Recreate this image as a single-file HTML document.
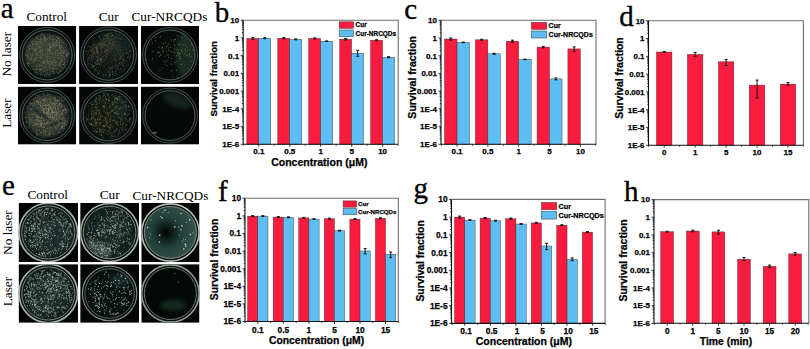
<!DOCTYPE html>
<html><head><meta charset="utf-8"><style>html,body{margin:0;padding:0;background:#fff;}svg{display:block}</style></head>
<body><svg width="810" height="349" viewBox="0 0 810 349">
<rect width="810" height="349" fill="#fff"/>
<defs><filter id="bl03" x="-5%" y="-5%" width="110%" height="110%"><feGaussianBlur stdDeviation="0.35"/></filter><filter id="bl06" x="-5%" y="-5%" width="110%" height="110%"><feGaussianBlur stdDeviation="0.6"/></filter><filter id="bl2" x="-30%" y="-30%" width="160%" height="160%"><feGaussianBlur stdDeviation="2.2"/></filter></defs>
<clipPath id="cp0"><rect x="18.00" y="25.90" width="58.20" height="58.10"/></clipPath>
<clipPath id="ci0"><circle cx="47.10" cy="54.95" r="25.14"/></clipPath>
<g clip-path="url(#cp0)">
<rect x="18.00" y="25.90" width="58.20" height="58.10" fill="#040605"/>
<circle cx="47.10" cy="54.95" r="27.94" fill="#0a100e"/>
<circle cx="47.10" cy="54.95" r="25.14" fill="#0b1312"/>
<g clip-path="url(#ci0)">
<ellipse cx="47.10" cy="53.55" rx="21.79" ry="18.16" fill="#44463a" fill-opacity="0.7" filter="url(#bl2)"/>
<path d="M39.4 39.7h0M35.0 60.5h0M50.5 50.4h0M38.4 67.8h0M35.9 58.2h0M46.6 34.9h0M58.6 58.1h0M39.0 63.5h0M50.6 53.0h0M66.5 53.8h0M28.0 63.7h0M37.7 50.0h0M44.9 57.1h0M43.4 48.8h0M41.4 57.8h0M55.4 55.6h0M54.8 35.5h0M59.3 71.3h0M41.2 34.3h0M49.0 34.3h0M32.6 66.8h0M62.5 68.3h0M57.6 43.0h0M37.5 44.5h0M67.0 52.7h0M33.9 42.1h0M46.2 61.6h0M29.0 61.9h0M42.6 50.7h0M60.5 39.5h0M53.6 56.1h0M44.2 71.2h0M43.6 38.9h0M40.7 53.1h0M64.7 51.5h0M47.2 56.3h0M32.8 53.8h0M49.6 47.4h0M59.0 55.3h0M52.0 55.2h0M55.5 52.9h0M46.1 74.2h0M36.6 57.5h0M28.5 62.3h0M42.7 54.4h0M39.8 60.4h0M43.7 72.9h0M36.6 39.7h0M38.9 46.5h0M61.7 50.3h0M40.2 69.4h0M44.7 44.6h0M41.9 53.8h0M38.6 43.3h0M48.4 65.9h0M31.8 64.7h0M64.2 60.5h0M60.7 39.2h0M47.3 69.5h0M61.3 58.6h0M41.0 37.7h0M49.7 60.5h0M60.1 65.8h0M55.1 66.6h0M37.0 62.4h0M54.8 45.8h0M64.3 41.8h0M45.3 68.9h0M50.7 39.3h0M61.1 55.3h0M56.0 43.2h0M65.7 64.2h0M61.7 45.6h0M36.2 44.7h0M33.6 49.4h0M63.8 68.5h0M57.2 52.8h0M32.4 42.2h0M47.0 42.7h0M36.6 58.0h0M28.0 45.3h0M30.8 55.1h0M64.3 53.8h0M48.1 62.9h0M56.8 61.4h0M59.4 43.3h0M36.3 60.9h0M38.5 53.2h0M35.5 43.9h0M36.5 62.2h0M40.0 51.5h0M33.9 67.9h0M47.3 42.1h0M35.0 51.3h0M42.5 42.4h0M27.9 50.3h0M63.8 65.1h0M40.9 69.0h0M43.2 68.5h0M36.5 65.7h0M40.1 45.0h0M52.2 44.6h0M58.2 73.1h0M35.5 53.9h0M44.0 54.7h0M33.3 68.1h0M61.2 66.8h0M49.4 47.4h0M35.5 51.3h0M54.7 65.8h0M54.3 38.4h0M36.0 39.8h0M60.5 61.6h0M29.8 53.9h0M30.5 41.4h0M29.9 59.1h0M34.2 44.3h0M38.9 42.0h0M42.5 57.1h0M41.2 41.8h0M64.6 51.6h0M49.3 61.1h0M46.7 68.2h0M33.9 38.7h0M65.7 50.1h0M34.8 50.6h0M51.4 57.1h0M38.7 51.5h0M44.4 34.2h0M46.6 43.4h0M47.5 34.9h0M28.9 65.1h0M47.6 35.5h0M68.1 54.6h0M28.2 48.5h0M59.5 38.2h0M53.0 48.8h0M49.5 58.4h0M52.8 50.3h0M50.5 48.9h0M44.6 40.9h0M36.4 61.0h0M53.1 71.1h0M53.4 52.5h0M57.3 44.0h0M34.0 59.7h0M64.1 67.3h0M57.8 53.4h0M39.9 65.8h0M49.4 52.2h0M48.1 44.7h0M36.7 43.4h0M35.7 72.7h0M55.5 62.2h0M45.8 69.8h0M62.7 52.2h0M52.4 36.6h0M27.1 63.3h0M51.0 49.0h0M60.7 60.8h0M36.5 45.5h0M41.3 47.1h0M47.3 70.3h0M59.0 48.3h0M48.8 42.6h0M34.1 66.4h0M53.1 36.7h0M55.7 67.5h0M34.3 44.6h0M47.2 49.7h0M35.5 53.2h0M58.2 66.0h0M62.1 62.0h0M32.7 52.3h0M38.4 63.8h0M39.6 41.4h0M57.1 37.6h0M29.7 49.9h0M42.7 67.6h0M35.3 64.6h0M59.0 63.7h0M43.6 67.3h0M49.0 40.2h0M50.3 56.7h0M47.6 61.0h0M48.0 51.0h0M58.5 38.5h0M36.9 42.9h0M30.9 67.0h0M53.0 53.6h0M40.7 61.0h0M49.2 38.6h0M31.5 43.3h0M40.4 39.8h0M59.8 40.5h0M51.8 67.2h0M64.3 67.5h0M33.9 63.4h0M57.6 52.3h0M47.0 56.7h0M45.7 57.7h0M51.9 62.9h0M47.6 54.3h0M52.6 47.9h0M41.3 53.8h0M43.7 57.3h0M47.3 45.0h0M67.8 61.7h0M50.9 60.8h0M51.8 61.8h0M65.0 59.8h0M52.6 63.5h0M55.0 42.4h0M59.1 73.0h0M41.4 69.0h0M60.6 58.2h0M51.1 74.0h0M55.1 38.5h0M56.7 43.7h0M59.0 64.3h0M57.1 36.8h0M56.2 53.2h0M54.8 39.5h0M41.1 61.3h0M43.5 50.0h0M61.4 47.6h0M64.0 49.6h0M51.5 72.2h0M36.8 51.6h0M61.6 68.5h0M50.2 45.1h0M60.5 63.0h0M40.4 36.9h0M60.1 41.9h0M34.3 44.3h0M50.6 72.2h0M48.1 53.9h0M55.9 49.0h0M41.6 37.8h0M59.6 40.0h0M63.1 54.4h0M27.5 57.5h0M45.3 74.4h0M36.5 57.8h0M44.8 40.1h0M40.7 72.5h0M59.6 64.1h0M31.6 66.1h0M54.8 46.2h0M44.8 37.4h0M27.8 64.3h0M34.1 49.0h0M29.6 45.8h0M65.1 42.7h0M31.3 41.0h0M37.2 42.1h0M56.2 68.5h0M57.2 50.9h0M39.9 69.9h0M46.8 33.8h0M32.4 49.3h0M47.8 38.4h0M56.3 49.8h0M66.9 54.7h0M26.1 59.3h0M30.7 54.7h0M31.3 59.0h0M31.7 58.1h0M32.5 69.2h0M42.3 51.5h0M48.2 50.4h0M39.9 52.1h0M47.9 74.9h0M36.2 51.6h0M52.9 68.4h0M53.3 44.7h0M37.2 56.8h0M52.4 44.1h0M51.2 74.8h0M37.0 53.5h0M49.1 69.8h0M56.3 53.2h0M35.9 42.8h0M42.2 52.3h0M30.1 43.0h0M40.7 62.6h0M62.4 68.9h0M57.5 65.6h0M46.0 67.4h0M59.5 71.2h0M31.6 58.2h0M39.4 69.9h0M48.8 76.7h0M66.6 62.6h0M49.8 58.2h0M40.3 56.3h0M32.8 47.0h0M64.3 63.2h0M33.3 60.6h0M59.6 46.5h0M62.0 58.7h0M33.9 54.9h0M36.9 61.3h0M32.7 55.9h0M64.1 58.6h0M62.6 46.9h0M60.9 46.4h0M67.1 54.8h0M35.9 50.1h0M35.0 46.6h0M49.8 38.2h0M44.6 69.6h0M32.2 48.5h0M45.0 38.9h0M36.7 72.4h0M41.3 43.9h0M58.9 49.9h0M62.4 47.2h0M64.9 66.9h0M43.3 61.9h0M65.1 65.2h0M53.1 41.0h0M36.0 38.0h0M58.0 36.9h0M42.5 65.7h0M37.6 37.1h0M43.8 73.7h0M57.5 69.3h0M45.0 35.5h0M44.0 55.5h0M49.1 75.4h0M38.8 39.1h0M47.8 52.6h0M40.6 46.2h0M60.8 57.1h0M32.7 62.2h0M45.4 66.5h0M37.6 41.8h0M29.0 64.4h0M44.2 41.4h0M53.4 60.5h0M33.4 61.0h0M59.5 69.3h0M39.5 41.2h0M39.3 49.2h0M27.1 57.9h0M61.0 63.9h0M32.2 46.2h0M62.0 70.4h0M43.9 45.5h0M44.4 62.2h0M38.2 52.5h0M39.4 53.2h0M50.6 51.3h0M49.2 38.1h0M36.4 37.3h0M36.3 54.5h0M62.9 57.2h0M58.3 38.2h0M56.8 37.6h0M42.4 40.6h0M56.1 51.7h0M52.4 71.2h0M58.6 62.8h0M30.7 49.4h0M51.6 37.5h0M60.3 38.1h0M44.8 69.7h0M49.5 45.8h0M41.9 39.4h0M48.8 63.2h0M40.2 39.7h0M33.3 68.8h0M62.1 50.3h0M34.7 72.1h0M41.0 53.5h0M50.1 56.2h0M49.7 66.8h0M59.1 60.8h0M41.1 45.4h0M55.0 46.4h0M57.5 55.3h0M57.0 57.2h0M40.1 73.3h0M59.1 51.8h0M28.3 54.3h0M32.5 44.8h0M51.6 70.8h0M33.9 65.1h0M51.5 36.6h0M33.5 56.6h0M39.5 65.8h0M60.8 51.6h0M51.0 57.3h0M51.5 47.6h0M36.5 64.2h0M59.1 46.6h0M25.7 53.9h0M59.0 49.0h0M27.9 55.0h0M57.3 36.0h0M49.9 51.0h0M35.4 42.0h0M53.3 46.2h0M37.0 65.9h0M63.8 48.9h0M62.9 41.1h0M65.3 64.4h0M35.5 67.7h0M40.7 54.8h0M40.5 42.5h0M55.3 61.6h0M49.2 63.2h0M39.2 51.4h0M65.7 44.3h0M55.6 47.3h0M49.2 46.9h0M62.5 55.4h0M56.3 50.3h0M52.0 44.7h0M45.9 64.6h0M65.7 56.2h0M53.2 69.2h0M41.9 69.4h0M29.1 50.4h0M55.0 49.2h0M43.8 67.7h0M43.1 61.4h0M40.7 50.0h0M48.2 54.8h0M47.6 69.1h0M54.9 57.3h0M62.7 57.4h0M63.1 68.1h0M60.2 41.9h0M48.5 51.0h0M39.4 45.1h0M38.0 64.1h0M51.1 53.0h0M51.3 41.0h0M50.7 47.1h0M53.2 42.9h0M29.4 53.4h0M46.4 70.8h0M37.1 72.1h0M26.7 59.3h0M40.3 74.3h0M49.7 37.3h0M53.5 38.9h0M40.7 49.5h0M32.5 40.6h0M39.8 69.9h0M45.7 40.3h0M35.8 71.1h0M66.4 54.4h0M26.7 50.3h0M50.5 43.4h0M36.0 59.3h0M27.1 60.1h0M60.8 48.1h0M29.1 43.8h0M46.2 54.8h0M64.9 65.9h0M34.0 60.4h0M59.6 37.2h0M40.5 40.2h0M64.7 65.6h0M61.3 67.3h0M46.8 72.7h0M56.3 50.2h0M59.9 62.9h0M51.2 69.6h0M34.6 48.6h0M55.1 35.0h0M33.3 45.0h0M41.1 42.9h0M47.1 74.8h0M61.5 40.2h0M66.5 53.0h0M49.4 70.7h0M41.7 73.6h0M54.3 36.5h0M48.1 62.6h0M47.0 49.0h0M58.0 72.0h0M39.5 39.1h0M42.4 65.7h0M49.0 51.5h0M53.6 68.2h0M41.9 75.1h0M50.4 69.2h0M40.4 39.3h0M33.5 46.6h0M44.9 69.6h0M58.3 53.7h0M41.1 73.1h0M28.4 57.1h0M54.9 51.1h0M30.2 46.5h0M67.5 60.8h0M59.1 50.4h0M63.3 56.3h0M47.2 70.3h0M50.5 50.8h0M37.2 70.0h0M61.8 39.7h0M58.2 55.0h0M64.5 65.5h0M56.0 63.8h0M37.3 36.1h0M35.1 37.2h0M27.9 52.6h0M59.9 42.3h0M52.8 64.7h0M42.7 55.5h0M35.2 71.0h0M45.1 62.9h0M36.9 57.6h0M62.9 64.6h0M40.8 72.3h0M59.9 53.9h0M64.9 64.1h0M68.0 52.2h0M42.1 68.5h0M39.4 60.4h0M34.0 53.1h0M45.8 50.6h0M56.4 43.6h0M35.3 50.3h0M61.2 60.8h0M34.9 62.4h0M58.3 37.7h0M56.3 41.3h0M59.6 71.9h0M49.5 69.0h0M52.3 59.1h0M57.1 70.2h0M58.5 39.6h0M30.3 63.3h0M51.9 61.4h0M57.2 67.9h0M63.6 41.0h0M29.4 52.5h0M53.8 73.8h0M39.6 66.7h0M64.1 67.8h0M48.4 61.5h0M66.2 50.9h0M36.6 64.4h0M33.0 52.2h0M55.4 65.7h0M67.3 61.2h0M53.9 59.2h0M46.8 75.4h0M55.4 52.5h0M61.4 43.0h0M54.0 58.7h0M68.1 49.9h0M53.3 53.7h0M27.5 62.1h0M41.0 53.6h0M57.7 57.7h0M39.2 42.1h0M41.1 38.4h0M45.8 65.4h0M35.5 54.9h0M53.7 39.5h0M62.7 49.2h0M33.2 43.0h0M57.9 58.6h0M46.1 55.5h0M46.8 76.4h0M41.6 40.2h0M36.5 53.0h0M48.1 58.5h0M43.1 71.9h0M37.9 45.8h0M63.2 51.5h0M62.3 68.3h0" fill="none" stroke="#b2b28a" stroke-opacity="0.42" stroke-width="0.48" stroke-linecap="round" filter="url(#bl03)"/>
<path d="M28.5 56.5h0M27.8 55.3h0M44.2 36.2h0M43.8 69.2h0M37.9 39.4h0M38.8 68.7h0M50.7 61.0h0M49.2 35.9h0M34.3 62.8h0M39.0 58.7h0M63.4 64.9h0M43.5 66.2h0M26.3 53.3h0M58.8 38.8h0M42.3 71.1h0M61.0 70.8h0M33.0 43.3h0M46.4 58.8h0M42.4 50.5h0M53.0 35.9h0M34.4 40.2h0M52.1 39.6h0M40.4 49.0h0M45.6 54.2h0M29.8 48.1h0M61.4 40.2h0M66.8 56.2h0M55.7 44.5h0M59.3 47.5h0M40.8 34.4h0M41.2 42.8h0M59.4 65.9h0M33.1 67.6h0M56.9 40.6h0M40.6 57.1h0M34.5 44.1h0M35.8 58.7h0M26.1 52.3h0M49.5 67.3h0M49.7 44.0h0M58.4 72.9h0M61.9 39.1h0M44.6 36.3h0M56.5 61.9h0M61.6 40.2h0M47.8 47.9h0M39.2 64.6h0M49.5 52.4h0M29.9 44.7h0M59.3 44.9h0M50.2 63.7h0M27.8 63.2h0M53.0 68.1h0M62.9 52.9h0M49.4 73.5h0M30.9 56.1h0M37.9 55.0h0M57.3 57.2h0M46.0 73.9h0M61.0 52.0h0M53.0 50.8h0M28.4 65.4h0M54.5 45.4h0M38.1 53.2h0M67.7 57.0h0M34.1 55.2h0M36.8 37.1h0M56.5 71.5h0M55.1 63.4h0M55.0 54.5h0M48.6 61.9h0M57.4 44.2h0M36.9 64.9h0M46.8 49.8h0M53.3 36.5h0M36.4 65.5h0M50.1 33.7h0M45.6 53.5h0M44.9 44.9h0M46.5 34.2h0M46.7 52.8h0M31.4 48.1h0M58.0 69.7h0M37.9 49.4h0M41.0 51.8h0M49.2 64.5h0M53.4 45.6h0M45.9 48.1h0M36.6 61.7h0M49.6 50.3h0M68.7 52.8h0M40.2 37.1h0M58.0 51.1h0M48.2 49.6h0M62.9 42.6h0M36.1 50.6h0M36.1 37.9h0M45.2 57.2h0M53.4 46.4h0M48.2 58.6h0M35.1 59.4h0M53.4 71.7h0M56.0 46.6h0M47.0 62.6h0M38.9 68.9h0M35.0 66.3h0M66.8 54.8h0M65.9 47.5h0M26.7 62.1h0M41.6 47.6h0M40.6 74.8h0M44.2 35.3h0M41.6 73.2h0M41.2 72.3h0M39.1 45.2h0M66.9 50.0h0M39.6 47.1h0M33.9 66.0h0M36.9 36.8h0M47.0 64.1h0M38.1 57.9h0M57.5 41.8h0M50.5 47.4h0M68.6 55.3h0M50.7 73.7h0M63.1 52.7h0M34.8 49.2h0M53.7 42.0h0M39.6 62.7h0M49.2 35.9h0M55.6 51.0h0M38.7 74.7h0M50.0 48.7h0M43.0 71.6h0M29.2 60.3h0M47.3 39.5h0M48.0 73.5h0M67.8 54.2h0M52.3 69.1h0M59.6 42.8h0M62.2 69.3h0M42.0 38.5h0M56.9 72.3h0M49.8 66.2h0M43.9 61.9h0M59.3 53.1h0M45.9 37.8h0M44.1 37.2h0M41.8 74.6h0M57.2 68.7h0M37.3 68.7h0M47.2 73.2h0M36.8 55.2h0M54.9 72.2h0M50.8 62.1h0M31.8 60.0h0M47.7 72.2h0M35.2 61.6h0M29.9 48.7h0M50.7 58.8h0M52.5 53.9h0M42.8 44.7h0M53.4 57.7h0M27.2 56.3h0M49.3 74.2h0M53.3 68.6h0M38.8 46.2h0M45.0 43.0h0M62.1 64.2h0M39.6 71.5h0M50.2 46.6h0M40.3 39.3h0M55.7 65.3h0M30.0 42.1h0M52.8 45.7h0M29.6 66.2h0M39.2 51.6h0M26.7 51.2h0M25.5 54.6h0M60.0 41.2h0M40.4 69.4h0M66.4 45.5h0M55.8 54.9h0M40.8 50.6h0M40.5 47.4h0M50.6 38.7h0M63.9 43.5h0M32.0 40.0h0M39.5 55.9h0M60.0 65.1h0M33.9 61.0h0M34.3 50.1h0M47.1 60.7h0M31.5 59.5h0M57.6 72.7h0M50.3 65.8h0M54.9 61.1h0M39.0 60.5h0M52.7 44.1h0M45.1 60.2h0M54.7 73.7h0M53.8 67.1h0M46.7 75.6h0M66.3 55.8h0M34.5 63.0h0M40.8 35.6h0M42.7 33.7h0M43.6 63.6h0M66.3 56.1h0M60.2 50.2h0M60.9 53.6h0M40.8 70.2h0M41.7 44.2h0M56.8 45.4h0M38.5 54.1h0M53.1 61.9h0M64.8 67.3h0M61.5 60.8h0M53.9 44.1h0M49.5 44.7h0M31.4 54.6h0M45.7 39.5h0M61.9 49.5h0M53.1 60.9h0M58.9 42.3h0M38.1 69.2h0M39.7 47.0h0M63.9 56.9h0M45.3 66.4h0M49.8 44.4h0M43.7 47.0h0M53.3 73.9h0M50.0 34.9h0M44.8 33.8h0M46.0 51.1h0M53.4 42.4h0M38.9 64.9h0M62.8 54.4h0M41.3 58.2h0M50.0 45.9h0M51.5 46.6h0M60.9 71.8h0M51.8 62.7h0M59.8 53.2h0M60.5 66.8h0M33.6 41.5h0M42.9 55.7h0M40.3 55.8h0M36.7 67.1h0M34.1 41.0h0M28.1 59.2h0M67.0 62.3h0M58.3 37.8h0M36.5 38.6h0M32.7 43.6h0M56.6 41.7h0M62.0 60.5h0M40.1 69.0h0M52.7 39.4h0M36.9 51.1h0M37.1 69.7h0M32.6 54.6h0M64.3 62.3h0M46.1 45.6h0M27.8 64.8h0M60.5 48.0h0M48.3 41.3h0M56.3 41.7h0M29.1 59.7h0M46.1 71.2h0M33.4 69.4h0M25.5 55.8h0M60.9 70.9h0M48.4 56.6h0M36.2 68.8h0M29.5 63.6h0M48.1 63.8h0M63.2 64.4h0M37.5 38.5h0M59.2 47.9h0M60.8 70.1h0M41.2 56.3h0M44.2 55.2h0M44.2 74.6h0M38.6 61.4h0M31.0 46.0h0M37.9 43.8h0M50.2 61.5h0M52.0 53.6h0M42.0 58.7h0M40.7 70.7h0M49.6 54.6h0M59.0 40.1h0M63.3 52.3h0M57.5 39.9h0M58.7 58.7h0M67.3 58.1h0M41.9 52.9h0M56.8 45.9h0M49.5 49.9h0M59.6 70.2h0M44.7 41.2h0M43.9 72.8h0M27.4 57.8h0M47.9 63.0h0M40.9 59.1h0M29.6 49.5h0M67.3 54.4h0M61.3 55.5h0M43.7 40.0h0M47.6 55.2h0M53.0 35.0h0M43.2 38.5h0M58.4 37.8h0M52.0 68.3h0M39.4 64.3h0M32.7 44.8h0M64.7 58.5h0M44.9 50.0h0M44.5 60.2h0M46.4 67.7h0M32.9 48.8h0M42.1 50.7h0M30.7 69.1h0M36.0 41.5h0M54.3 48.0h0M56.1 37.2h0M41.7 74.9h0M66.8 55.2h0M34.6 71.2h0M47.7 56.8h0M50.0 46.7h0M30.1 57.7h0M47.1 46.1h0M38.9 43.0h0M56.5 45.5h0M54.9 62.1h0M36.1 70.1h0M52.7 41.1h0M32.4 41.8h0M41.9 34.9h0M50.2 64.4h0M44.3 63.0h0M59.1 45.6h0M62.5 59.6h0M30.9 66.4h0M55.9 68.3h0M49.0 44.0h0M40.9 51.1h0M54.5 43.5h0M31.5 57.7h0M30.3 45.8h0M44.8 38.1h0M45.7 49.0h0M49.9 37.9h0M53.8 44.1h0M59.1 69.7h0M41.4 69.4h0M66.5 54.7h0M28.8 63.1h0M44.6 75.4h0M27.1 52.3h0M47.7 51.5h0M40.5 41.7h0M52.3 68.5h0M54.8 59.7h0M50.2 74.7h0M53.5 46.2h0M33.5 62.7h0M29.0 61.9h0M49.9 50.4h0M35.2 58.1h0M47.7 58.8h0M43.1 36.4h0M49.8 66.9h0M35.6 49.4h0M51.2 42.4h0M32.6 65.6h0M66.6 64.6h0M54.7 44.3h0M30.1 68.1h0M63.4 68.0h0M42.4 53.9h0M51.9 36.5h0M42.2 48.6h0M50.5 47.7h0M45.3 76.1h0M31.7 62.4h0M37.2 55.0h0M40.6 57.2h0M27.9 47.9h0M68.4 54.1h0M35.9 43.4h0M63.3 52.9h0M50.1 46.3h0M28.2 46.3h0M50.6 76.2h0M37.3 44.4h0M34.8 50.6h0M63.5 48.0h0M53.2 73.4h0M43.0 62.7h0M27.8 51.2h0M52.6 47.7h0M51.4 44.4h0M49.9 76.2h0M52.1 64.7h0M31.5 66.6h0M67.9 52.9h0M48.1 74.2h0M35.3 66.1h0M41.2 39.7h0M57.5 73.3h0M47.1 60.9h0M60.2 53.2h0M42.8 70.8h0M66.5 60.5h0M36.3 44.6h0M34.7 58.0h0M37.6 47.6h0M55.1 59.2h0M50.6 71.6h0M57.4 37.4h0M55.1 37.1h0M27.0 55.2h0M44.1 37.7h0M46.5 39.1h0M33.1 63.0h0M57.5 55.0h0M63.8 65.0h0M33.0 44.7h0M27.2 55.3h0M49.6 49.0h0M63.4 64.4h0M42.2 50.0h0M41.7 43.7h0M59.5 72.8h0M52.7 65.6h0M52.0 62.7h0M52.7 56.8h0M46.1 42.8h0M48.3 68.6h0M32.8 69.0h0M36.3 37.6h0M60.3 55.9h0M55.6 52.7h0M60.1 66.2h0M35.7 49.3h0M41.9 33.9h0M50.2 35.7h0M56.6 45.1h0M35.8 69.5h0M53.0 70.6h0M41.5 35.1h0M41.3 64.2h0M41.5 62.2h0M28.4 66.1h0M51.1 53.3h0M61.9 51.2h0M64.1 52.3h0M57.6 50.7h0M58.9 38.3h0M58.1 57.8h0M55.0 64.1h0M27.7 63.3h0M60.9 71.2h0M39.9 55.7h0M36.7 46.8h0M43.6 35.4h0M36.5 42.0h0M48.7 49.5h0M46.6 58.6h0M49.5 35.4h0M44.7 71.4h0M44.2 61.0h0M49.8 68.1h0M54.7 62.6h0M34.5 69.7h0M43.4 61.9h0M64.8 63.1h0M27.8 63.5h0M61.7 46.0h0M39.4 69.8h0M42.4 34.6h0M44.0 62.7h0M66.3 56.1h0M40.5 65.9h0M48.9 37.0h0M27.5 47.7h0M36.1 65.5h0M59.6 46.2h0M59.7 59.1h0M26.8 55.5h0M46.2 39.7h0M46.9 56.5h0M47.4 49.1h0M42.9 42.0h0M50.2 63.2h0M58.0 39.9h0M38.0 72.0h0M59.5 64.1h0M45.4 73.3h0M66.3 51.1h0M54.9 39.8h0M31.4 41.8h0M54.6 65.7h0M60.3 58.9h0M48.5 74.4h0M36.3 69.7h0M33.9 53.1h0M61.3 50.9h0M53.7 69.6h0M25.5 54.5h0M30.1 68.6h0M51.7 53.1h0M52.3 45.9h0M37.1 63.7h0M54.1 68.3h0M51.9 72.1h0M36.2 48.5h0M44.7 74.9h0M54.1 60.7h0M55.1 57.5h0M50.9 58.3h0M37.6 66.4h0M55.4 45.3h0M57.5 40.6h0M27.6 46.1h0M33.9 47.1h0M30.0 44.5h0M42.1 75.2h0M59.2 46.9h0M54.5 66.0h0M37.9 60.6h0M61.3 57.8h0M66.3 44.7h0M57.7 48.1h0M60.4 48.4h0M54.5 72.4h0M40.1 36.0h0M53.6 71.5h0M61.2 45.1h0M41.0 63.6h0M61.9 47.3h0M52.7 39.2h0M35.1 60.6h0M39.7 57.9h0M60.6 56.6h0M47.3 51.6h0M28.4 54.0h0M45.1 48.1h0M42.9 45.5h0M57.4 55.7h0M33.9 63.8h0M56.8 64.5h0M36.8 48.6h0M38.6 35.1h0M45.1 37.6h0M32.0 67.0h0M49.9 55.3h0M34.6 58.7h0M59.6 53.4h0M64.1 56.4h0M46.4 61.0h0M35.9 72.6h0M29.8 58.9h0M53.0 64.0h0M28.3 64.7h0M55.5 53.7h0M64.9 59.3h0M53.1 73.2h0M32.4 55.5h0M49.1 45.8h0M60.7 53.1h0M53.6 42.2h0M49.1 48.5h0M29.7 49.2h0M48.0 53.0h0M61.8 64.4h0M55.0 70.2h0M44.6 63.9h0M38.4 48.3h0M58.1 45.1h0M43.3 34.1h0M39.0 60.5h0M48.7 75.2h0M37.8 72.7h0M36.1 44.4h0M55.4 42.3h0M38.6 35.9h0M37.2 66.7h0M29.7 46.4h0M40.2 69.4h0M60.3 62.4h0M33.2 39.4h0M50.1 42.9h0M41.2 64.7h0M59.7 44.1h0M48.1 38.0h0M60.0 45.6h0M58.6 42.9h0M34.9 49.9h0M44.4 38.2h0M56.3 37.2h0M46.2 40.7h0M44.5 38.3h0M49.5 36.3h0M48.2 43.6h0M63.0 42.4h0M36.9 73.4h0M57.2 36.4h0M46.3 41.0h0M53.8 55.6h0M44.4 39.3h0M42.8 62.8h0M34.7 69.5h0M39.3 50.9h0M56.3 39.2h0M32.6 58.7h0M37.0 74.2h0M47.7 38.2h0" fill="none" stroke="#b2b28a" stroke-opacity="0.42" stroke-width="0.72" stroke-linecap="round" filter="url(#bl03)"/>
<ellipse cx="34.53" cy="64.73" rx="6.98" ry="2.79" fill="#0a1412" fill-opacity="0.3" filter="url(#bl06)" transform="rotate(-30 34.53 64.73)"/>
</g>
<circle cx="47.10" cy="54.95" r="25.00" fill="none" stroke="#627068" stroke-width="0.8" filter="url(#bl03)"/>
<circle cx="47.10" cy="54.95" r="27.52" fill="none" stroke="#4c5a52" stroke-width="0.8" filter="url(#bl03)"/>
</g>
<clipPath id="cp1"><rect x="79.10" y="25.90" width="58.90" height="58.10"/></clipPath>
<clipPath id="ci1"><circle cx="108.55" cy="54.95" r="25.44"/></clipPath>
<g clip-path="url(#cp1)">
<rect x="79.10" y="25.90" width="58.90" height="58.10" fill="#040605"/>
<circle cx="108.55" cy="54.95" r="28.27" fill="#0a100e"/>
<circle cx="108.55" cy="54.95" r="25.44" fill="#0a1211"/>
<g clip-path="url(#ci1)">
<ellipse cx="117.03" cy="45.05" rx="14.14" ry="11.31" fill="#1e3a40" fill-opacity="0.35" filter="url(#bl2)"/>
<ellipse cx="107.14" cy="52.12" rx="16.96" ry="14.14" fill="#2a2c20" fill-opacity="0.5" filter="url(#bl2)"/>
<path d="M95.6 54.5h0M94.4 70.5h0M108.4 45.8h0M103.1 46.0h0M96.1 67.5h0M94.6 62.2h0M97.7 64.6h0M107.0 49.8h0M116.8 41.5h0M112.1 36.0h0M105.0 60.7h0M98.2 64.4h0M105.0 56.3h0M100.2 63.4h0M112.5 35.2h0M113.8 35.4h0M101.4 51.9h0M104.9 48.3h0M110.0 45.7h0M95.8 64.9h0M101.5 58.1h0M98.0 70.2h0M115.4 47.3h0M96.8 70.1h0M110.9 47.0h0M92.5 56.9h0M98.7 57.0h0M100.0 58.9h0M108.9 46.1h0M110.4 43.1h0M98.1 63.5h0M100.5 54.6h0M95.1 63.7h0M107.1 57.8h0M100.8 53.2h0M93.4 67.2h0M112.9 32.9h0M110.5 52.0h0M96.5 64.8h0M99.2 70.7h0M102.4 53.6h0M111.1 44.3h0M108.4 39.4h0M104.2 52.1h0M95.0 68.5h0M102.9 61.4h0M92.7 67.3h0M118.2 37.3h0M99.3 64.1h0M101.8 49.3h0M99.0 66.8h0M108.5 40.3h0M110.6 49.2h0M118.1 42.5h0M98.8 60.5h0M110.4 55.1h0M105.2 54.1h0M97.8 60.3h0M118.5 45.7h0M111.0 45.0h0M105.5 49.6h0M103.5 56.8h0M115.1 41.8h0M99.5 65.7h0M96.2 60.9h0M108.4 36.9h0M112.0 53.0h0M108.5 45.4h0M104.5 59.6h0M96.0 57.2h0M101.9 51.5h0M107.7 47.5h0M97.8 62.6h0M104.8 44.8h0M116.1 46.5h0M97.0 60.7h0M92.0 67.2h0M109.1 42.0h0M94.8 65.8h0M99.3 66.4h0M100.7 61.3h0M98.2 68.4h0M97.8 59.4h0M95.4 69.9h0M116.9 38.0h0M113.2 41.6h0M108.5 55.1h0M97.0 62.1h0M104.8 43.8h0M97.8 72.4h0M104.8 55.4h0M96.9 60.6h0M106.6 54.4h0M107.0 40.8h0M94.7 65.8h0M94.1 69.7h0M110.2 41.2h0M97.6 50.6h0M109.9 48.8h0M110.0 38.1h0M92.6 65.8h0M106.9 47.3h0M109.9 43.3h0M98.3 70.1h0M111.5 39.7h0M109.2 43.5h0M92.8 65.7h0M112.2 42.5h0M114.3 31.7h0M111.1 36.5h0M108.0 49.9h0M101.6 62.1h0M107.5 50.7h0M94.7 69.3h0M95.4 71.7h0M99.0 54.4h0M107.0 36.4h0M113.7 34.9h0M98.8 55.1h0M105.5 38.1h0M106.9 38.6h0M100.6 48.2h0M100.0 44.3h0M104.4 41.9h0M99.6 42.6h0M104.3 35.8h0M98.3 53.4h0M100.8 45.7h0M89.8 51.0h0M112.6 32.4h0M101.2 46.0h0M105.2 43.1h0M86.9 58.9h0M92.4 55.4h0M104.4 36.8h0M107.2 35.3h0M93.6 56.3h0M95.7 46.9h0M87.4 60.4h0M96.7 49.6h0M103.1 47.2h0M98.2 46.1h0M101.0 42.9h0M110.7 40.2h0M90.9 50.4h0M97.6 51.5h0M102.6 51.0h0M90.7 55.7h0M102.1 41.0h0M109.0 37.3h0M108.2 38.0h0M110.2 42.3h0M97.1 48.4h0M87.4 64.0h0M107.6 37.7h0M103.3 47.3h0M91.8 50.6h0M109.3 35.1h0M93.5 56.6h0M87.5 54.6h0M107.5 33.6h0M98.1 51.6h0M89.2 59.4h0M95.1 48.0h0M102.7 39.0h0M94.8 49.0h0M97.7 56.3h0M96.1 49.0h0M87.6 61.2h0M92.1 49.9h0M105.6 40.3h0M102.8 34.9h0M107.1 33.9h0M90.9 58.0h0M107.2 34.5h0M104.8 35.5h0M99.4 44.0h0M92.4 55.5h0M88.0 61.8h0M109.7 35.6h0M105.0 38.4h0M110.5 34.1h0M91.3 57.3h0M103.6 38.5h0M102.4 42.6h0M90.1 54.1h0M91.4 58.7h0M97.6 53.0h0M96.2 52.3h0M98.7 44.6h0M91.5 50.9h0M100.9 53.3h0M95.5 54.2h0M104.3 34.7h0M92.7 54.4h0M98.2 48.3h0M132.8 55.3h0M117.7 66.6h0M113.8 73.1h0M108.3 67.0h0M119.9 64.1h0M120.0 53.8h0M115.6 65.0h0M109.5 69.9h0M119.6 59.6h0M115.9 67.7h0M123.7 56.0h0M108.5 72.1h0M127.8 53.9h0M123.7 64.6h0M118.2 69.0h0M106.1 75.0h0M112.7 74.4h0M120.0 63.6h0M115.4 58.0h0M115.9 61.0h0M109.5 75.1h0M128.5 52.9h0M120.4 64.8h0M112.1 74.7h0M111.7 68.3h0M120.8 68.4h0M127.9 49.6h0M112.3 71.9h0M106.0 78.2h0M120.4 69.4h0M123.4 55.8h0M128.0 57.6h0M115.5 69.2h0M121.8 65.3h0M119.9 63.6h0M123.6 59.3h0M111.7 67.8h0M103.7 75.8h0M123.5 59.6h0M113.0 73.1h0M114.2 67.3h0M123.6 64.0h0M106.3 72.3h0M119.8 60.1h0M110.9 72.5h0M130.0 53.5h0M120.5 62.0h0M110.4 70.1h0M122.4 59.5h0M130.3 56.1h0M122.9 68.1h0M110.5 66.6h0M112.5 69.6h0M122.6 64.8h0M126.6 53.6h0M122.7 56.9h0M118.6 60.9h0M122.4 59.2h0M109.6 73.4h0M112.9 71.5h0M130.0 51.9h0M129.5 56.3h0M110.2 69.0h0M121.1 56.2h0M110.6 72.5h0M111.0 68.0h0M109.5 72.6h0M127.8 56.9h0M117.9 66.1h0M108.8 74.8h0M107.5 72.6h0M122.7 61.0h0M109.4 76.9h0M129.8 51.0h0M110.5 68.5h0M119.9 61.1h0M121.6 58.3h0M104.0 75.8h0M112.4 71.4h0M109.4 71.5h0M116.3 64.1h0M123.6 61.6h0M118.7 63.7h0M101.8 74.8h0M112.3 67.3h0M121.2 55.8h0M122.8 60.5h0M112.2 65.4h0M111.5 62.1h0M105.2 49.1h0M100.6 35.0h0M103.5 42.9h0M91.1 59.2h0M113.8 36.8h0M105.0 43.6h0M118.5 47.3h0M129.0 47.1h0M90.9 50.9h0M99.8 60.3h0M109.2 43.9h0M97.8 52.2h0M103.9 67.4h0M130.2 56.1h0M126.0 48.6h0M93.9 47.5h0M110.5 32.4h0M95.5 69.6h0M98.6 48.0h0M121.6 63.9h0M93.4 44.0h0M115.5 48.5h0M98.3 36.3h0M94.4 52.1h0M97.1 39.8h0M93.8 43.3h0M107.5 57.4h0M100.3 38.8h0M91.7 49.8h0M110.9 50.6h0M89.9 47.3h0M120.5 56.6h0M100.5 50.8h0M90.5 64.3h0M92.5 66.8h0M123.6 53.2h0M101.3 46.9h0M117.3 50.6h0M98.3 72.4h0M122.6 56.3h0M110.3 50.9h0M116.4 61.3h0M121.2 39.2h0M120.8 39.4h0M107.6 44.9h0M119.0 54.4h0M102.4 72.2h0M106.3 57.8h0M113.2 48.0h0M105.0 76.9h0M98.3 34.9h0M99.5 62.8h0M113.0 45.9h0M93.9 44.6h0M124.1 47.6h0M129.6 59.0h0M88.8 56.9h0M90.6 49.2h0M112.1 74.6h0M125.6 43.9h0M86.8 51.2h0M97.4 48.9h0M96.6 64.4h0M106.7 68.3h0M109.4 76.7h0M122.5 71.3h0M96.0 52.2h0M93.3 50.5h0M91.7 60.0h0M107.3 53.7h0M106.9 57.2h0M96.0 60.9h0M97.1 63.6h0M119.6 60.9h0M105.5 33.6h0M114.5 41.5h0M97.2 46.8h0M121.2 50.0h0M105.0 52.2h0M98.0 74.0h0M101.7 35.4h0M91.0 65.2h0M124.0 69.8h0M130.4 51.1h0M122.2 58.6h0M131.1 54.8h0M104.6 66.0h0M126.1 46.3h0M118.4 65.4h0M95.2 65.0h0M113.9 42.6h0M125.1 60.9h0M93.7 44.3h0M88.6 46.0h0M107.7 73.5h0M114.8 58.8h0M91.5 55.0h0M91.2 46.8h0M116.4 60.8h0M123.8 71.5h0M124.8 69.4h0M103.2 36.9h0M114.9 61.2h0M101.8 72.4h0M89.9 42.2h0" fill="none" stroke="#aca672" stroke-opacity="0.42" stroke-width="0.48" stroke-linecap="round" filter="url(#bl03)"/>
<path d="M105.7 59.8h0M102.6 45.3h0M118.9 38.7h0M109.1 48.9h0M105.1 41.6h0M112.3 44.7h0M110.6 40.9h0M107.5 53.4h0M98.0 60.5h0M115.6 32.4h0M99.1 47.9h0M110.8 43.9h0M103.0 59.4h0M100.7 59.8h0M96.6 67.7h0M102.8 56.4h0M112.3 43.8h0M110.8 33.1h0M97.6 59.5h0M116.8 38.6h0M113.4 35.9h0M112.6 35.7h0M101.1 48.1h0M94.5 53.9h0M108.1 42.7h0M94.9 65.9h0M104.4 62.0h0M93.6 66.6h0M104.6 51.5h0M93.3 66.9h0M109.7 51.7h0M114.9 39.6h0M105.4 51.4h0M95.7 63.4h0M113.0 42.3h0M105.4 56.0h0M91.6 67.1h0M99.6 58.1h0M99.3 73.2h0M115.4 36.6h0M97.8 63.1h0M100.4 60.3h0M113.1 40.2h0M105.8 49.6h0M115.5 45.8h0M106.4 53.1h0M96.8 56.3h0M92.2 64.5h0M99.7 55.3h0M108.9 47.9h0M120.8 38.8h0M104.3 39.4h0M101.9 61.6h0M104.2 46.6h0M93.3 65.6h0M106.5 46.0h0M106.5 35.4h0M119.5 34.3h0M109.2 43.4h0M108.8 42.4h0M113.4 41.2h0M107.1 45.3h0M107.3 55.7h0M105.0 51.6h0M102.9 40.8h0M101.3 60.1h0M113.2 44.7h0M114.5 38.5h0M92.0 64.7h0M102.7 43.9h0M112.9 38.9h0M116.3 34.0h0M118.4 35.3h0M101.3 58.4h0M117.9 35.8h0M98.8 58.5h0M112.3 46.5h0M101.1 61.8h0M93.2 66.6h0M100.8 59.6h0M104.0 59.9h0M107.3 52.1h0M100.0 71.4h0M116.0 48.8h0M108.8 37.6h0M111.3 47.2h0M102.4 65.7h0M111.5 35.9h0M101.5 64.6h0M97.3 64.4h0M104.6 45.2h0M115.8 42.1h0M106.7 50.2h0M108.3 50.4h0M118.3 44.7h0M111.9 45.7h0M107.5 49.6h0M99.5 65.2h0M100.7 58.5h0M99.7 64.2h0M103.9 69.4h0M98.1 73.7h0M112.5 35.1h0M95.3 68.9h0M107.8 35.7h0M100.7 50.1h0M105.2 53.8h0M114.7 44.9h0M103.1 57.2h0M113.6 48.8h0M101.0 44.4h0M98.1 60.7h0M117.1 33.9h0M106.1 58.3h0M115.1 36.9h0M107.2 56.8h0M108.3 54.4h0M91.1 56.3h0M92.5 60.2h0M104.3 38.5h0M98.3 51.6h0M86.9 56.0h0M98.2 47.0h0M92.7 51.8h0M94.1 52.9h0M88.8 57.7h0M108.8 31.0h0M93.0 53.0h0M97.4 51.3h0M106.0 36.9h0M106.0 35.1h0M107.0 39.9h0M106.4 36.1h0M93.3 50.3h0M92.9 49.9h0M96.6 49.3h0M92.7 48.5h0M104.0 41.1h0M95.7 63.4h0M90.7 60.3h0M94.3 51.3h0M101.2 44.7h0M106.4 38.4h0M98.6 44.1h0M86.1 51.4h0M107.1 36.4h0M93.9 48.8h0M96.1 45.4h0M91.5 51.5h0M103.4 33.8h0M97.9 53.5h0M97.0 50.0h0M97.9 45.0h0M97.2 45.7h0M89.8 56.1h0M92.9 58.4h0M92.2 62.5h0M108.8 34.0h0M97.1 51.1h0M100.2 42.4h0M103.4 36.7h0M88.9 58.6h0M93.6 58.9h0M96.4 48.6h0M105.1 44.8h0M89.9 49.9h0M96.5 50.8h0M99.0 43.9h0M89.1 57.9h0M94.6 44.6h0M93.1 53.0h0M108.8 34.9h0M105.9 34.9h0M107.4 35.9h0M103.2 42.8h0M111.5 33.3h0M100.7 39.4h0M101.0 40.7h0M99.1 37.3h0M107.3 37.4h0M92.1 46.0h0M105.3 44.9h0M103.3 39.5h0M99.4 37.2h0M92.6 55.0h0M101.1 43.7h0M105.9 42.1h0M96.6 48.6h0M109.7 33.5h0M96.5 52.9h0M100.9 45.9h0M108.1 33.6h0M96.3 46.7h0M102.6 44.8h0M89.8 55.0h0M93.9 46.6h0M96.5 57.2h0M96.6 47.3h0M101.2 38.9h0M93.3 52.7h0M104.7 35.9h0M110.2 38.9h0M88.2 61.1h0M123.0 58.8h0M126.2 61.7h0M131.7 51.6h0M126.7 60.7h0M108.1 67.2h0M116.5 67.9h0M124.4 58.8h0M118.4 66.2h0M118.8 60.8h0M109.4 74.7h0M130.8 57.2h0M128.3 57.7h0M112.2 67.4h0M110.0 68.9h0M124.7 57.4h0M125.5 53.0h0M108.3 77.3h0M122.9 55.3h0M116.8 65.7h0M110.7 74.1h0M109.0 68.4h0M121.0 57.8h0M109.5 74.9h0M114.0 59.7h0M122.7 61.3h0M129.3 55.4h0M107.3 71.6h0M122.6 53.9h0M111.3 68.4h0M130.1 58.1h0M106.2 74.8h0M106.6 70.1h0M106.3 75.6h0M108.8 70.8h0M112.1 72.2h0M121.9 62.5h0M114.8 66.1h0M126.4 57.6h0M115.7 61.9h0M126.0 50.0h0M108.7 72.0h0M115.3 63.8h0M121.1 59.5h0M109.7 67.5h0M122.4 65.6h0M123.0 63.8h0M120.7 59.0h0M106.4 69.5h0M129.1 51.0h0M124.0 59.3h0M120.9 56.8h0M115.7 72.9h0M127.4 57.8h0M109.3 75.3h0M119.5 59.5h0M123.5 60.0h0M113.8 66.0h0M112.7 74.4h0M118.2 62.7h0M115.2 71.8h0M128.6 54.5h0M119.4 69.3h0M115.7 66.0h0M104.9 71.7h0M121.1 70.7h0M121.9 59.2h0M130.5 50.7h0M113.0 73.2h0M112.3 65.2h0M129.4 59.9h0M112.5 67.4h0M110.0 74.9h0M114.4 75.6h0M106.1 76.4h0M124.3 61.7h0M107.7 76.9h0M115.6 59.0h0M120.2 58.2h0M105.2 51.4h0M111.3 48.7h0M118.6 50.2h0M112.7 48.9h0M128.4 45.3h0M123.8 43.2h0M117.5 68.4h0M118.3 53.1h0M88.7 65.4h0M122.5 62.4h0M119.0 37.8h0M101.4 58.2h0M105.8 69.1h0M114.8 47.8h0M91.6 57.7h0M98.4 67.7h0M93.4 41.0h0M95.6 47.4h0M120.3 50.6h0M105.2 74.0h0M103.2 44.6h0M106.8 56.2h0M105.5 35.5h0M100.7 43.6h0M115.5 37.5h0M123.1 58.8h0M120.0 47.8h0M99.4 36.9h0M115.0 63.2h0M87.9 60.0h0M115.7 55.4h0M126.4 53.5h0M121.3 38.2h0M124.4 63.5h0M117.0 68.3h0M93.0 62.1h0M92.0 39.8h0M111.8 37.7h0M121.9 72.2h0M102.7 47.9h0M119.7 72.3h0M120.3 57.5h0M99.7 36.2h0M117.3 74.4h0M126.7 66.1h0M121.3 63.1h0M109.9 75.8h0M126.5 64.6h0M124.4 39.1h0M118.2 69.6h0M89.4 58.1h0M97.7 52.6h0M111.2 52.4h0M91.5 48.0h0M117.1 64.6h0M106.9 45.3h0M107.0 60.2h0M124.5 69.2h0M101.7 59.4h0M100.8 46.1h0M110.1 75.6h0M97.9 57.7h0M89.2 63.8h0M127.8 56.4h0M116.2 70.5h0M111.2 70.7h0M110.2 58.3h0M127.6 52.2h0M104.6 59.1h0M118.2 38.3h0M120.1 59.4h0M86.8 51.9h0M112.5 76.7h0M89.3 63.7h0M100.6 46.6h0M100.6 68.4h0M90.5 60.7h0M119.7 62.6h0M113.5 51.5h0M130.9 57.5h0M103.6 74.8h0M115.4 71.5h0M88.9 46.2h0M104.6 75.8h0M114.0 56.8h0M108.6 34.0h0M113.5 68.9h0M119.2 64.0h0M116.4 60.9h0M121.6 68.1h0M96.5 71.1h0M119.9 42.6h0M88.7 52.0h0M109.5 67.0h0M119.3 58.3h0M111.6 35.8h0M100.0 37.9h0M103.8 44.5h0M96.0 62.1h0M86.8 54.7h0M97.6 49.6h0M97.0 47.0h0M102.2 47.0h0M123.8 65.7h0M126.7 53.0h0M103.0 35.4h0M93.7 48.0h0M103.2 74.7h0M111.9 62.8h0M94.3 38.5h0M124.5 66.4h0M110.1 40.0h0M109.9 33.5h0" fill="none" stroke="#aca672" stroke-opacity="0.42" stroke-width="0.72" stroke-linecap="round" filter="url(#bl03)"/>
<ellipse cx="105.72" cy="59.19" rx="15.55" ry="1.70" fill="#081010" fill-opacity="0.35" filter="url(#bl06)" transform="rotate(-50 105.72 59.19)"/>
<ellipse cx="114.20" cy="63.43" rx="12.72" ry="1.41" fill="#081010" fill-opacity="0.3" filter="url(#bl06)" transform="rotate(-30 114.20 63.43)"/>
</g>
<circle cx="108.55" cy="54.95" r="25.30" fill="none" stroke="#627068" stroke-width="0.8" filter="url(#bl03)"/>
<circle cx="108.55" cy="54.95" r="27.85" fill="none" stroke="#4c5a52" stroke-width="0.8" filter="url(#bl03)"/>
</g>
<clipPath id="cp2"><rect x="141.00" y="25.90" width="58.00" height="58.10"/></clipPath>
<clipPath id="ci2"><circle cx="170.00" cy="54.95" r="25.06"/></clipPath>
<g clip-path="url(#cp2)">
<rect x="141.00" y="25.90" width="58.00" height="58.10" fill="#040605"/>
<circle cx="170.00" cy="54.95" r="27.84" fill="#0a100e"/>
<circle cx="170.00" cy="54.95" r="25.06" fill="#080d0b"/>
<g clip-path="url(#ci2)">
<ellipse cx="189.49" cy="54.95" rx="13.92" ry="26.45" fill="#1c2e22" fill-opacity="0.9" filter="url(#bl2)"/>
<path d="M174.6 45.0h0M162.9 51.6h0M163.6 61.0h0M175.1 39.1h0M175.0 45.5h0M161.0 54.4h0M186.3 55.7h0M165.4 64.8h0M172.7 39.9h0M185.6 50.9h0M189.7 49.7h0M187.3 49.8h0M167.4 46.1h0M167.0 60.4h0M177.1 35.5h0M171.0 39.8h0M170.2 51.5h0M167.0 54.8h0M163.6 51.2h0M164.8 56.3h0M178.6 50.0h0M173.4 41.3h0M188.0 68.2h0M184.4 65.2h0M177.1 49.3h0M185.3 44.5h0M189.3 54.1h0M180.3 59.1h0M162.8 50.4h0M165.8 49.4h0M168.6 47.9h0M167.6 65.5h0M172.8 75.8h0M171.6 51.6h0M177.4 36.4h0M189.7 56.8h0M186.6 46.7h0M191.2 57.0h0M152.1 60.2h0M179.1 55.2h0M166.6 51.6h0" fill="none" stroke="#c4bc84" stroke-opacity="0.65" stroke-width="0.64" stroke-linecap="round" filter="url(#bl03)"/>
<path d="M158.8 47.2h0M192.8 49.9h0M161.9 48.3h0M171.8 70.9h0M185.2 48.9h0M171.4 58.7h0M179.8 56.6h0M168.6 57.6h0M171.2 64.2h0M179.6 53.8h0M165.3 62.2h0M178.3 44.3h0M191.0 61.4h0M174.9 62.7h0M179.1 52.9h0M174.7 49.1h0M160.0 70.3h0M183.7 45.1h0M181.3 64.7h0M152.5 43.1h0M160.3 55.2h0M177.8 61.0h0M157.9 52.4h0M177.7 53.1h0M168.1 55.2h0M152.9 51.3h0M189.4 54.7h0M177.3 77.2h0M178.1 55.0h0M162.0 68.2h0M158.9 52.1h0M162.2 47.4h0M182.0 37.9h0M176.4 55.9h0M168.6 50.1h0M174.4 52.2h0M182.3 52.0h0M175.2 39.6h0M176.3 70.3h0M180.2 44.7h0M187.1 55.3h0M155.7 40.9h0M166.7 46.5h0M158.9 52.6h0M174.6 39.9h0M181.5 50.2h0M168.8 44.0h0M170.5 47.3h0M179.9 58.5h0M159.5 56.3h0M146.6 59.7h0M184.3 53.7h0M163.4 43.8h0M191.1 44.8h0M165.4 42.3h0M160.4 36.8h0M152.6 58.4h0M172.9 52.2h0M155.7 37.4h0" fill="none" stroke="#c4bc84" stroke-opacity="0.65" stroke-width="0.96" stroke-linecap="round" filter="url(#bl03)"/>
</g>
<circle cx="170.00" cy="54.95" r="24.92" fill="none" stroke="#627068" stroke-width="0.8" filter="url(#bl03)"/>
<circle cx="170.00" cy="54.95" r="27.42" fill="none" stroke="#4c5a52" stroke-width="0.8" filter="url(#bl03)"/>
</g>
<clipPath id="cp3"><rect x="18.00" y="86.60" width="58.20" height="58.00"/></clipPath>
<clipPath id="ci3"><circle cx="47.10" cy="115.60" r="25.14"/></clipPath>
<g clip-path="url(#cp3)">
<rect x="18.00" y="86.60" width="58.20" height="58.00" fill="#040605"/>
<circle cx="47.10" cy="115.60" r="27.94" fill="#0a100e"/>
<circle cx="47.10" cy="115.60" r="25.14" fill="#0c1413"/>
<g clip-path="url(#ci3)">
<ellipse cx="47.10" cy="115.60" rx="20.11" ry="20.11" fill="#464a3a" fill-opacity="0.7" filter="url(#bl2)"/>
<path d="M54.1 122.1h0M63.6 117.5h0M46.7 96.9h0M39.3 122.9h0M28.6 115.0h0M62.8 118.6h0M63.0 105.9h0M53.9 120.3h0M36.7 130.5h0M40.7 123.9h0M54.7 108.5h0M40.8 96.6h0M41.0 105.6h0M43.8 120.4h0M59.6 122.2h0M53.1 96.0h0M57.8 100.3h0M56.8 117.7h0M60.8 121.4h0M63.0 117.1h0M44.4 113.8h0M36.4 112.1h0M48.0 105.8h0M33.3 99.2h0M55.0 109.5h0M48.6 105.8h0M45.2 118.2h0M33.0 101.4h0M28.8 109.5h0M34.1 99.0h0M47.5 136.0h0M63.8 120.8h0M63.7 118.9h0M61.9 102.6h0M46.5 116.6h0M60.6 103.6h0M49.7 112.0h0M62.3 110.2h0M57.6 100.5h0M32.1 122.5h0M48.1 93.8h0M42.9 96.6h0M55.6 120.9h0M67.2 106.5h0M42.5 133.2h0M67.2 108.4h0M55.1 130.8h0M45.1 110.9h0M54.0 117.4h0M45.5 97.6h0M34.8 99.2h0M55.0 111.6h0M49.5 135.7h0M55.6 98.2h0M28.9 117.4h0M63.5 101.4h0M60.8 114.7h0M33.1 108.2h0M34.7 114.8h0M37.6 117.6h0M33.9 100.1h0M51.5 98.3h0M53.7 97.2h0M38.6 126.5h0M33.0 124.7h0M45.6 132.2h0M45.8 108.7h0M46.8 136.4h0M64.7 118.5h0M59.1 118.9h0M55.9 111.4h0M53.0 117.6h0M58.2 96.5h0M34.0 103.6h0M41.0 132.6h0M47.9 115.4h0M37.7 133.9h0M64.3 106.9h0M35.9 129.1h0M45.6 133.6h0M50.4 126.1h0M42.6 115.5h0M34.4 104.9h0M62.6 124.4h0M47.6 118.9h0M25.1 113.1h0M60.5 128.9h0M44.9 135.7h0M36.6 98.0h0M55.1 101.8h0M62.0 128.4h0M39.3 126.3h0M44.9 99.2h0M30.5 126.7h0M38.9 117.5h0M52.3 110.6h0M53.9 132.7h0M57.1 115.9h0M29.5 120.0h0M46.1 105.3h0M42.5 113.6h0M30.4 109.4h0M60.7 131.0h0M46.1 102.7h0M52.9 124.1h0M59.6 116.3h0M46.8 127.0h0M25.0 116.5h0M56.9 102.6h0M47.5 124.0h0M47.8 128.3h0M41.3 124.5h0M31.9 121.4h0M41.5 132.5h0M39.1 99.7h0M57.3 133.2h0M68.0 122.5h0M51.2 96.7h0M58.1 129.6h0M60.0 106.0h0M60.0 117.6h0M57.1 115.9h0M45.6 104.7h0M26.7 121.9h0M64.9 109.4h0M53.8 134.6h0M38.7 126.6h0M47.8 126.5h0M42.1 100.8h0M64.5 122.9h0M56.3 125.7h0M36.1 115.0h0M43.5 123.1h0M28.2 116.0h0M56.4 135.1h0M67.4 112.3h0M49.4 136.2h0M48.3 110.2h0M28.8 112.1h0M42.6 115.9h0M56.6 102.2h0M32.6 109.0h0M67.2 120.7h0M66.8 113.3h0M28.5 116.6h0M55.5 101.3h0M37.3 101.0h0M40.9 132.4h0M50.0 107.2h0M43.5 117.5h0M60.0 114.9h0M66.0 121.1h0M44.2 95.9h0M35.0 103.0h0M48.1 108.2h0M40.0 131.0h0M46.7 113.5h0M29.4 126.9h0M35.4 107.1h0M29.3 123.4h0M30.2 104.1h0M58.5 114.4h0M36.1 101.8h0M51.3 116.4h0M48.4 107.3h0M46.5 99.5h0M44.0 130.7h0M67.6 119.2h0M39.9 97.9h0M66.5 122.8h0M51.9 126.6h0M63.9 120.9h0M44.1 109.2h0M64.3 106.6h0M39.1 127.2h0M27.4 121.5h0M55.8 111.0h0M25.6 118.0h0M54.1 116.0h0M62.3 121.9h0M61.5 107.5h0M58.5 110.7h0M48.9 118.6h0M40.0 120.3h0M41.8 123.7h0M68.5 115.7h0M50.3 97.3h0M35.8 108.3h0M50.0 124.0h0M54.1 114.9h0M66.6 109.0h0M44.6 105.9h0M41.0 125.8h0M68.4 112.0h0M30.7 120.5h0M52.4 94.3h0M41.1 103.1h0M43.6 129.1h0M58.5 124.8h0M40.8 128.3h0M46.0 114.9h0M57.6 108.2h0M64.6 118.8h0M57.1 125.4h0M43.6 98.5h0M46.6 113.7h0M52.8 136.9h0M51.5 118.4h0M59.7 115.3h0M48.2 122.1h0M64.6 110.5h0M42.2 125.7h0M40.0 111.7h0M60.1 118.3h0M38.1 127.4h0M36.0 131.3h0M50.5 101.5h0M39.3 105.0h0M40.9 126.4h0M41.5 94.7h0M49.4 119.2h0M51.4 93.7h0M43.2 118.9h0M29.5 105.2h0M37.7 109.9h0M26.7 119.2h0M54.6 96.2h0M40.5 132.5h0M58.4 121.7h0M42.9 123.6h0M34.1 109.1h0M46.5 101.6h0M38.3 107.9h0M42.4 102.0h0M55.6 116.2h0M40.9 96.7h0M55.4 114.3h0M43.1 137.2h0M39.1 117.2h0M44.9 129.8h0M61.3 104.6h0M63.0 118.1h0M57.8 121.1h0M30.8 101.0h0M32.1 126.1h0M39.2 96.5h0M28.5 122.3h0M57.0 133.8h0M62.7 112.8h0M38.6 109.0h0M41.1 106.3h0M51.4 105.9h0M43.9 137.2h0M41.6 124.2h0M49.1 98.0h0M43.8 120.4h0M54.5 124.0h0M60.7 129.6h0M61.5 98.8h0M53.4 106.9h0M37.2 115.0h0M66.8 106.8h0M57.1 118.7h0M64.2 126.7h0M53.8 98.5h0M40.3 110.6h0M48.7 137.3h0M51.9 96.8h0M54.2 102.0h0M55.4 100.6h0M45.9 130.1h0M52.8 117.8h0M33.0 114.6h0M48.0 126.9h0M54.8 99.1h0M39.7 109.7h0M40.3 120.8h0M45.4 116.9h0M31.5 127.4h0M49.9 126.6h0M35.7 124.1h0M67.5 119.3h0M45.2 119.5h0M37.8 95.4h0M52.5 110.9h0M51.4 110.1h0M63.7 130.3h0M67.9 111.1h0M64.6 123.2h0M56.7 113.0h0M42.8 111.9h0M37.5 109.1h0M35.3 112.4h0M64.0 120.0h0M42.2 107.7h0M40.1 124.1h0M53.3 108.0h0M57.1 125.1h0M43.2 96.2h0M58.2 113.8h0M60.8 117.1h0M48.6 95.7h0M32.4 123.1h0M41.0 115.2h0M29.3 118.9h0M27.8 109.2h0M44.2 110.7h0M26.6 122.2h0M29.8 111.9h0M66.1 124.2h0M63.5 109.7h0M65.6 109.6h0M50.1 108.5h0M66.4 124.2h0M61.9 121.9h0M38.3 127.4h0M59.3 123.6h0M55.9 110.4h0M47.1 95.3h0M42.6 104.5h0M40.6 120.4h0M50.4 103.2h0M60.8 105.6h0M51.0 131.3h0M51.7 112.3h0M45.8 101.6h0M47.3 123.8h0M56.2 100.7h0M63.8 101.5h0M41.7 124.5h0M64.8 108.1h0M33.7 125.6h0M50.8 96.9h0M49.2 134.9h0M54.0 130.2h0M37.7 96.0h0M54.5 121.5h0M58.8 133.3h0M46.7 110.6h0M34.2 105.9h0M25.9 112.9h0M49.2 136.2h0M27.7 110.9h0M38.9 101.5h0M44.0 103.5h0M43.4 113.1h0M38.0 113.3h0M38.5 117.4h0M61.9 118.1h0M48.2 114.7h0M63.6 116.0h0M58.2 116.2h0M59.4 104.6h0M37.4 119.9h0M53.1 111.3h0M57.3 109.7h0M31.3 120.5h0M68.2 117.7h0M54.6 102.8h0M52.2 110.2h0M44.2 134.7h0M52.1 111.5h0M41.1 106.4h0M43.2 132.4h0M30.6 122.3h0M59.4 101.5h0M33.9 99.5h0M36.7 100.5h0M44.1 100.1h0M66.1 124.6h0M29.4 125.0h0M36.9 104.3h0M65.7 109.0h0M34.6 114.0h0M38.4 120.3h0M43.3 99.9h0M51.3 121.2h0M51.2 130.2h0M56.6 128.8h0M25.6 112.3h0M57.1 101.8h0M50.1 99.3h0M59.3 103.3h0M51.3 123.5h0M42.5 110.9h0M37.5 124.2h0M38.2 101.9h0M51.4 108.3h0M34.7 112.3h0M51.7 136.7h0M65.6 109.0h0M65.1 105.5h0M42.3 127.7h0M32.2 105.5h0M36.4 133.3h0M41.2 133.9h0M68.2 109.7h0M34.9 113.4h0M47.9 120.1h0M39.4 120.4h0M53.8 125.9h0M47.8 112.2h0M57.3 110.7h0M58.0 100.2h0M45.9 107.1h0M61.8 104.7h0M48.1 112.6h0M38.6 122.1h0M52.9 112.3h0M37.6 120.8h0M57.9 113.3h0M53.0 114.3h0M62.9 110.7h0M51.4 98.3h0M49.6 113.1h0M60.8 103.9h0M47.6 125.7h0M31.2 124.4h0M59.6 103.1h0M40.9 128.0h0M39.2 128.9h0M61.0 108.8h0M42.6 117.4h0M39.2 121.5h0M43.3 129.3h0M30.6 114.9h0M54.9 102.8h0M37.7 120.7h0M54.7 114.2h0M53.0 102.3h0M44.4 124.6h0M30.2 128.3h0M59.3 103.8h0M52.0 108.2h0M40.8 123.6h0M44.5 116.9h0M32.1 131.1h0M55.4 114.3h0M33.8 129.6h0M43.1 118.0h0M55.4 115.9h0M34.6 125.9h0M52.2 112.8h0M43.4 109.4h0M66.0 103.2h0M48.8 107.2h0M45.6 116.2h0M39.6 126.7h0M49.9 116.8h0M52.2 113.8h0M61.7 105.7h0M48.1 120.0h0M42.0 124.5h0M50.1 116.3h0M59.5 99.5h0M50.5 114.2h0M46.9 108.4h0M45.0 123.7h0M60.1 100.8h0M59.0 117.9h0M36.4 118.8h0M57.2 105.4h0M46.8 128.3h0M65.4 110.2h0M39.9 122.0h0M41.2 126.1h0M50.5 117.1h0M58.4 109.1h0M58.5 111.1h0M39.8 135.6h0M48.7 120.5h0M50.7 116.5h0M56.9 99.7h0M55.5 118.5h0M49.4 111.5h0M35.7 123.9h0M59.1 104.4h0M55.7 108.7h0M40.9 124.6h0M49.9 107.4h0M56.3 112.3h0M40.4 112.2h0M41.1 126.2h0M56.5 112.2h0M46.5 107.9h0M64.5 99.3h0M38.6 111.8h0M44.2 119.6h0M55.2 104.3h0M62.2 115.1h0M55.7 106.8h0M36.2 119.9h0M46.9 118.0h0M49.2 114.6h0M40.9 126.6h0M54.6 103.5h0M57.8 100.6h0M51.4 109.9h0M38.2 124.3h0M41.6 121.5h0M38.2 118.0h0M61.7 97.2h0M58.6 108.5h0M33.7 127.5h0M45.1 129.2h0M46.1 119.9h0M61.2 103.5h0M58.2 101.0h0M57.9 113.4h0M39.9 128.2h0M53.6 98.2h0M33.3 119.5h0M46.9 114.4h0M37.8 126.2h0M46.9 117.5h0M53.1 112.5h0M38.7 127.6h0M39.9 117.6h0M49.3 104.5h0M59.3 97.7h0M46.3 123.1h0M45.5 105.1h0M52.0 113.2h0M49.9 118.0h0M52.8 115.3h0M52.7 120.2h0M48.5 114.9h0M47.8 108.6h0M46.9 103.1h0M48.5 105.3h0M61.3 128.2h0M53.4 109.6h0M46.7 112.0h0M52.1 121.5h0M54.4 119.8h0M45.9 108.0h0M44.1 103.5h0M58.6 125.8h0M44.8 101.2h0M63.0 122.9h0M44.7 108.9h0M59.9 128.2h0M54.5 111.3h0M33.9 104.0h0M59.4 117.6h0M51.5 119.7h0M63.8 123.2h0M41.8 105.4h0M49.4 110.6h0M54.7 125.1h0M41.4 110.2h0M37.2 107.6h0M47.4 103.7h0M52.9 114.6h0M58.2 125.0h0M57.4 116.2h0M53.1 103.3h0M36.4 102.7h0M48.9 109.4h0M37.9 95.9h0M43.4 105.1h0M52.9 116.9h0M56.5 117.7h0M47.0 113.1h0M43.8 108.4h0M44.2 110.1h0M61.9 127.7h0M54.2 114.5h0M35.9 104.3h0M36.9 100.4h0M59.7 119.0h0M58.6 117.9h0M50.7 112.8h0M40.5 105.7h0M38.4 102.9h0M36.1 95.7h0M46.3 104.4h0M48.9 112.3h0M47.0 105.8h0M38.5 101.1h0M40.7 102.1h0M56.6 119.6h0M58.6 121.9h0M50.2 117.4h0M50.6 122.5h0M40.0 102.2h0M46.8 110.0h0M54.6 116.9h0M53.2 116.4h0M66.3 120.6h0M48.3 110.9h0M58.7 122.2h0M45.3 97.4h0M48.2 112.6h0M47.9 115.6h0M54.6 119.6h0M44.5 104.6h0M48.9 119.7h0M40.7 98.4h0M44.5 107.8h0M43.4 105.6h0M41.4 101.0h0M64.2 123.9h0M42.2 104.6h0M50.1 114.9h0M59.1 117.1h0M32.4 103.5h0M62.2 119.8h0M43.7 102.0h0M42.3 100.2h0M52.0 120.2h0M56.2 113.2h0" fill="none" stroke="#bcbc90" stroke-opacity="0.45" stroke-width="0.53" stroke-linecap="round" filter="url(#bl03)"/>
<path d="M50.5 101.4h0M31.4 114.0h0M48.9 133.6h0M45.3 105.6h0M56.7 103.5h0M46.4 122.7h0M36.7 127.8h0M56.2 121.0h0M54.5 116.6h0M55.8 99.0h0M56.5 115.3h0M49.4 94.2h0M65.3 122.5h0M58.6 130.8h0M43.1 109.4h0M63.9 123.9h0M49.1 132.6h0M47.0 104.8h0M37.1 116.2h0M67.3 122.1h0M64.9 109.5h0M32.7 108.4h0M63.1 128.2h0M27.5 107.9h0M67.2 109.3h0M37.1 116.7h0M47.4 129.0h0M26.8 122.3h0M44.2 111.9h0M40.5 125.5h0M38.2 112.6h0M43.1 124.9h0M53.9 112.4h0M40.0 133.8h0M35.7 101.4h0M55.2 119.1h0M61.0 123.5h0M51.9 122.6h0M41.4 121.8h0M59.3 131.9h0M41.4 116.2h0M44.3 112.2h0M49.2 105.5h0M37.9 119.0h0M49.6 107.8h0M33.8 101.5h0M56.4 115.5h0M45.9 135.3h0M50.7 108.8h0M49.4 102.2h0M46.6 131.6h0M62.1 114.5h0M34.5 124.6h0M58.9 120.1h0M48.9 113.9h0M49.0 109.0h0M57.2 113.3h0M63.5 110.8h0M40.9 122.8h0M47.9 95.1h0M47.6 101.0h0M65.2 113.1h0M65.4 120.4h0M27.5 111.9h0M58.0 127.4h0M52.4 110.0h0M48.5 123.1h0M62.2 100.4h0M41.1 135.8h0M32.0 126.9h0M30.3 109.2h0M32.3 107.6h0M33.5 120.7h0M47.4 121.5h0M50.9 99.5h0M39.5 114.6h0M36.4 119.6h0M36.8 118.0h0M66.4 121.5h0M33.9 114.1h0M36.1 130.1h0M36.2 134.9h0M55.2 98.2h0M39.0 116.8h0M55.6 108.4h0M30.8 104.0h0M38.6 112.1h0M59.5 123.3h0M51.0 133.0h0M37.0 101.5h0M47.2 93.9h0M45.9 123.7h0M30.3 108.0h0M60.5 132.5h0M38.2 129.9h0M29.0 122.1h0M54.5 123.3h0M37.2 116.3h0M50.8 119.1h0M30.1 104.8h0M40.6 115.2h0M43.3 108.9h0M59.0 101.1h0M40.0 101.2h0M30.6 122.4h0M35.8 123.9h0M58.5 132.5h0M36.5 124.4h0M27.1 105.9h0M32.8 104.0h0M49.4 96.9h0M31.9 99.5h0M39.8 95.1h0M33.6 105.7h0M62.8 124.7h0M56.9 123.8h0M47.8 127.6h0M26.2 117.7h0M39.7 110.9h0M45.2 131.0h0M52.0 122.4h0M29.8 118.7h0M50.2 126.9h0M51.5 101.7h0M53.4 133.9h0M52.7 117.1h0M66.7 108.6h0M31.3 103.1h0M60.9 98.4h0M48.3 116.7h0M29.7 123.5h0M28.9 114.6h0M29.8 117.4h0M51.8 104.7h0M61.1 126.2h0M53.7 128.0h0M54.8 112.9h0M45.7 98.8h0M56.5 113.3h0M26.7 121.7h0M48.3 118.4h0M49.3 99.1h0M68.6 110.2h0M56.7 119.3h0M43.6 93.7h0M60.3 115.2h0M66.4 111.4h0M46.1 137.8h0M36.7 128.6h0M27.0 114.8h0M50.5 99.1h0M58.0 113.4h0M49.7 105.1h0M61.3 112.8h0M55.4 128.0h0M44.2 105.5h0M48.4 116.8h0M34.9 116.7h0M55.2 134.2h0M41.3 116.8h0M62.2 105.3h0M42.3 122.4h0M43.2 94.5h0M51.0 113.8h0M32.5 114.9h0M58.3 121.1h0M35.0 122.3h0M61.6 113.2h0M47.0 109.9h0M55.7 121.3h0M36.8 134.9h0M37.9 119.1h0M30.5 103.3h0M38.6 99.2h0M55.9 127.3h0M60.3 107.6h0M52.5 109.6h0M43.9 113.0h0M45.7 131.5h0M48.5 110.6h0M48.3 109.1h0M54.8 115.1h0M61.9 127.3h0M49.9 129.2h0M41.5 123.4h0M59.5 110.3h0M44.1 120.3h0M49.1 134.7h0M64.0 125.5h0M47.1 116.2h0M32.7 127.7h0M38.2 123.6h0M41.0 112.0h0M41.8 115.6h0M44.7 121.9h0M49.3 133.8h0M68.0 120.8h0M38.6 104.5h0M40.6 123.2h0M55.6 100.4h0M47.6 122.6h0M42.5 130.7h0M40.2 112.6h0M33.1 114.6h0M50.6 127.8h0M55.0 103.1h0M63.8 128.6h0M45.2 102.2h0M38.2 115.0h0M57.0 126.5h0M36.0 120.0h0M66.6 125.5h0M59.3 98.5h0M49.0 119.3h0M61.1 113.3h0M27.2 108.1h0M53.2 103.1h0M45.1 114.0h0M48.4 104.6h0M42.7 100.7h0M46.3 133.1h0M62.7 110.2h0M55.6 112.6h0M43.6 136.7h0M55.5 127.3h0M57.6 112.4h0M64.6 107.8h0M54.5 97.5h0M62.3 126.7h0M55.9 97.0h0M56.2 109.6h0M45.1 99.6h0M29.2 125.7h0M53.0 122.0h0M52.4 104.1h0M46.1 116.2h0M62.4 113.6h0M44.9 95.6h0M61.8 127.2h0M38.9 96.7h0M50.1 95.2h0M49.6 119.9h0M59.7 124.3h0M45.4 134.2h0M29.0 120.0h0M58.5 125.2h0M36.6 133.6h0M64.3 128.2h0M43.4 133.4h0M48.0 99.7h0M49.1 123.8h0M31.9 131.2h0M58.8 105.7h0M48.2 131.0h0M42.9 110.3h0M33.4 129.6h0M43.9 120.1h0M64.1 126.8h0M47.3 95.7h0M50.2 103.6h0M49.8 109.5h0M49.5 117.6h0M52.7 132.7h0M50.1 134.1h0M45.6 128.5h0M38.0 101.6h0M36.2 125.3h0M44.6 94.6h0M31.4 119.2h0M41.8 114.1h0M29.5 103.2h0M36.3 109.1h0M64.4 128.0h0M36.5 116.9h0M49.5 110.7h0M39.7 114.1h0M32.7 117.5h0M50.1 120.9h0M65.2 123.3h0M61.9 119.8h0M43.1 98.4h0M62.1 114.2h0M26.9 107.6h0M28.9 106.5h0M37.7 102.8h0M61.1 128.8h0M48.6 109.0h0M62.0 122.5h0M42.9 127.5h0M48.2 125.6h0M43.0 135.6h0M45.6 125.2h0M51.1 104.0h0M55.4 99.3h0M45.1 134.3h0M44.3 100.2h0M35.2 125.7h0M43.0 114.2h0M55.3 104.9h0M64.8 122.1h0M39.7 121.4h0M50.4 124.4h0M31.4 109.5h0M63.2 111.5h0M44.1 127.6h0M46.8 119.2h0M50.1 118.2h0M50.0 134.8h0M48.2 104.2h0M49.5 126.4h0M35.3 123.0h0M58.7 123.6h0M40.2 101.8h0M46.6 99.7h0M36.3 114.6h0M41.3 117.4h0M41.3 125.1h0M51.9 111.9h0M58.8 112.8h0M41.3 118.4h0M31.6 103.5h0M49.8 128.0h0M43.6 112.8h0M36.5 132.2h0M43.7 130.5h0M48.6 117.8h0M36.3 121.5h0M59.9 132.2h0M30.6 118.8h0M51.9 127.7h0M44.2 100.4h0M47.9 135.5h0M59.3 103.7h0M26.8 117.3h0M37.5 134.0h0M55.7 109.6h0M38.6 136.0h0M65.8 112.6h0M50.2 106.7h0M37.3 135.1h0M55.1 106.0h0M32.9 105.0h0M50.3 107.3h0M64.0 109.7h0M25.2 117.9h0M49.7 94.4h0M52.4 117.4h0M43.2 128.4h0M68.2 118.5h0M37.2 124.9h0M58.9 111.3h0M52.0 113.4h0M28.6 128.0h0M52.4 114.1h0M50.8 107.6h0M45.1 123.9h0M66.8 110.5h0M55.3 108.1h0M54.7 112.0h0M47.1 103.1h0M57.9 105.5h0M51.7 103.1h0M47.9 118.4h0M35.9 124.0h0M52.3 108.8h0M48.5 109.5h0M42.0 117.4h0M53.8 103.8h0M43.6 117.3h0M52.7 112.8h0M32.4 128.3h0M57.7 108.1h0M64.9 99.9h0M41.4 121.2h0M48.6 108.2h0M63.3 98.9h0M46.7 112.2h0M42.5 107.6h0M36.4 124.0h0M43.4 123.7h0M46.6 113.7h0M47.6 116.0h0M43.9 111.9h0M58.3 96.8h0M43.8 131.1h0M58.1 100.3h0M55.6 103.7h0M43.5 111.7h0M49.5 117.3h0M60.3 111.4h0M40.3 124.2h0M41.1 120.9h0M53.9 104.1h0M38.4 116.1h0M56.4 111.7h0M50.3 115.1h0M46.9 122.5h0M48.5 114.1h0M47.4 115.8h0M46.9 113.0h0M40.1 116.4h0M38.5 123.9h0M56.4 100.3h0M59.6 113.8h0M44.8 126.7h0M62.0 100.4h0M46.8 113.2h0M54.8 105.6h0M45.0 113.7h0M43.2 127.1h0M33.8 128.3h0M55.1 107.7h0M61.5 100.7h0M41.6 124.9h0M49.4 121.5h0M36.6 132.6h0M52.7 104.2h0M53.8 107.7h0M44.1 110.8h0M52.7 111.2h0M34.6 122.9h0M44.5 127.5h0M54.7 104.5h0M39.3 129.7h0M49.9 124.9h0M44.2 112.8h0M54.1 107.0h0M61.0 97.7h0M32.9 126.4h0M37.1 129.5h0M55.4 112.2h0M34.5 127.0h0M43.5 120.3h0M53.5 98.9h0M58.2 101.6h0M37.6 122.0h0M46.4 123.2h0M35.2 127.2h0M37.6 122.9h0M51.1 117.2h0M40.8 126.8h0M32.4 125.6h0M40.3 107.4h0M32.2 117.4h0M34.1 121.1h0M56.6 114.7h0M53.1 118.1h0M49.3 115.8h0M59.5 104.6h0M38.8 134.7h0M51.2 115.5h0M39.7 120.2h0M38.5 120.1h0M38.2 126.7h0M34.0 132.4h0M43.3 125.9h0M48.0 105.7h0M42.1 118.8h0M57.5 106.3h0M52.7 104.2h0M42.0 117.8h0M61.9 106.7h0M39.8 130.2h0M59.8 106.2h0M48.7 109.4h0M51.1 108.6h0M48.1 111.6h0M37.9 113.6h0M36.9 116.2h0M58.8 108.1h0M26.7 126.4h0M47.9 124.9h0M40.7 118.7h0M51.9 107.8h0M36.1 128.0h0M53.9 118.2h0M37.8 99.9h0M61.6 127.3h0M56.6 115.2h0M58.2 122.9h0M45.0 108.1h0M47.0 112.8h0M43.8 109.3h0M48.3 120.5h0M54.3 125.0h0M62.0 119.8h0M63.0 127.2h0M41.5 108.9h0M34.7 103.2h0M59.3 122.9h0M53.7 112.4h0M53.5 119.1h0M39.5 98.4h0M46.8 105.1h0M49.5 112.6h0M46.4 109.5h0M61.4 122.4h0M41.3 98.2h0M35.6 97.4h0M61.5 126.2h0M57.8 117.7h0M40.5 105.2h0M41.3 103.4h0M48.2 111.5h0M35.6 98.0h0M58.6 121.8h0M47.4 111.8h0M40.7 105.7h0M49.5 106.9h0M46.8 106.1h0M52.8 106.7h0M64.7 120.6h0M60.9 119.4h0M52.8 112.2h0M44.8 101.0h0M47.5 113.9h0M63.0 126.6h0M54.4 117.9h0M40.2 104.9h0M43.2 113.2h0M58.8 115.8h0M37.3 97.7h0M62.6 130.6h0M34.8 108.9h0M46.3 107.6h0M50.7 108.2h0M64.5 125.3h0M59.9 123.2h0M35.6 94.6h0M44.0 100.3h0M40.0 102.3h0M62.7 122.6h0M51.8 113.0h0M41.9 107.2h0M50.8 112.9h0M40.4 103.4h0M43.2 103.8h0M49.3 116.8h0M51.9 119.3h0M47.2 105.6h0M48.1 113.9h0M53.6 106.7h0M50.1 119.7h0M53.1 112.6h0M38.6 102.5h0M47.2 108.3h0M44.4 99.9h0M40.1 107.2h0M51.7 110.9h0M49.2 122.9h0M48.0 123.0h0M56.4 119.2h0M53.0 118.0h0M38.1 103.5h0M54.2 120.1h0M41.7 113.1h0M45.4 106.1h0M65.6 124.5h0M53.5 124.0h0M36.4 100.5h0M57.4 121.4h0M44.3 114.0h0M45.9 112.9h0M44.5 109.0h0M54.2 112.1h0M33.8 99.5h0M50.6 114.9h0M52.7 121.4h0M48.5 117.1h0M37.9 104.0h0M46.8 112.3h0M62.5 125.6h0M34.9 102.1h0M43.5 105.3h0M51.1 105.9h0M52.2 117.3h0M42.9 99.9h0M55.2 126.3h0M50.7 117.5h0M42.6 106.3h0M41.3 109.4h0" fill="none" stroke="#bcbc90" stroke-opacity="0.45" stroke-width="0.79" stroke-linecap="round" filter="url(#bl03)"/>
<ellipse cx="41.51" cy="114.20" rx="12.57" ry="2.23" fill="#0c1a1e" fill-opacity="0.45" filter="url(#bl06)" transform="rotate(35 41.51 114.20)"/>
<ellipse cx="54.08" cy="123.98" rx="9.78" ry="1.96" fill="#0c1a1e" fill-opacity="0.4" filter="url(#bl06)" transform="rotate(-20 54.08 123.98)"/>
<ellipse cx="37.32" cy="128.17" rx="8.38" ry="1.68" fill="#0c1a1e" fill-opacity="0.35" filter="url(#bl06)" transform="rotate(10 37.32 128.17)"/>
</g>
<circle cx="47.10" cy="115.60" r="25.00" fill="none" stroke="#627068" stroke-width="0.8" filter="url(#bl03)"/>
<circle cx="47.10" cy="115.60" r="27.52" fill="none" stroke="#4c5a52" stroke-width="0.8" filter="url(#bl03)"/>
</g>
<clipPath id="cp4"><rect x="79.10" y="86.60" width="58.90" height="58.00"/></clipPath>
<clipPath id="ci4"><circle cx="108.55" cy="115.60" r="25.44"/></clipPath>
<g clip-path="url(#cp4)">
<rect x="79.10" y="86.60" width="58.90" height="58.00" fill="#040605"/>
<circle cx="108.55" cy="115.60" r="28.27" fill="#0a100e"/>
<circle cx="108.55" cy="115.60" r="25.44" fill="#091211"/>
<g clip-path="url(#ci4)">
<ellipse cx="108.55" cy="115.60" rx="19.79" ry="19.79" fill="#22261a" fill-opacity="0.5" filter="url(#bl2)"/>
<ellipse cx="121.27" cy="107.12" rx="8.48" ry="11.31" fill="#1a3032" fill-opacity="0.4" filter="url(#bl2)"/>
<path d="M88.4 106.4h0M111.6 135.2h0M113.8 116.5h0M111.0 126.2h0M103.1 106.1h0M125.6 101.8h0M110.0 121.8h0M109.5 121.5h0M121.9 98.8h0M108.1 113.5h0M102.2 97.9h0M125.2 117.9h0M112.0 103.8h0M122.4 125.3h0M117.3 102.4h0M94.2 126.6h0M129.5 120.8h0M94.6 102.2h0M112.9 97.3h0M110.1 106.5h0M126.8 125.8h0M108.5 127.6h0M100.9 132.3h0M110.3 128.0h0M109.4 113.0h0M122.0 118.8h0M92.7 127.8h0M100.5 98.7h0M125.2 100.9h0M91.3 105.1h0M105.2 119.3h0M103.9 95.8h0M109.2 99.5h0M123.7 101.7h0M118.1 135.5h0M93.5 113.9h0M115.8 117.1h0M130.9 118.8h0M125.7 118.3h0M125.9 126.9h0M93.5 130.5h0M90.5 102.9h0M119.2 130.7h0M124.2 129.7h0M90.1 103.6h0M122.5 120.9h0M99.6 110.2h0M100.6 125.2h0M86.9 116.1h0M115.2 131.5h0M105.2 101.9h0M99.2 123.1h0M97.4 122.2h0M111.7 116.9h0M105.6 102.1h0M105.1 129.6h0M114.0 96.7h0M91.8 117.3h0M108.0 95.3h0M98.4 99.3h0M109.4 112.5h0M111.2 123.1h0M119.7 109.2h0M114.2 131.3h0M122.9 130.2h0M97.0 106.4h0M98.3 114.9h0M95.0 129.0h0M122.1 119.5h0M119.3 97.4h0M109.7 118.1h0M109.6 97.4h0M94.5 112.5h0M114.5 99.5h0M91.8 101.9h0M98.0 113.4h0M91.2 123.2h0M112.4 110.4h0M88.8 117.7h0M96.8 110.3h0M103.1 95.8h0M92.3 118.5h0M96.3 111.6h0M86.4 119.1h0M89.1 109.7h0M110.6 133.4h0M115.1 112.3h0M94.1 121.3h0M104.8 130.1h0M127.3 115.0h0M107.9 114.0h0M109.8 126.0h0M116.2 97.9h0M91.1 123.1h0M102.8 121.0h0M94.6 118.3h0M96.7 123.2h0M116.8 122.7h0M97.4 119.0h0M110.5 120.0h0M106.5 133.6h0M99.5 131.1h0M106.3 99.4h0M108.0 126.0h0M114.6 102.0h0M121.1 128.2h0M117.4 113.1h0M121.5 113.5h0M96.1 104.6h0M127.4 121.4h0M93.6 111.7h0M103.0 130.0h0M105.9 122.9h0M100.8 101.8h0M105.4 97.1h0M103.8 106.4h0M119.3 96.0h0M93.2 104.5h0M129.4 119.1h0M101.5 132.2h0M91.3 124.6h0M99.5 112.4h0M100.8 129.6h0M102.9 100.5h0M104.9 117.8h0M95.1 130.2h0M98.3 109.9h0M112.9 105.6h0M109.3 137.3h0M119.2 108.6h0M106.0 130.6h0M98.8 118.2h0M99.3 112.9h0M97.7 110.1h0M96.8 102.2h0M129.0 107.4h0M127.1 116.3h0M118.1 114.4h0M94.4 119.4h0M129.1 110.2h0M116.9 129.0h0M123.0 108.2h0M114.0 131.9h0M98.5 117.8h0M112.6 134.6h0M106.3 105.9h0M103.4 132.5h0M119.2 109.4h0M121.9 106.9h0M99.4 120.3h0M113.1 102.5h0M95.8 130.4h0M92.8 103.0h0M100.4 119.3h0M100.3 123.3h0M123.1 132.6h0M116.5 103.0h0M124.1 114.1h0M128.9 106.1h0M108.1 101.3h0M107.0 109.0h0M111.2 110.8h0M125.7 113.3h0M109.2 119.6h0M122.7 124.4h0M122.1 102.1h0M114.9 135.7h0M93.4 118.0h0M103.4 96.2h0M96.5 124.9h0M110.0 105.6h0M98.7 98.4h0M104.3 104.8h0M126.7 109.7h0M86.1 117.5h0M102.4 101.6h0M112.2 111.4h0M105.2 108.0h0M128.3 114.3h0M112.2 101.6h0M112.8 102.9h0M129.7 114.7h0M101.9 134.5h0M96.0 112.6h0M100.1 96.6h0M109.1 94.0h0M99.6 103.2h0M92.8 116.6h0M95.6 101.1h0M106.1 114.8h0M125.4 130.2h0M104.0 99.6h0M107.3 121.7h0M95.2 101.6h0" fill="none" stroke="#b4ac78" stroke-opacity="0.58" stroke-width="0.61" stroke-linecap="round" filter="url(#bl03)"/>
<path d="M107.5 113.2h0M100.6 114.8h0M105.8 98.2h0M91.1 119.6h0M105.2 118.8h0M113.7 120.6h0M106.5 125.0h0M113.2 110.4h0M115.6 113.2h0M104.0 93.5h0M115.7 122.5h0M110.5 138.0h0M88.8 119.9h0M109.9 106.2h0M96.1 104.4h0M105.9 112.7h0M96.1 132.9h0M111.9 109.3h0M96.6 97.6h0M100.3 130.2h0M108.6 115.9h0M100.1 97.3h0M95.2 99.0h0M129.8 109.9h0M120.0 96.3h0M125.3 107.8h0M104.0 125.2h0M95.2 107.2h0M97.3 128.9h0M103.4 126.2h0M122.9 102.0h0M124.1 105.9h0M109.1 126.9h0M117.8 98.6h0M115.2 108.0h0M110.7 112.0h0M119.2 131.8h0M99.4 95.5h0M110.9 114.9h0M108.5 115.6h0M88.8 122.7h0M117.3 121.7h0M106.8 112.1h0M129.9 117.5h0M117.2 97.7h0M91.5 124.7h0M92.8 125.4h0M110.5 132.9h0M97.2 131.5h0M117.1 106.3h0M93.5 131.4h0M118.5 114.3h0M120.6 124.4h0M96.2 112.9h0M100.6 119.2h0M110.8 117.0h0M105.2 103.2h0M86.7 120.8h0M95.6 125.1h0M116.4 114.1h0M104.1 111.0h0M108.7 100.3h0M112.3 104.5h0M128.6 106.2h0M120.0 100.3h0M129.7 121.4h0M113.5 104.2h0M115.7 98.1h0M116.6 136.7h0M119.8 99.4h0M119.0 134.0h0M104.3 107.6h0M106.5 99.3h0M120.7 119.7h0M116.4 129.5h0M126.2 119.7h0M118.7 99.8h0M106.9 118.0h0M95.4 119.4h0M108.5 134.4h0M108.1 95.4h0M94.5 110.4h0M128.2 106.6h0M106.3 99.3h0M107.0 122.5h0M112.6 94.7h0M130.0 119.0h0M114.1 137.1h0M96.2 123.2h0M101.9 129.3h0M91.8 111.3h0M103.4 106.8h0M125.4 114.5h0M115.1 101.6h0M99.7 124.3h0M110.9 120.0h0M109.0 129.9h0M103.7 137.4h0M104.1 120.8h0M88.3 114.9h0M94.9 100.5h0M93.0 117.4h0M115.2 98.2h0M123.8 123.3h0M126.6 106.6h0M103.1 125.6h0M112.4 120.9h0M114.7 99.6h0M112.2 127.1h0M117.4 108.1h0M101.6 135.4h0M111.7 95.1h0M95.9 107.8h0M122.6 127.9h0M120.6 121.8h0M92.0 104.5h0M124.2 114.3h0M96.6 99.3h0M92.0 107.4h0M99.3 131.7h0M108.9 131.5h0M118.8 117.5h0M126.2 129.0h0M117.8 125.2h0M87.5 119.0h0M111.6 136.1h0M115.3 95.5h0M91.1 124.2h0M97.3 119.5h0M116.8 123.3h0M107.6 123.5h0M109.6 101.0h0M104.6 126.6h0M94.9 122.1h0M101.9 116.3h0M96.3 132.4h0M115.3 107.0h0M103.0 106.2h0M108.3 99.8h0M109.8 107.8h0M104.6 106.2h0M114.6 113.1h0M96.8 131.5h0M107.6 94.1h0M99.6 119.3h0M121.9 116.7h0M99.5 99.9h0M129.9 119.7h0M112.9 136.5h0M117.5 99.6h0M100.3 122.5h0M115.8 98.4h0M91.8 109.4h0M120.6 108.3h0M105.4 125.1h0M89.9 123.2h0M95.2 113.9h0M126.2 124.5h0M105.9 120.1h0M121.9 103.1h0M121.0 118.5h0M87.6 119.9h0M109.4 128.0h0M105.7 117.5h0M95.1 120.6h0M111.9 111.6h0M97.3 122.4h0M101.7 135.9h0M91.8 114.4h0M104.7 95.0h0M124.5 112.6h0M97.2 103.2h0M94.0 124.3h0M115.2 120.8h0M116.8 99.3h0M116.1 112.3h0M120.2 133.3h0M90.0 124.7h0M104.2 126.5h0M96.0 114.3h0M122.6 130.3h0M116.0 98.1h0M93.8 115.4h0M114.0 119.8h0M96.6 107.8h0M98.9 111.7h0M125.8 104.7h0M95.8 123.4h0M99.3 128.8h0M91.2 119.0h0M116.2 106.7h0M106.3 93.8h0M103.3 93.6h0M117.7 124.5h0M110.7 124.7h0M115.1 109.0h0M100.4 116.7h0M102.8 132.0h0M91.6 113.6h0M117.7 99.9h0M99.9 134.7h0M118.2 96.9h0M96.1 122.0h0M108.8 97.2h0M107.0 121.2h0M118.0 111.8h0" fill="none" stroke="#b4ac78" stroke-opacity="0.58" stroke-width="0.91" stroke-linecap="round" filter="url(#bl03)"/>
</g>
<circle cx="108.55" cy="115.60" r="25.30" fill="none" stroke="#627068" stroke-width="0.8" filter="url(#bl03)"/>
<circle cx="108.55" cy="115.60" r="27.85" fill="none" stroke="#4c5a52" stroke-width="0.8" filter="url(#bl03)"/>
</g>
<clipPath id="cp5"><rect x="141.00" y="86.60" width="58.00" height="58.00"/></clipPath>
<clipPath id="ci5"><circle cx="170.00" cy="115.60" r="25.06"/></clipPath>
<g clip-path="url(#cp5)">
<rect x="141.00" y="86.60" width="58.00" height="58.00" fill="#040605"/>
<circle cx="170.00" cy="115.60" r="27.84" fill="#0a100e"/>
<circle cx="170.00" cy="115.60" r="25.06" fill="#050a08"/>
<g clip-path="url(#ci5)">
<ellipse cx="176.96" cy="100.29" rx="15.31" ry="6.96" fill="#22302a" fill-opacity="0.6" filter="url(#bl2)" transform="rotate(20 176.96 100.29)"/>
</g>
<circle cx="170.00" cy="115.60" r="24.92" fill="none" stroke="#627068" stroke-width="0.8" filter="url(#bl03)"/>
<circle cx="170.00" cy="115.60" r="27.42" fill="none" stroke="#4c5a52" stroke-width="0.8" filter="url(#bl03)"/>
<ellipse cx="154.69" cy="132.86" rx="2.78" ry="1.11" fill="#8a9a90" fill-opacity="0.5" filter="url(#bl06)"/>
</g>
<clipPath id="cp6"><rect x="18.60" y="203.00" width="59.40" height="59.00"/></clipPath>
<clipPath id="ci6"><circle cx="48.30" cy="232.50" r="26.73"/></clipPath>
<g clip-path="url(#cp6)">
<rect x="18.60" y="203.00" width="59.40" height="59.00" fill="#040605"/>
<circle cx="48.30" cy="232.50" r="29.70" fill="#0a100e"/>
<circle cx="48.30" cy="232.50" r="26.73" fill="#13201e"/>
<g clip-path="url(#ci6)">
<ellipse cx="54.24" cy="235.47" rx="17.82" ry="17.82" fill="#2c3a36" fill-opacity="0.5" filter="url(#bl2)"/>
<path d="M54.2 213.0h0M68.8 227.0h0M44.0 226.7h0M31.1 245.6h0M37.8 227.4h0M70.4 231.8h0M37.6 231.9h0M41.0 230.7h0M35.9 220.3h0M57.5 253.2h0M34.7 224.9h0M38.7 218.5h0M46.9 250.6h0M34.9 243.7h0M36.6 248.1h0M58.7 220.9h0M39.9 232.8h0M50.1 230.4h0M71.6 226.7h0M40.2 247.0h0M35.3 231.6h0M33.5 230.0h0M45.8 256.4h0M31.3 228.3h0M34.3 237.7h0M47.3 237.8h0M48.2 249.5h0M39.4 221.1h0M48.2 216.8h0M50.2 212.9h0M43.8 249.2h0M25.1 226.9h0M44.4 246.9h0M46.2 208.8h0M39.4 237.3h0M63.5 243.6h0M64.4 216.1h0M40.6 215.6h0M40.9 248.8h0M67.1 230.3h0M67.1 231.9h0M37.5 215.9h0M50.8 255.0h0M36.5 214.1h0M36.3 216.2h0M68.9 232.2h0M28.4 223.1h0M40.7 213.7h0M67.4 227.9h0M38.9 233.4h0M24.7 237.3h0M48.7 227.8h0M35.6 245.7h0M41.1 246.1h0M66.1 233.5h0M45.6 237.6h0M32.1 228.5h0M42.6 255.2h0M55.4 252.7h0M59.9 231.1h0M65.0 220.2h0M61.0 225.4h0M36.7 221.7h0M31.0 215.6h0M55.2 212.3h0M60.9 237.8h0M28.3 230.7h0M41.7 253.7h0M34.2 228.1h0M50.4 242.2h0M46.9 253.4h0M60.3 212.2h0M38.6 210.7h0M28.4 220.0h0M38.2 236.4h0M68.6 223.8h0M28.2 219.2h0M48.3 236.1h0M58.5 249.7h0M36.7 245.8h0M54.2 214.6h0M47.1 233.3h0M37.6 226.0h0M61.8 244.5h0M26.5 241.6h0M69.0 231.1h0M36.2 237.5h0M58.5 218.5h0M69.7 224.2h0M54.6 235.1h0M59.2 231.0h0M36.4 217.9h0M33.5 241.6h0M64.5 234.8h0M33.1 213.8h0M40.0 254.8h0M63.4 217.4h0M38.9 226.2h0M49.5 232.1h0M27.1 223.0h0M69.6 223.7h0M65.0 219.2h0M52.1 210.2h0M63.0 219.8h0M57.5 211.1h0M35.1 217.3h0M62.4 227.1h0M25.5 239.8h0M51.1 232.5h0M39.6 247.8h0M35.5 236.6h0M48.2 223.9h0M57.6 217.0h0M43.9 228.5h0M45.4 242.3h0M50.4 245.1h0M33.2 245.8h0M30.6 236.4h0M49.8 228.5h0M28.0 227.3h0M30.7 247.0h0M34.6 240.7h0M41.4 219.4h0M30.0 241.1h0M48.8 230.2h0M40.4 246.6h0M66.2 224.3h0M59.6 243.5h0M32.9 250.4h0M63.3 229.0h0M47.2 231.9h0M43.4 251.8h0M40.8 233.6h0M69.9 242.7h0M54.4 235.8h0M71.2 233.8h0M39.0 224.3h0M45.6 234.8h0M72.0 236.6h0M39.4 237.8h0M52.1 228.4h0M49.2 221.7h0M40.1 239.6h0M51.1 210.4h0M43.3 220.0h0M70.1 226.1h0M43.7 251.9h0M35.4 246.1h0M32.0 246.6h0M63.6 225.1h0M43.1 223.0h0M46.2 230.7h0M66.8 247.8h0M67.3 246.1h0M28.6 241.0h0M65.9 246.7h0M50.3 244.8h0M69.2 228.4h0M29.4 233.5h0M52.6 209.2h0M51.1 221.5h0M42.8 221.8h0M35.6 239.3h0M44.3 210.4h0M29.2 219.9h0M30.5 240.0h0M65.2 237.1h0M43.2 215.4h0M52.5 250.7h0M45.1 238.5h0M56.9 219.1h0M50.7 213.9h0M71.8 227.1h0M44.4 213.7h0M36.1 219.3h0M34.3 229.1h0M61.6 246.4h0M33.5 239.9h0M55.0 213.2h0M67.2 222.8h0M38.0 213.8h0M59.9 219.3h0M41.8 216.1h0M63.9 219.3h0M30.5 221.9h0M34.8 241.2h0M70.3 224.5h0M46.2 221.7h0M46.4 214.3h0M31.9 244.4h0M68.9 233.4h0M62.5 247.8h0M41.9 249.1h0M42.3 253.1h0M34.8 215.3h0M33.2 216.5h0M46.8 209.0h0M51.5 246.4h0M29.3 231.1h0M47.6 249.2h0M39.3 214.9h0M30.3 245.7h0M31.7 225.0h0M47.1 253.6h0M42.7 240.5h0M39.1 210.7h0M63.4 223.9h0M48.3 232.6h0M35.9 229.3h0M44.8 229.3h0M61.2 225.9h0M60.9 213.2h0M57.3 238.6h0M35.1 231.7h0M43.2 218.3h0M39.3 212.0h0M40.4 213.9h0M45.4 227.0h0M37.7 224.0h0M38.9 211.6h0M47.1 237.8h0M38.5 231.9h0M28.6 243.9h0M62.7 227.5h0M34.2 221.2h0M43.3 253.3h0M44.1 252.8h0M33.4 228.1h0M56.9 251.1h0M36.3 249.2h0M34.1 245.2h0M48.8 214.2h0M35.2 239.7h0M66.0 241.0h0M33.6 218.5h0M34.1 228.5h0M34.2 231.7h0M68.8 227.0h0M60.2 215.7h0M54.9 249.5h0M66.9 218.7h0M56.3 251.8h0M52.1 229.6h0M59.6 213.3h0M69.2 238.9h0M45.2 224.9h0M58.6 223.8h0M32.4 230.5h0M38.4 228.4h0M40.9 255.1h0M35.4 244.0h0M43.9 255.4h0M63.5 226.2h0M43.6 222.6h0M25.9 223.5h0M54.3 209.4h0M44.1 222.7h0M61.0 215.9h0M34.0 214.7h0M62.2 248.6h0M70.0 224.8h0M36.2 213.7h0M39.8 252.1h0M51.0 226.8h0M45.2 228.5h0M29.9 218.4h0M33.6 225.4h0M63.9 235.4h0M41.8 214.5h0M72.0 234.8h0M37.0 211.8h0M48.3 220.9h0M45.2 237.0h0M61.6 224.2h0M30.6 246.1h0M70.6 223.7h0M35.1 230.6h0M51.8 222.0h0M34.8 234.1h0M71.2 232.8h0M46.8 218.1h0M24.5 233.0h0M70.4 224.1h0M26.9 222.3h0M53.5 222.2h0M58.2 250.3h0" fill="none" stroke="#dfe6da" stroke-opacity="0.62" stroke-width="0.72" stroke-linecap="round" filter="url(#bl03)"/>
<path d="M59.4 221.3h0M29.3 227.7h0M41.7 255.7h0M62.6 225.4h0M42.2 241.9h0M50.5 254.1h0M33.5 226.8h0M60.5 222.2h0M42.5 254.5h0M59.0 248.5h0M55.2 235.6h0M33.0 246.1h0M42.6 233.5h0M66.4 222.9h0M57.4 220.1h0M39.6 254.6h0M51.8 215.7h0M29.4 239.0h0M63.4 246.8h0M50.2 251.4h0M34.8 235.9h0M61.1 242.0h0M33.1 224.9h0M28.2 223.3h0M65.3 222.5h0M61.0 244.1h0M45.3 212.1h0M50.9 239.8h0M47.6 212.4h0M60.4 219.6h0M45.3 229.3h0M34.0 213.6h0M56.0 217.4h0M66.4 231.9h0M52.6 210.4h0M41.7 252.9h0M38.7 223.8h0M46.7 214.2h0M54.3 250.2h0M29.5 229.9h0M38.5 254.6h0M31.0 240.8h0M63.5 231.4h0M52.7 219.0h0M27.9 219.7h0M31.7 228.4h0M53.8 231.1h0M40.1 221.7h0M70.5 230.9h0M39.9 230.3h0M44.3 221.7h0M25.1 225.3h0M33.0 225.9h0M62.0 241.0h0M38.7 232.5h0M44.8 215.0h0M43.7 256.3h0M31.6 231.3h0M66.0 246.4h0M61.2 249.5h0M59.4 222.3h0M42.6 241.4h0M65.9 218.6h0M43.0 234.5h0M59.0 221.9h0M46.5 214.4h0M32.2 229.8h0M42.1 212.2h0M54.3 225.7h0M44.4 234.1h0M33.0 236.8h0M25.5 239.3h0M42.6 235.4h0M35.2 224.6h0M26.1 236.9h0M34.9 223.8h0M38.3 219.1h0M52.7 235.5h0M25.3 236.0h0M29.7 228.8h0M54.9 248.0h0M34.8 245.6h0M35.4 247.0h0M64.1 232.2h0M25.1 235.0h0M32.6 228.2h0M40.6 221.2h0M39.6 223.7h0M52.8 215.7h0M55.5 253.8h0M27.6 222.6h0M62.7 243.6h0M53.2 213.7h0M37.1 217.3h0M45.0 216.7h0M32.6 226.2h0M53.3 221.1h0M51.8 215.7h0M65.4 238.7h0M37.3 226.4h0M51.8 217.2h0M25.0 227.7h0M59.8 244.6h0M31.1 216.6h0M51.3 211.0h0M31.1 234.2h0M41.3 244.5h0M51.3 224.2h0M43.0 210.9h0M40.6 237.4h0M39.7 240.2h0M32.5 231.3h0M26.1 229.0h0M44.3 253.6h0M31.2 231.5h0M60.9 216.5h0M47.7 208.9h0M30.2 217.8h0M67.6 237.9h0M24.8 233.2h0M49.6 213.1h0M65.3 226.5h0M70.0 225.7h0M63.2 230.3h0M39.7 242.5h0M53.6 252.3h0M40.0 219.9h0M64.1 244.3h0M54.0 219.4h0M39.6 253.0h0M70.4 224.3h0M37.7 217.9h0M32.9 246.9h0M32.4 242.3h0M44.1 230.6h0M34.1 223.4h0M49.7 231.4h0M45.9 230.5h0M63.2 231.5h0M38.9 254.2h0M51.1 234.0h0M25.2 239.8h0M39.8 210.5h0M41.2 237.7h0M37.0 240.0h0M71.3 225.1h0M36.6 253.5h0M38.2 236.7h0M42.4 253.4h0M47.7 241.8h0M29.9 241.7h0M36.6 212.5h0M70.0 226.8h0M51.5 238.4h0M62.4 245.2h0M35.3 226.3h0M31.4 233.3h0M44.3 252.5h0M48.4 253.1h0M58.5 214.0h0M67.5 246.8h0M45.6 209.0h0M31.6 221.5h0M67.6 221.4h0M40.6 239.0h0M40.5 242.7h0M48.5 238.7h0M28.6 233.8h0M55.7 250.1h0M47.4 224.7h0M36.5 248.7h0M54.8 214.2h0M36.9 235.1h0M67.8 229.6h0M54.3 223.0h0M68.5 239.5h0M46.3 246.9h0M39.2 228.1h0M40.2 224.0h0M46.1 234.8h0M70.4 237.3h0M49.6 252.8h0M60.0 229.2h0M48.9 235.8h0M42.9 217.0h0M33.6 236.4h0M38.9 229.0h0M29.4 235.4h0M49.6 227.2h0M67.5 244.4h0M38.1 241.6h0M26.6 227.9h0M65.8 235.1h0M66.7 220.9h0M34.3 229.1h0M47.8 236.0h0M60.9 222.9h0M68.6 239.4h0M55.0 215.5h0M30.1 240.3h0M56.3 219.7h0M41.5 209.3h0M35.2 222.8h0M59.3 221.2h0M63.2 236.9h0M49.2 252.2h0M24.3 235.8h0M45.7 237.7h0M40.0 233.2h0M40.7 210.9h0M53.9 214.6h0M39.5 209.8h0M40.3 235.3h0M32.3 242.5h0M32.2 244.4h0M55.4 225.7h0M36.8 242.9h0M46.3 208.7h0M38.9 224.4h0M37.5 245.2h0M66.3 248.9h0M50.5 228.7h0M37.4 244.1h0M38.7 249.6h0M64.9 235.0h0M46.8 234.5h0M42.1 231.8h0M38.2 244.5h0M52.4 244.5h0M38.8 249.7h0M72.0 234.3h0M27.0 230.7h0M37.8 228.7h0M33.3 219.0h0M60.6 252.7h0M37.3 239.6h0M49.9 256.1h0M62.2 213.4h0M63.5 245.9h0M25.9 231.8h0M41.9 212.9h0M64.7 233.3h0M44.3 214.9h0M45.5 233.9h0M43.9 236.1h0M31.5 231.2h0M34.5 219.2h0M62.7 246.5h0M45.3 254.6h0M68.1 242.9h0M31.3 242.5h0M38.2 212.2h0M36.5 233.9h0M31.6 225.4h0M40.2 223.9h0M26.7 232.3h0M50.4 227.9h0M34.9 228.1h0M41.7 229.3h0M30.8 226.3h0M33.1 242.1h0M62.6 242.0h0M51.9 251.7h0M48.2 225.0h0M61.9 217.7h0M39.9 231.9h0M48.0 210.0h0M57.8 236.2h0M48.2 208.4h0M61.1 224.2h0M45.8 256.0h0M38.7 218.8h0M53.7 224.7h0M52.0 209.0h0M44.5 212.6h0M64.0 222.9h0M47.2 253.6h0M51.9 208.6h0M46.4 231.6h0M30.3 223.3h0M24.9 230.9h0" fill="none" stroke="#dfe6da" stroke-opacity="0.62" stroke-width="1.08" stroke-linecap="round" filter="url(#bl03)"/>
</g>
<circle cx="48.30" cy="232.50" r="26.58" fill="none" stroke="#7c8a80" stroke-width="1.0" filter="url(#bl03)"/>
<circle cx="48.30" cy="232.50" r="29.25" fill="none" stroke="#a8b6aa" stroke-width="1.6" filter="url(#bl03)"/>
</g>
<clipPath id="cp7"><rect x="80.20" y="203.00" width="58.80" height="59.00"/></clipPath>
<clipPath id="ci7"><circle cx="109.60" cy="232.50" r="26.46"/></clipPath>
<g clip-path="url(#cp7)">
<rect x="80.20" y="203.00" width="58.80" height="59.00" fill="#040605"/>
<circle cx="109.60" cy="232.50" r="29.40" fill="#0a100e"/>
<circle cx="109.60" cy="232.50" r="26.46" fill="#12201e"/>
<g clip-path="url(#ci7)">
<ellipse cx="99.31" cy="248.67" rx="13.23" ry="6.47" fill="#6a7c78" fill-opacity="0.5" filter="url(#bl2)" transform="rotate(30 99.31 248.67)"/>
<ellipse cx="112.54" cy="229.56" rx="17.64" ry="14.70" fill="#22302c" fill-opacity="0.5" filter="url(#bl2)"/>
<path d="M94.2 237.5h0M110.2 221.2h0M115.1 227.5h0M95.4 249.0h0M113.3 233.9h0M105.9 238.1h0M118.0 236.2h0M89.4 230.0h0M112.4 226.3h0M114.9 241.1h0M109.5 242.8h0M104.3 233.0h0M98.6 241.7h0M123.7 234.9h0M113.0 223.6h0M108.1 226.9h0M111.9 231.6h0M120.3 225.5h0M102.7 251.6h0M97.6 232.9h0M91.7 244.5h0M119.1 220.3h0M109.4 221.9h0M120.7 221.8h0M101.3 231.0h0M119.6 235.4h0M126.7 218.6h0M89.9 232.8h0M110.3 248.9h0M113.4 233.6h0M100.7 244.6h0M124.7 219.2h0M98.0 234.0h0M128.8 233.3h0M101.1 219.7h0M105.3 237.1h0M131.1 230.9h0M115.0 218.7h0M121.3 222.6h0M113.3 216.4h0M103.9 245.6h0M118.0 223.9h0M96.6 230.9h0M97.6 222.9h0M87.4 234.3h0M103.9 224.9h0M118.1 215.5h0M90.4 248.2h0M122.1 211.7h0M98.7 232.4h0M113.9 217.0h0M123.7 226.8h0M104.8 223.8h0M103.8 248.7h0M120.0 224.4h0M117.3 219.1h0M101.3 236.8h0M105.0 237.7h0M116.9 211.4h0M95.3 252.1h0M119.3 230.6h0M101.4 217.2h0M118.2 214.0h0M115.8 226.3h0M104.8 242.7h0M101.7 232.2h0M115.0 224.9h0M126.5 225.9h0M98.8 233.6h0M130.2 225.1h0M113.0 225.6h0M106.5 211.7h0M117.5 232.4h0M113.7 221.2h0M93.8 238.4h0M113.0 212.9h0M124.8 215.7h0M99.4 236.1h0M121.7 215.7h0M121.7 234.5h0M115.7 216.2h0M115.6 225.1h0M123.7 221.3h0M119.5 233.8h0M108.7 229.4h0M129.1 224.3h0M96.3 253.1h0M126.8 221.2h0M89.2 240.9h0M104.4 252.0h0M120.0 225.0h0M96.0 235.8h0M117.8 210.6h0M123.4 220.7h0M93.2 244.8h0M91.9 246.4h0M98.0 224.8h0M117.2 224.2h0M119.2 225.9h0M120.3 227.3h0M106.2 257.4h0M109.6 249.1h0M127.2 237.9h0M125.2 232.4h0M101.1 245.7h0M109.4 248.5h0M127.4 238.2h0M100.9 254.4h0M128.7 238.9h0M111.9 245.1h0M106.1 250.9h0M116.5 247.9h0M129.9 229.4h0M93.9 248.3h0M107.2 249.4h0M116.3 237.6h0M124.1 232.4h0M127.2 229.6h0M108.2 243.7h0M101.9 249.4h0M124.0 222.2h0M100.6 244.7h0M128.3 232.0h0M108.4 248.2h0M105.0 247.3h0M127.8 239.7h0M114.2 249.6h0M116.6 253.4h0M106.8 257.0h0M102.9 248.8h0M122.9 243.7h0M110.5 254.6h0M123.7 242.2h0M119.8 236.6h0M110.8 238.3h0M127.8 229.9h0M109.4 253.3h0M124.1 233.8h0M111.4 243.0h0M107.6 255.3h0M123.1 235.0h0M128.0 231.8h0M111.2 244.5h0M112.9 246.0h0M107.4 243.9h0M105.2 248.2h0M120.2 234.8h0M128.1 222.7h0M110.7 244.9h0M88.8 236.7h0M102.5 242.2h0M123.7 216.0h0M98.7 234.0h0M127.1 234.2h0M130.0 242.6h0M122.6 213.9h0M99.3 233.3h0M91.3 223.2h0M110.5 251.6h0M118.2 213.2h0M92.6 247.3h0M89.7 221.2h0M122.5 212.8h0M118.6 229.2h0M109.9 220.4h0M131.9 227.7h0M95.4 248.6h0M128.8 225.8h0M103.6 232.3h0M102.8 225.1h0M115.6 244.1h0M91.3 225.5h0M119.9 252.1h0M110.3 211.7h0M124.0 225.4h0M96.9 245.6h0M101.2 235.6h0M113.1 251.5h0M90.4 236.1h0M109.2 231.7h0M126.5 217.3h0M112.5 233.4h0M118.3 212.0h0M116.4 223.3h0M91.7 242.9h0M124.4 247.7h0M114.7 242.9h0M129.7 224.1h0M127.4 217.0h0M126.3 228.0h0M128.1 219.4h0M98.8 249.2h0M95.6 236.2h0M87.8 233.6h0M122.7 251.5h0M130.8 221.5h0M106.2 211.4h0M95.4 216.2h0M129.9 242.2h0M89.3 227.8h0M87.9 223.0h0M109.6 247.7h0M99.6 245.9h0M129.9 234.6h0M126.6 232.8h0M123.3 222.4h0M118.6 231.2h0M113.1 231.3h0M101.8 242.4h0M117.6 246.8h0M122.4 236.6h0M91.3 232.5h0M119.9 253.2h0M88.7 227.7h0M93.7 238.8h0M111.1 222.8h0M101.9 230.3h0M120.4 253.5h0M115.3 214.9h0M110.2 227.5h0M108.8 245.2h0M118.8 246.0h0M92.2 241.6h0M124.2 233.4h0M116.0 219.7h0M116.7 210.8h0M131.4 238.2h0M89.1 242.8h0M125.7 224.3h0M102.3 229.2h0M128.7 242.6h0M119.7 211.9h0M88.6 229.0h0" fill="none" stroke="#dce4d8" stroke-opacity="0.62" stroke-width="0.72" stroke-linecap="round" filter="url(#bl03)"/>
<path d="M107.6 212.8h0M110.6 230.2h0M101.8 234.9h0M108.6 217.6h0M104.2 224.7h0M97.7 230.4h0M94.5 233.6h0M128.2 216.2h0M119.8 227.3h0M101.5 218.9h0M105.9 225.3h0M90.4 238.3h0M111.1 224.3h0M109.6 229.7h0M112.7 212.1h0M106.3 242.6h0M121.0 212.1h0M109.5 230.7h0M120.4 216.0h0M112.4 231.4h0M122.6 212.8h0M95.3 246.0h0M89.9 237.2h0M106.7 229.7h0M102.5 244.9h0M102.8 246.0h0M115.5 221.0h0M90.6 241.9h0M116.5 225.2h0M112.2 220.9h0M112.5 226.6h0M109.7 231.7h0M104.4 247.7h0M113.0 217.2h0M114.1 216.3h0M115.0 226.9h0M102.6 230.9h0M111.0 227.1h0M104.2 224.9h0M118.8 238.0h0M131.1 224.4h0M112.5 246.3h0M112.3 232.4h0M122.1 223.1h0M121.1 210.9h0M104.7 229.8h0M119.6 245.4h0M123.0 219.5h0M103.6 232.1h0M127.5 214.8h0M99.4 235.1h0M97.6 242.8h0M91.3 236.6h0M95.6 246.6h0M97.3 239.6h0M107.3 219.5h0M125.1 217.5h0M93.5 245.5h0M126.4 213.8h0M120.1 226.8h0M95.0 252.9h0M92.7 240.8h0M125.3 223.8h0M120.4 229.6h0M114.5 225.4h0M107.6 230.9h0M115.4 230.5h0M97.7 229.4h0M91.4 239.0h0M117.6 222.6h0M102.6 223.4h0M110.1 219.0h0M103.6 251.1h0M105.3 232.5h0M117.2 214.3h0M128.6 223.8h0M101.9 232.2h0M93.4 243.1h0M103.1 229.3h0M111.6 220.5h0M97.0 245.6h0M99.7 252.2h0M115.6 228.6h0M101.4 246.1h0M99.0 235.2h0M114.3 232.5h0M113.8 227.6h0M105.0 253.0h0M115.3 212.9h0M101.6 250.5h0M113.3 233.8h0M106.6 236.4h0M127.0 229.4h0M96.6 253.6h0M116.0 216.8h0M110.7 229.5h0M116.0 231.8h0M109.6 230.0h0M103.0 232.3h0M115.6 224.2h0M128.4 224.2h0M87.0 234.8h0M111.2 229.3h0M101.7 249.5h0M121.1 224.3h0M110.2 249.1h0M104.1 243.6h0M102.2 256.4h0M115.1 240.3h0M97.6 249.0h0M113.1 241.2h0M129.5 239.4h0M101.6 249.8h0M118.0 242.2h0M116.6 235.0h0M109.2 250.3h0M101.7 248.3h0M113.2 247.5h0M124.0 241.8h0M128.4 223.4h0M100.7 247.8h0M102.0 253.0h0M112.8 231.7h0M102.1 253.8h0M121.0 233.9h0M117.2 241.0h0M107.8 255.6h0M100.8 253.6h0M109.5 250.4h0M107.2 246.9h0M113.8 243.8h0M109.0 245.1h0M120.0 236.7h0M110.6 247.5h0M107.2 248.6h0M120.3 240.2h0M103.3 249.2h0M108.1 248.4h0M99.7 252.0h0M116.0 245.4h0M101.9 249.9h0M106.3 255.3h0M115.1 243.3h0M112.7 246.1h0M112.7 239.3h0M111.2 251.6h0M115.1 227.1h0M118.6 216.8h0M114.5 250.9h0M100.1 241.8h0M98.1 232.5h0M115.5 247.4h0M112.6 213.8h0M118.6 253.7h0M118.0 234.6h0M107.8 230.4h0M113.0 233.9h0M118.7 246.1h0M105.2 231.1h0M112.8 216.3h0M121.5 225.9h0M92.6 228.1h0M126.8 241.1h0M104.8 255.5h0M115.2 249.7h0M104.5 220.9h0M109.1 248.5h0M96.7 230.6h0M101.5 216.9h0M112.5 211.9h0M113.8 211.0h0M99.1 233.4h0M113.2 226.0h0M98.4 249.5h0M129.2 243.8h0M104.3 227.5h0M100.1 242.1h0M111.6 217.1h0M129.3 228.6h0M98.9 217.5h0M94.3 235.4h0M98.9 215.0h0M130.7 220.9h0M92.0 232.1h0M92.7 222.7h0M116.8 214.8h0M94.3 226.0h0M114.9 232.5h0M106.0 250.5h0M110.5 218.4h0M115.0 251.8h0M99.1 227.5h0M128.8 222.3h0M113.8 246.4h0M110.5 250.6h0M89.8 245.6h0M106.3 255.6h0M108.0 220.7h0M123.2 241.2h0M120.4 254.0h0M86.8 239.1h0M106.3 218.2h0M99.1 235.0h0M112.6 232.4h0M121.1 242.6h0M93.7 245.5h0M107.8 225.7h0M100.1 225.4h0M99.0 232.5h0M114.3 252.9h0M107.3 216.3h0M131.5 224.7h0M91.6 233.7h0M88.1 225.3h0M94.5 218.6h0M104.2 233.8h0M123.9 242.1h0M114.6 228.1h0M107.1 213.8h0M120.3 253.5h0M120.2 232.0h0M104.4 226.1h0M109.1 233.5h0M100.2 228.8h0M101.0 220.1h0M98.3 235.1h0M110.7 245.4h0M109.8 233.9h0M105.4 209.4h0M119.9 212.8h0M93.9 235.2h0M113.6 230.1h0M130.2 244.4h0M116.7 245.1h0M122.3 226.6h0M117.2 244.7h0M99.5 225.4h0M88.7 232.4h0M118.4 218.8h0M118.0 251.5h0M102.2 249.3h0M115.5 214.2h0M91.6 242.6h0M108.5 252.2h0M92.5 229.7h0M103.1 219.0h0" fill="none" stroke="#dce4d8" stroke-opacity="0.62" stroke-width="1.08" stroke-linecap="round" filter="url(#bl03)"/>
</g>
<circle cx="109.60" cy="232.50" r="26.31" fill="none" stroke="#7c8a80" stroke-width="1.0" filter="url(#bl03)"/>
<circle cx="109.60" cy="232.50" r="28.96" fill="none" stroke="#a8b6aa" stroke-width="1.6" filter="url(#bl03)"/>
</g>
<clipPath id="cp8"><rect x="141.30" y="203.00" width="58.20" height="59.00"/></clipPath>
<clipPath id="ci8"><circle cx="170.40" cy="232.50" r="26.19"/></clipPath>
<g clip-path="url(#cp8)">
<rect x="141.30" y="203.00" width="58.20" height="59.00" fill="#040605"/>
<circle cx="170.40" cy="232.50" r="29.10" fill="#0a100e"/>
<radialGradient id="rg8" cx="42%" cy="50%" r="70%"><stop offset="0" stop-color="#020504"/><stop offset="0.42" stop-color="#22403a"/><stop offset="1" stop-color="#3e5a52"/></radialGradient>
<circle cx="170.40" cy="232.50" r="26.19" fill="url(#rg8)"/>
<g clip-path="url(#ci8)">
<path d="M179.3 234.9h0M185.3 239.7h0M149.6 237.7h0M150.5 234.1h0M178.4 227.0h0M151.1 219.7h0M182.7 241.0h0M183.5 239.0h0M168.1 212.5h0M163.1 212.5h0M175.3 220.7h0M186.6 222.2h0M160.6 216.5h0M193.0 232.7h0" fill="none" stroke="#e4ecdf" stroke-opacity="0.85" stroke-width="1.04" stroke-linecap="round" filter="url(#bl03)"/>
<path d="M185.8 246.2h0M189.7 219.9h0M185.4 244.4h0M174.8 226.9h0M147.7 227.5h0M181.9 225.9h0M159.7 235.2h0M162.1 217.8h0M180.9 229.8h0M165.1 210.3h0M159.4 242.1h0M190.4 234.5h0M183.8 249.1h0M181.0 213.5h0" fill="none" stroke="#e4ecdf" stroke-opacity="0.85" stroke-width="1.56" stroke-linecap="round" filter="url(#bl03)"/>
</g>
<circle cx="170.40" cy="232.50" r="26.04" fill="none" stroke="#7c8a80" stroke-width="1.0" filter="url(#bl03)"/>
<circle cx="170.40" cy="232.50" r="28.66" fill="none" stroke="#b4c2b6" stroke-width="1.6" filter="url(#bl03)"/>
</g>
<clipPath id="cp9"><rect x="18.60" y="264.20" width="59.40" height="58.60"/></clipPath>
<clipPath id="ci9"><circle cx="48.30" cy="293.50" r="26.73"/></clipPath>
<g clip-path="url(#cp9)">
<rect x="18.60" y="264.20" width="59.40" height="58.60" fill="#040605"/>
<circle cx="48.30" cy="293.50" r="29.70" fill="#0a100e"/>
<circle cx="48.30" cy="293.50" r="26.73" fill="#13201e"/>
<g clip-path="url(#ci9)">
<ellipse cx="48.30" cy="293.50" rx="19.30" ry="19.30" fill="#2a3834" fill-opacity="0.5" filter="url(#bl2)"/>
<path d="M57.3 308.8h0M48.5 274.9h0M47.3 309.6h0M36.4 273.9h0M66.4 285.5h0M66.2 297.1h0M36.3 298.9h0M45.8 308.2h0M50.0 297.3h0M47.8 301.7h0M24.5 290.6h0M33.5 307.8h0M61.0 275.4h0M64.9 285.5h0M69.6 297.3h0M71.4 289.0h0M44.0 307.0h0M28.5 303.1h0M26.4 285.8h0M59.1 296.2h0M34.0 285.4h0M34.0 290.7h0M63.3 297.2h0M69.4 284.5h0M61.1 308.3h0M43.6 285.6h0M52.9 301.9h0M36.2 306.8h0M46.9 274.8h0M61.3 283.0h0M54.4 296.7h0M27.0 288.3h0M28.2 292.0h0M50.4 288.4h0M42.8 302.5h0M52.8 287.0h0M64.1 298.0h0M36.5 278.8h0M67.9 289.5h0M66.5 295.5h0M34.2 274.7h0M56.8 274.9h0M57.2 307.2h0M69.6 296.1h0M32.9 309.5h0M29.3 285.7h0M52.3 277.1h0M66.0 285.0h0M26.7 301.7h0M35.1 311.1h0M39.4 315.2h0M25.8 286.3h0M35.2 277.7h0M35.8 274.6h0M33.0 302.3h0M34.8 313.4h0M34.8 283.2h0M69.2 298.0h0M47.2 285.6h0M31.3 287.9h0M63.8 277.4h0M47.4 309.2h0M44.1 308.2h0M53.9 315.4h0M29.5 284.1h0M40.6 300.7h0M63.0 280.5h0M64.0 293.0h0M48.1 274.4h0M69.6 290.9h0M44.3 285.0h0M25.3 297.8h0M56.3 315.9h0M53.7 310.1h0M53.8 280.1h0M48.9 277.4h0M62.1 306.4h0M52.2 276.9h0M63.2 307.4h0M51.5 308.5h0M26.6 293.6h0M56.5 273.4h0M33.8 277.9h0M62.3 278.3h0M44.6 283.7h0M64.4 307.2h0M58.5 312.1h0M64.2 297.8h0M38.4 278.5h0M39.6 289.0h0M48.3 281.1h0M51.6 291.2h0M68.0 289.5h0M43.3 276.4h0M69.8 299.7h0M42.4 281.0h0M66.6 308.6h0M57.1 290.2h0M27.4 291.3h0M50.2 308.0h0M51.3 289.4h0M50.5 274.2h0M40.8 285.9h0M43.9 277.3h0M38.2 281.6h0M72.6 293.0h0M44.5 311.2h0M38.8 284.5h0M35.9 304.6h0M45.0 316.5h0M58.2 307.3h0M48.9 275.5h0M46.7 292.3h0M52.9 277.7h0M48.7 307.6h0M34.0 292.7h0M26.3 297.6h0M39.4 282.4h0M67.3 286.9h0M50.3 312.8h0M31.7 286.2h0M52.9 308.9h0M57.6 307.5h0M68.5 295.6h0M59.1 280.4h0M34.5 303.2h0M47.9 305.9h0M41.8 276.6h0M26.2 293.9h0M51.4 304.8h0M28.9 292.3h0M59.9 273.3h0M66.7 279.3h0M33.8 296.7h0M40.5 315.1h0M35.4 304.8h0M45.8 305.2h0M47.3 298.7h0M67.0 292.9h0M48.7 313.2h0M65.7 308.0h0M58.2 298.2h0M42.1 270.9h0M48.3 310.6h0M58.1 291.1h0M42.4 273.3h0M56.2 286.1h0M38.3 273.7h0M37.4 282.8h0M49.5 289.9h0M68.6 293.2h0M47.1 311.6h0M65.2 286.9h0M40.9 271.0h0M48.3 286.4h0M46.6 311.0h0M66.0 292.0h0M65.1 285.1h0M26.6 300.7h0M41.1 285.4h0M39.9 296.6h0M42.8 311.6h0M31.0 278.1h0M28.7 281.6h0M31.4 301.9h0M63.1 293.9h0M37.0 287.9h0M34.4 302.3h0M68.1 284.7h0M62.3 280.0h0M53.2 309.2h0M32.8 305.0h0M41.7 314.2h0M49.2 273.3h0M53.9 277.5h0M54.9 311.1h0M67.6 300.8h0M38.0 310.3h0M59.5 283.0h0M51.7 282.5h0M71.8 297.6h0M45.7 281.6h0M28.4 292.2h0M39.6 275.9h0M30.2 291.8h0M50.8 299.3h0M42.3 272.2h0M27.7 290.7h0M44.0 281.4h0M52.3 277.1h0M30.8 302.3h0M36.0 284.6h0M49.9 276.2h0M35.6 276.4h0M29.3 294.7h0M55.6 272.7h0M56.9 291.5h0M58.2 273.3h0M34.8 291.0h0M60.3 274.8h0M34.1 300.8h0M31.8 290.1h0M44.3 283.6h0M26.8 286.5h0M59.1 295.8h0M35.6 299.9h0M49.4 285.8h0M53.6 309.5h0M50.9 310.4h0M61.6 273.9h0M45.9 282.2h0M56.8 307.2h0M59.5 294.7h0M51.2 307.8h0M70.2 293.3h0M64.3 281.5h0M55.2 292.8h0M53.1 273.6h0M58.3 281.5h0M46.7 283.3h0M45.6 306.9h0M54.9 297.4h0M27.6 300.0h0M34.8 304.5h0M65.0 299.0h0M68.0 282.9h0M61.5 308.2h0M55.9 315.9h0M28.2 282.7h0M45.6 307.9h0M28.5 296.7h0M30.0 293.8h0M54.4 315.9h0M41.8 279.7h0M52.6 274.2h0M31.3 285.4h0M48.5 305.6h0M42.5 271.4h0M31.6 307.0h0M42.5 317.1h0M62.3 295.6h0M33.4 282.0h0M24.8 294.6h0M42.1 282.2h0M34.5 274.8h0M38.8 313.9h0M47.8 289.9h0M52.4 294.7h0M43.2 310.6h0M53.8 273.2h0M34.5 305.8h0M58.1 273.3h0M50.7 289.6h0M50.7 285.4h0M33.8 310.0h0M43.7 312.0h0M45.1 302.0h0M65.3 278.2h0M48.2 309.0h0M56.2 277.6h0M28.5 294.4h0M34.4 304.4h0M44.9 298.5h0M58.0 280.6h0M58.1 279.1h0M53.4 297.3h0M49.5 274.9h0M32.1 309.2h0M53.5 285.4h0M38.1 307.1h0M36.9 302.8h0M56.6 292.3h0M56.7 290.6h0M55.0 290.3h0M48.9 291.0h0M57.7 281.7h0M55.6 280.9h0M44.3 295.2h0M55.9 285.4h0M48.8 292.3h0M45.4 288.5h0M53.5 289.0h0M47.9 282.3h0M48.5 289.4h0M39.2 307.3h0M41.2 315.8h0M50.6 290.1h0M51.9 283.5h0M37.9 311.4h0M32.1 305.2h0M48.3 288.1h0M58.3 275.3h0M36.3 312.8h0M57.0 286.7h0M64.2 280.4h0M31.0 304.9h0M67.4 277.6h0M35.2 296.4h0M58.5 270.7h0M56.9 289.7h0M54.5 279.9h0M59.8 274.0h0M39.8 308.9h0M29.8 310.2h0M41.2 309.6h0M48.3 280.8h0M65.5 275.3h0M55.6 294.1h0M53.3 285.8h0M58.0 282.3h0M39.2 301.4h0M64.4 276.8h0M51.4 287.4h0M58.7 292.9h0M55.4 280.6h0M64.7 274.7h0M61.8 284.3h0M50.1 294.1h0M52.2 297.8h0M47.7 291.0h0M48.7 288.8h0M58.2 277.6h0M52.5 287.8h0M35.2 306.1h0M61.2 277.0h0" fill="none" stroke="#dfe6da" stroke-opacity="0.62" stroke-width="0.72" stroke-linecap="round" filter="url(#bl03)"/>
<path d="M36.9 275.4h0M63.8 285.0h0M66.4 298.8h0M33.7 299.2h0M32.5 304.4h0M28.6 283.6h0M34.4 284.5h0M36.6 294.4h0M66.3 293.2h0M31.1 300.8h0M47.9 315.6h0M48.4 316.3h0M56.1 280.1h0M37.2 278.4h0M41.0 274.5h0M58.0 306.9h0M71.1 295.0h0M63.2 281.2h0M52.8 295.6h0M67.8 299.0h0M39.1 283.7h0M53.3 307.3h0M69.3 293.1h0M58.6 286.8h0M42.7 311.6h0M66.4 297.3h0M65.7 286.8h0M25.9 302.3h0M33.3 301.0h0M31.6 284.1h0M65.3 289.0h0M43.5 310.7h0M46.2 305.0h0M51.4 283.0h0M69.4 292.6h0M69.8 300.8h0M65.0 278.8h0M72.2 289.0h0M29.6 286.9h0M47.3 308.1h0M47.7 278.8h0M59.1 307.4h0M59.1 294.4h0M27.3 305.8h0M35.9 303.3h0M34.8 312.6h0M40.6 276.4h0M66.2 283.2h0M37.7 302.2h0M61.6 310.1h0M28.7 296.5h0M50.0 311.9h0M53.7 285.7h0M29.3 296.1h0M68.0 281.7h0M42.7 292.4h0M56.5 287.3h0M43.9 289.3h0M32.2 278.9h0M30.6 303.1h0M68.5 291.0h0M57.1 273.2h0M37.3 276.7h0M53.6 284.8h0M38.3 274.0h0M53.6 294.9h0M40.7 314.9h0M29.2 297.7h0M46.5 314.1h0M29.4 305.3h0M59.0 284.8h0M38.8 306.6h0M34.5 295.6h0M62.5 307.4h0M59.9 275.1h0M44.9 285.1h0M48.4 308.8h0M61.4 302.5h0M50.7 275.7h0M55.2 272.4h0M52.0 303.6h0M34.5 286.3h0M24.7 289.5h0M56.7 289.6h0M42.7 271.8h0M51.0 296.9h0M67.8 303.5h0M71.9 298.8h0M49.3 283.5h0M70.1 297.0h0M52.5 311.8h0M35.5 294.9h0M31.0 300.4h0M29.9 277.6h0M27.4 282.8h0M44.9 287.3h0M36.1 285.6h0M30.6 288.8h0M54.4 272.4h0M57.2 275.1h0M66.9 288.6h0M42.6 284.7h0M59.1 291.1h0M32.7 288.9h0M35.0 305.8h0M25.8 294.1h0M27.7 294.4h0M69.0 295.8h0M44.9 275.1h0M31.5 283.6h0M68.4 289.7h0M25.9 299.3h0M27.8 300.8h0M66.7 291.3h0M25.9 296.7h0M57.0 284.2h0M55.0 313.4h0M48.8 311.7h0M61.8 290.4h0M55.0 316.8h0M30.4 294.9h0M71.4 299.9h0M27.6 287.3h0M30.5 292.7h0M47.3 279.2h0M67.9 285.4h0M70.4 286.6h0M26.5 288.8h0M47.6 272.8h0M69.0 281.1h0M57.3 297.8h0M31.1 285.1h0M37.6 306.3h0M40.3 307.8h0M43.9 270.6h0M49.0 312.8h0M48.3 302.5h0M42.6 285.0h0M55.3 301.9h0M37.0 314.8h0M52.0 279.0h0M64.1 308.8h0M50.2 279.0h0M66.1 291.9h0M51.4 298.9h0M51.7 315.5h0M34.0 284.2h0M40.6 278.6h0M47.1 272.5h0M30.8 292.3h0M61.1 276.1h0M51.8 311.7h0M33.4 293.0h0M29.1 300.9h0M60.9 284.5h0M50.4 295.5h0M49.0 293.2h0M59.4 296.4h0M48.5 298.7h0M32.4 299.0h0M35.6 304.6h0M62.0 295.0h0M45.3 275.9h0M41.4 299.7h0M38.1 315.0h0M52.2 276.6h0M25.8 302.3h0M38.3 315.4h0M50.4 299.1h0M62.9 311.8h0M40.0 278.0h0M52.3 277.7h0M49.3 284.9h0M70.6 302.3h0M45.2 275.0h0M46.0 284.6h0M45.5 284.1h0M63.7 278.8h0M61.7 281.5h0M69.7 301.3h0M70.0 294.8h0M39.4 278.0h0M53.5 271.9h0M34.2 286.0h0M45.2 307.4h0M28.6 293.9h0M60.4 288.4h0M31.5 291.7h0M63.6 298.3h0M37.9 289.3h0M61.3 297.6h0M41.5 273.4h0M68.1 291.7h0M67.7 292.8h0M60.6 303.8h0M70.2 300.6h0M55.9 312.5h0M45.3 310.9h0M40.5 299.2h0M59.9 294.2h0M44.3 270.3h0M57.2 280.4h0M30.7 296.5h0M37.1 288.0h0M63.2 312.4h0M40.1 278.5h0M35.2 299.2h0M48.4 300.1h0M41.0 279.9h0M48.9 298.9h0M67.6 287.2h0M34.6 305.6h0M32.4 299.3h0M49.9 307.2h0M51.3 270.1h0M29.0 291.2h0M67.0 305.2h0M33.0 284.4h0M48.4 281.0h0M33.7 279.3h0M47.5 274.3h0M71.1 286.6h0M30.3 293.1h0M63.8 288.7h0M24.8 290.0h0M49.7 274.4h0M29.4 281.0h0M66.9 306.6h0M53.9 282.7h0M31.6 298.1h0M24.3 295.3h0M29.1 279.0h0M57.8 286.0h0M60.1 286.0h0M24.7 294.5h0M55.7 281.0h0M55.7 314.6h0M48.5 299.2h0M30.5 279.8h0M53.5 288.8h0M61.0 284.2h0M31.1 277.3h0M57.9 289.8h0M54.5 312.9h0M63.8 306.9h0M60.2 282.5h0M28.5 301.5h0M39.1 287.6h0M31.2 295.2h0M64.9 308.3h0M31.3 301.3h0M46.1 286.4h0M51.7 292.1h0M64.5 278.6h0M42.1 298.8h0M40.7 310.6h0M52.0 296.1h0M46.0 308.4h0M50.9 291.1h0M52.5 280.1h0M46.6 292.8h0M56.5 281.4h0M45.9 284.0h0M61.5 287.8h0M56.8 273.9h0M55.7 286.3h0M54.2 295.4h0M49.9 288.4h0M61.1 273.1h0M38.8 309.5h0M53.9 287.9h0M47.7 291.0h0M36.4 307.2h0M46.5 287.0h0M65.9 279.1h0M55.8 281.1h0M35.5 307.7h0M42.0 293.3h0M55.3 284.5h0M39.4 291.9h0M60.5 287.1h0M58.2 283.5h0M56.3 280.2h0M62.8 285.6h0M59.6 277.2h0M58.7 274.6h0M48.0 290.2h0M45.8 284.1h0M47.8 281.0h0M34.4 311.2h0M51.2 284.1h0M32.5 310.2h0M39.4 309.4h0M34.5 301.0h0M55.2 282.2h0M37.6 308.7h0M51.7 288.6h0M56.3 289.6h0M44.3 298.1h0M42.2 300.9h0M46.5 306.6h0M40.8 288.6h0M58.2 275.5h0M40.7 298.0h0M50.1 291.7h0M55.3 290.5h0M47.7 285.5h0M43.4 276.9h0M35.8 301.1h0M53.0 284.7h0M55.1 278.7h0M41.4 302.9h0M45.5 296.1h0M57.8 278.6h0M45.7 287.7h0M51.1 281.4h0M47.2 297.2h0M41.9 298.2h0M35.3 310.5h0M46.1 287.4h0M36.3 301.5h0M48.1 302.9h0M53.3 299.4h0M53.9 291.0h0M43.7 301.0h0M50.1 281.5h0M43.4 280.7h0M47.4 286.3h0M41.2 303.5h0M48.0 295.9h0M64.0 282.0h0" fill="none" stroke="#dfe6da" stroke-opacity="0.62" stroke-width="1.08" stroke-linecap="round" filter="url(#bl03)"/>
</g>
<circle cx="48.30" cy="293.50" r="26.58" fill="none" stroke="#7c8a80" stroke-width="1.0" filter="url(#bl03)"/>
<circle cx="48.30" cy="293.50" r="29.25" fill="none" stroke="#a8b6aa" stroke-width="1.6" filter="url(#bl03)"/>
</g>
<clipPath id="cp10"><rect x="80.20" y="264.20" width="58.80" height="58.60"/></clipPath>
<clipPath id="ci10"><circle cx="109.60" cy="293.50" r="24.87"/></clipPath>
<g clip-path="url(#cp10)">
<rect x="80.20" y="264.20" width="58.80" height="58.60" fill="#040605"/>
<circle cx="109.60" cy="293.50" r="27.64" fill="#0a100e"/>
<circle cx="109.60" cy="293.50" r="24.87" fill="#08110f"/>
<g clip-path="url(#ci10)">
<ellipse cx="120.65" cy="279.68" rx="11.05" ry="6.91" fill="#2a4a50" fill-opacity="0.4" filter="url(#bl2)"/>
<path d="M119.2 291.8h0M124.1 303.6h0M116.6 286.3h0M114.6 303.8h0M124.0 298.2h0M124.5 289.4h0M118.6 283.2h0M110.2 283.0h0M97.4 305.7h0M96.2 303.1h0M101.1 296.5h0M95.2 283.0h0M128.1 289.4h0M98.6 310.0h0M105.2 292.1h0M124.8 304.1h0M119.6 280.7h0M104.7 285.8h0M130.2 291.5h0M117.9 286.6h0M112.9 296.2h0M111.2 308.7h0M91.8 282.0h0M94.9 293.5h0M91.3 287.7h0M99.8 295.0h0M97.7 279.8h0M103.9 303.0h0M113.9 314.9h0M108.1 286.7h0M111.1 293.4h0M98.6 298.0h0M96.3 280.9h0M123.6 280.9h0M89.1 301.6h0M94.7 288.8h0M94.9 302.0h0M121.9 305.6h0M103.3 287.0h0M102.2 301.7h0M126.6 305.3h0M115.7 283.7h0M123.6 310.1h0M105.5 272.1h0M104.0 297.8h0M127.5 287.8h0M96.5 295.6h0M110.3 292.4h0M119.9 287.2h0M102.5 282.0h0M117.6 274.2h0M106.4 296.7h0M96.8 305.2h0M115.0 278.0h0M97.5 291.5h0M105.9 310.8h0M127.8 305.6h0M104.3 296.0h0M110.7 314.5h0M108.6 277.2h0M107.4 285.9h0M92.1 290.7h0M94.3 309.3h0M125.8 298.0h0M107.3 285.8h0M108.1 281.4h0M116.5 295.3h0M116.7 310.1h0M98.6 308.4h0M121.3 303.9h0M98.3 277.3h0M107.4 282.5h0M115.7 289.8h0M120.0 302.5h0M93.4 297.3h0M120.4 274.7h0M95.2 300.3h0M127.0 281.0h0M99.9 311.6h0M124.8 302.6h0M125.5 278.7h0M105.6 281.5h0M116.2 287.7h0M102.1 306.6h0M103.2 307.5h0M105.5 303.7h0M93.4 292.8h0M91.4 288.6h0M97.1 289.5h0M100.5 294.6h0M98.9 302.9h0M106.4 308.8h0M94.8 283.3h0M97.4 295.8h0M92.8 296.9h0M102.1 297.2h0M98.8 299.1h0M99.6 301.3h0M98.0 303.7h0M95.8 296.4h0M95.0 297.2h0" fill="none" stroke="#d4dccf" stroke-opacity="0.75" stroke-width="0.80" stroke-linecap="round" filter="url(#bl03)"/>
<path d="M114.7 303.5h0M121.2 276.7h0M104.6 294.3h0M97.3 311.5h0M100.1 294.8h0M99.4 304.6h0M96.0 292.1h0M100.1 294.3h0M129.9 291.0h0M128.6 286.8h0M98.3 286.6h0M90.7 294.2h0M125.4 278.6h0M111.7 282.6h0M97.8 307.1h0M126.8 303.6h0M126.8 300.0h0M88.4 288.9h0M128.2 302.3h0M119.6 291.2h0M123.0 304.6h0M106.3 285.4h0M119.9 283.0h0M129.9 292.9h0M124.0 292.5h0M109.3 298.6h0M123.2 300.1h0M122.0 275.5h0M131.5 290.5h0M118.6 280.4h0M109.8 311.4h0M131.4 293.2h0M117.2 304.1h0M110.0 312.8h0M111.0 301.9h0M121.7 302.2h0M117.6 312.8h0M113.7 313.9h0M128.8 302.2h0M108.8 275.0h0M90.6 289.7h0M113.7 282.1h0M115.3 299.6h0M112.2 313.9h0M123.8 287.9h0M106.8 288.8h0M106.2 272.0h0M99.5 283.5h0M129.9 294.5h0M100.1 297.0h0M127.6 282.8h0M110.1 310.0h0M112.9 291.8h0M129.9 291.2h0M118.9 297.4h0M124.9 287.0h0M125.4 293.2h0M116.2 313.6h0M116.3 298.2h0M101.2 283.5h0M93.0 302.5h0M96.0 284.5h0M112.4 294.6h0M111.5 285.1h0M104.4 274.2h0M111.3 286.1h0M118.3 313.3h0M98.5 292.5h0M96.3 305.3h0M113.2 300.0h0M115.4 280.3h0M123.2 287.6h0M110.4 286.3h0M101.6 288.1h0M123.7 288.1h0M124.0 303.8h0M107.6 298.2h0M90.1 284.2h0M95.4 300.8h0M115.6 280.4h0M104.6 313.2h0M124.6 299.1h0M114.8 307.1h0M115.7 314.4h0M121.8 297.5h0M122.2 303.5h0M121.9 293.4h0M99.0 282.7h0M99.4 307.3h0M101.8 304.7h0M99.6 298.9h0M104.2 310.0h0M96.3 294.6h0M100.0 311.7h0M95.3 305.9h0M95.1 280.9h0M98.4 299.5h0M98.5 306.6h0M95.4 298.7h0M99.5 303.1h0M102.1 306.0h0M95.0 286.6h0M94.9 293.7h0M103.2 298.7h0M104.5 305.2h0M106.1 306.3h0M94.4 290.0h0M98.2 297.8h0" fill="none" stroke="#d4dccf" stroke-opacity="0.75" stroke-width="1.20" stroke-linecap="round" filter="url(#bl03)"/>
</g>
<circle cx="109.60" cy="293.50" r="24.73" fill="none" stroke="#5c6c60" stroke-width="0.9" filter="url(#bl03)"/>
<circle cx="109.60" cy="293.50" r="27.22" fill="none" stroke="#7e8e80" stroke-width="1.1" filter="url(#bl03)"/>
</g>
<clipPath id="cp11"><rect x="141.30" y="264.20" width="58.20" height="58.60"/></clipPath>
<clipPath id="ci11"><circle cx="170.40" cy="293.50" r="26.19"/></clipPath>
<g clip-path="url(#cp11)">
<rect x="141.30" y="264.20" width="58.20" height="58.60" fill="#040605"/>
<circle cx="170.40" cy="293.50" r="29.10" fill="#0a100e"/>
<circle cx="170.40" cy="293.50" r="26.19" fill="#040806"/>
<g clip-path="url(#ci11)">
<ellipse cx="173.31" cy="305.14" rx="13.09" ry="5.82" fill="#1d3a2c" fill-opacity="0.6" filter="url(#bl2)"/>
<path d="M175.0 273.4h0M178.6 282.0h0" fill="none" stroke="#c8d4c8" stroke-opacity="0.7" stroke-width="0.96" stroke-linecap="round" filter="url(#bl03)"/>
<path d="M177.2 303.9h0" fill="none" stroke="#c8d4c8" stroke-opacity="0.7" stroke-width="1.44" stroke-linecap="round" filter="url(#bl03)"/>
</g>
<circle cx="170.40" cy="293.50" r="26.04" fill="none" stroke="#6e7c72" stroke-width="1.0" filter="url(#bl03)"/>
<circle cx="170.40" cy="293.50" r="28.66" fill="none" stroke="#8e9c90" stroke-width="1.6" filter="url(#bl03)"/>
</g>
<text transform="translate(46.70 21.10)" font-family="Liberation Serif" font-weight="normal" font-size="13.3" text-anchor="middle" fill="#000">Control</text>
<text transform="translate(108.70 21.20)" font-family="Liberation Serif" font-weight="normal" font-size="13.3" text-anchor="middle" fill="#000">Cur</text>
<text transform="translate(169.40 21.20)" font-family="Liberation Serif" font-weight="normal" font-size="13.3" text-anchor="middle" fill="#000">Cur-NRCQDs</text>
<text transform="translate(11.20 54.20) rotate(-90)" font-family="Liberation Serif" font-weight="normal" font-size="13.3" text-anchor="middle" fill="#000">No laser</text>
<text transform="translate(11.20 113.10) rotate(-90)" font-family="Liberation Serif" font-weight="normal" font-size="13.3" text-anchor="middle" fill="#000">Laser</text>
<text transform="translate(47.70 198.60)" font-family="Liberation Serif" font-weight="normal" font-size="13.3" text-anchor="middle" fill="#000">Control</text>
<text transform="translate(109.60 199.30)" font-family="Liberation Serif" font-weight="normal" font-size="13.3" text-anchor="middle" fill="#000">Cur</text>
<text transform="translate(170.40 199.50)" font-family="Liberation Serif" font-weight="normal" font-size="13.3" text-anchor="middle" fill="#000">Cur-NRCQDs</text>
<text transform="translate(11.60 232.60) rotate(-90)" font-family="Liberation Serif" font-weight="normal" font-size="13.3" text-anchor="middle" fill="#000">No laser</text>
<text transform="translate(11.60 291.60) rotate(-90)" font-family="Liberation Serif" font-weight="normal" font-size="13.3" text-anchor="middle" fill="#000">Laser</text>
<text transform="translate(0.80 18.20)" font-family="Liberation Serif" font-weight="normal" font-size="29" text-anchor="start" fill="#000" stroke="#000" stroke-width="0.35">a</text>
<text transform="translate(214.70 21.50)" font-family="Liberation Serif" font-weight="normal" font-size="29" text-anchor="start" fill="#000" stroke="#000" stroke-width="0.35">b</text>
<text transform="translate(404.20 19.30)" font-family="Liberation Serif" font-weight="normal" font-size="29" text-anchor="start" fill="#000" stroke="#000" stroke-width="0.35">c</text>
<text transform="translate(619.20 25.60)" font-family="Liberation Serif" font-weight="normal" font-size="29" text-anchor="start" fill="#000" stroke="#000" stroke-width="0.35">d</text>
<text transform="translate(2.00 194.50)" font-family="Liberation Serif" font-weight="normal" font-size="29" text-anchor="start" fill="#000" stroke="#000" stroke-width="0.35">e</text>
<text transform="translate(218.00 201.00)" font-family="Liberation Serif" font-weight="normal" font-size="29" text-anchor="start" fill="#000" stroke="#000" stroke-width="0.35">f</text>
<text transform="translate(413.50 198.00)" font-family="Liberation Serif" font-weight="normal" font-size="29" text-anchor="start" fill="#000" stroke="#000" stroke-width="0.35">g</text>
<text transform="translate(624.00 201.00)" font-family="Liberation Serif" font-weight="normal" font-size="29" text-anchor="start" fill="#000" stroke="#000" stroke-width="0.35">h</text>
<path d="M243.20 20.20H398.20V144.30" fill="none" stroke="#6e6e6e" stroke-width="1.1"/>
<rect x="246.80" y="38.40" width="12.00" height="105.90" fill="#FA1C3E" stroke="#3a2a2a" stroke-width="0.4"/>
<path d="M252.80 37.40V39.40M251.30 37.40H254.30M251.30 39.40H254.30" stroke="#111" stroke-width="1"/>
<rect x="258.80" y="38.20" width="12.00" height="106.10" fill="#5CBEF2" stroke="#3a2a2a" stroke-width="0.4"/>
<path d="M264.80 37.70V38.70M263.30 37.70H266.30M263.30 38.70H266.30" stroke="#111" stroke-width="1"/>
<rect x="277.75" y="38.20" width="12.00" height="106.10" fill="#FA1C3E" stroke="#3a2a2a" stroke-width="0.4"/>
<path d="M283.75 37.70V38.70M282.25 37.70H285.25M282.25 38.70H285.25" stroke="#111" stroke-width="1"/>
<rect x="289.75" y="39.40" width="12.00" height="104.90" fill="#5CBEF2" stroke="#3a2a2a" stroke-width="0.4"/>
<path d="M295.75 38.90V39.90M294.25 38.90H297.25M294.25 39.90H297.25" stroke="#111" stroke-width="1"/>
<rect x="308.70" y="38.40" width="12.00" height="105.90" fill="#FA1C3E" stroke="#3a2a2a" stroke-width="0.4"/>
<path d="M314.70 37.90V38.90M313.20 37.90H316.20M313.20 38.90H316.20" stroke="#111" stroke-width="1"/>
<rect x="320.70" y="41.20" width="12.00" height="103.10" fill="#5CBEF2" stroke="#3a2a2a" stroke-width="0.4"/>
<path d="M326.70 40.90V41.50M325.20 40.90H328.20M325.20 41.50H328.20" stroke="#111" stroke-width="1"/>
<rect x="339.65" y="39.20" width="12.00" height="105.10" fill="#FA1C3E" stroke="#3a2a2a" stroke-width="0.4"/>
<path d="M345.65 38.40V40.00M344.15 38.40H347.15M344.15 40.00H347.15" stroke="#111" stroke-width="1"/>
<rect x="351.65" y="53.30" width="12.00" height="91.00" fill="#5CBEF2" stroke="#3a2a2a" stroke-width="0.4"/>
<path d="M357.65 50.30V56.30M356.15 50.30H359.15M356.15 56.30H359.15" stroke="#111" stroke-width="1"/>
<rect x="370.60" y="40.20" width="12.00" height="104.10" fill="#FA1C3E" stroke="#3a2a2a" stroke-width="0.4"/>
<path d="M376.60 39.70V40.70M375.10 39.70H378.10M375.10 40.70H378.10" stroke="#111" stroke-width="1"/>
<rect x="382.60" y="57.20" width="12.00" height="87.10" fill="#5CBEF2" stroke="#3a2a2a" stroke-width="0.4"/>
<path d="M388.60 56.70V57.70M387.10 56.70H390.10M387.10 57.70H390.10" stroke="#111" stroke-width="1"/>
<path d="M243.20 20.20V144.30H398.20" fill="none" stroke="#111" stroke-width="1.1"/>
<text transform="translate(239.20 147.16)" font-family="Liberation Sans" font-weight="bold" font-size="8.0" text-anchor="end" fill="#000" stroke="#000" stroke-width="0.25">1E-6</text>
<text transform="translate(239.20 129.44)" font-family="Liberation Sans" font-weight="bold" font-size="8.0" text-anchor="end" fill="#000" stroke="#000" stroke-width="0.25">1E-5</text>
<text transform="translate(239.20 111.71)" font-family="Liberation Sans" font-weight="bold" font-size="8.0" text-anchor="end" fill="#000" stroke="#000" stroke-width="0.25">1E-4</text>
<text transform="translate(239.20 93.98)" font-family="Liberation Sans" font-weight="bold" font-size="8.0" text-anchor="end" fill="#000" stroke="#000" stroke-width="0.25">0.001</text>
<text transform="translate(239.20 76.25)" font-family="Liberation Sans" font-weight="bold" font-size="8.0" text-anchor="end" fill="#000" stroke="#000" stroke-width="0.25">0.01</text>
<text transform="translate(239.20 58.52)" font-family="Liberation Sans" font-weight="bold" font-size="8.0" text-anchor="end" fill="#000" stroke="#000" stroke-width="0.25">0.1</text>
<text transform="translate(239.20 40.79)" font-family="Liberation Sans" font-weight="bold" font-size="8.0" text-anchor="end" fill="#000" stroke="#000" stroke-width="0.25">1</text>
<text transform="translate(239.20 23.06)" font-family="Liberation Sans" font-weight="bold" font-size="8.0" text-anchor="end" fill="#000" stroke="#000" stroke-width="0.25">10</text>
<text transform="translate(258.80 154.26)" font-family="Liberation Sans" font-weight="bold" font-size="8.0" text-anchor="middle" fill="#000" stroke="#000" stroke-width="0.25">0.1</text>
<text transform="translate(289.75 154.26)" font-family="Liberation Sans" font-weight="bold" font-size="8.0" text-anchor="middle" fill="#000" stroke="#000" stroke-width="0.25">0.5</text>
<text transform="translate(320.70 154.26)" font-family="Liberation Sans" font-weight="bold" font-size="8.0" text-anchor="middle" fill="#000" stroke="#000" stroke-width="0.25">1</text>
<text transform="translate(351.65 154.26)" font-family="Liberation Sans" font-weight="bold" font-size="8.0" text-anchor="middle" fill="#000" stroke="#000" stroke-width="0.25">5</text>
<text transform="translate(382.60 154.26)" font-family="Liberation Sans" font-weight="bold" font-size="8.0" text-anchor="middle" fill="#000" stroke="#000" stroke-width="0.25">10</text>
<path d="M240.70 144.30H243.20M241.90 138.96H243.20M241.90 135.84H243.20M241.90 133.63H243.20M241.90 131.91H243.20M241.90 130.50H243.20M241.90 129.32H243.20M241.90 128.29H243.20M241.90 127.38H243.20M240.70 126.57H243.20M241.90 121.23H243.20M241.90 118.11H243.20M241.90 115.90H243.20M241.90 114.18H243.20M241.90 112.78H243.20M241.90 111.59H243.20M241.90 110.56H243.20M241.90 109.65H243.20M240.70 108.84H243.20M241.90 103.51H243.20M241.90 100.38H243.20M241.90 98.17H243.20M241.90 96.45H243.20M241.90 95.05H243.20M241.90 93.86H243.20M241.90 92.83H243.20M241.90 91.93H243.20M240.70 91.11H243.20M241.90 85.78H243.20M241.90 82.66H243.20M241.90 80.44H243.20M241.90 78.72H243.20M241.90 77.32H243.20M241.90 76.13H243.20M241.90 75.10H243.20M241.90 74.20H243.20M240.70 73.39H243.20M241.90 68.05H243.20M241.90 64.93H243.20M241.90 62.71H243.20M241.90 60.99H243.20M241.90 59.59H243.20M241.90 58.40H243.20M241.90 57.38H243.20M241.90 56.47H243.20M240.70 55.66H243.20M241.90 50.32H243.20M241.90 47.20H243.20M241.90 44.98H243.20M241.90 43.27H243.20M241.90 41.86H243.20M241.90 40.67H243.20M241.90 39.65H243.20M241.90 38.74H243.20M240.70 37.93H243.20M241.90 32.59H243.20M241.90 29.47H243.20M241.90 27.25H243.20M241.90 25.54H243.20M241.90 24.13H243.20M241.90 22.95H243.20M241.90 21.92H243.20M241.90 21.01H243.20M240.70 20.20H243.20M258.80 144.30V146.80M274.27 144.30V145.80M243.33 144.30V145.80M289.75 144.30V146.80M305.23 144.30V145.80M320.70 144.30V146.80M336.17 144.30V145.80M351.65 144.30V146.80M367.12 144.30V145.80M382.60 144.30V146.80M398.08 144.30V145.80" stroke="#111" stroke-width="0.8"/>
<text transform="translate(216.50 78.75) rotate(-90)" font-family="Liberation Sans" font-weight="bold" font-size="9.64" text-anchor="middle" fill="#000" stroke="#000" stroke-width="0.25">Survival fraction</text>
<text transform="translate(319.30 166.00)" font-family="Liberation Sans" font-weight="bold" font-size="10.5" text-anchor="middle" fill="#000" stroke="#000" stroke-width="0.25">Concentration (μM)</text>
<rect x="339.2" y="21.8" width="14.40" height="6.50" fill="#FA1C3E" stroke="#333" stroke-width="0.5"/>
<rect x="339.2" y="30" width="14.40" height="6.60" fill="#5CBEF2" stroke="#333" stroke-width="0.5"/>
<text transform="translate(355.60 27.37)" font-family="Liberation Sans" font-weight="bold" font-size="6.45" text-anchor="start" fill="#000" stroke="#000" stroke-width="0.25">Cur</text>
<text transform="translate(355.60 35.62)" font-family="Liberation Sans" font-weight="bold" font-size="6.45" text-anchor="start" fill="#000" stroke="#000" stroke-width="0.25">Cur-NRCQDs</text>
<path d="M441.00 20.30H596.00V144.30" fill="none" stroke="#6e6e6e" stroke-width="1.1"/>
<rect x="444.50" y="39.00" width="12.50" height="105.30" fill="#FA1C3E" stroke="#3a2a2a" stroke-width="0.4"/>
<path d="M450.75 38.00V40.00M449.25 38.00H452.25M449.25 40.00H452.25" stroke="#111" stroke-width="1"/>
<rect x="457.00" y="42.40" width="12.50" height="101.90" fill="#5CBEF2" stroke="#3a2a2a" stroke-width="0.4"/>
<path d="M463.25 42.10V42.70M461.75 42.10H464.75M461.75 42.70H464.75" stroke="#111" stroke-width="1"/>
<rect x="475.35" y="39.80" width="12.50" height="104.50" fill="#FA1C3E" stroke="#3a2a2a" stroke-width="0.4"/>
<path d="M481.60 39.30V40.30M480.10 39.30H483.10M480.10 40.30H483.10" stroke="#111" stroke-width="1"/>
<rect x="487.85" y="53.80" width="12.50" height="90.50" fill="#5CBEF2" stroke="#3a2a2a" stroke-width="0.4"/>
<path d="M494.10 53.30V54.30M492.60 53.30H495.60M492.60 54.30H495.60" stroke="#111" stroke-width="1"/>
<rect x="506.20" y="41.20" width="12.50" height="103.10" fill="#FA1C3E" stroke="#3a2a2a" stroke-width="0.4"/>
<path d="M512.45 40.20V42.20M510.95 40.20H513.95M510.95 42.20H513.95" stroke="#111" stroke-width="1"/>
<rect x="518.70" y="59.40" width="12.50" height="84.90" fill="#5CBEF2" stroke="#3a2a2a" stroke-width="0.4"/>
<path d="M524.95 59.10V59.70M523.45 59.10H526.45M523.45 59.70H526.45" stroke="#111" stroke-width="1"/>
<rect x="537.05" y="47.10" width="12.50" height="97.20" fill="#FA1C3E" stroke="#3a2a2a" stroke-width="0.4"/>
<path d="M543.30 46.30V47.90M541.80 46.30H544.80M541.80 47.90H544.80" stroke="#111" stroke-width="1"/>
<rect x="549.55" y="78.90" width="12.50" height="65.40" fill="#5CBEF2" stroke="#3a2a2a" stroke-width="0.4"/>
<path d="M555.80 77.90V79.90M554.30 77.90H557.30M554.30 79.90H557.30" stroke="#111" stroke-width="1"/>
<rect x="567.90" y="48.90" width="12.50" height="95.40" fill="#FA1C3E" stroke="#3a2a2a" stroke-width="0.4"/>
<path d="M574.15 46.90V51.40M572.65 46.90H575.65M572.65 51.40H575.65" stroke="#111" stroke-width="1"/>
<path d="M441.00 20.30V144.30H596.00" fill="none" stroke="#111" stroke-width="1.1"/>
<text transform="translate(437.00 147.16)" font-family="Liberation Sans" font-weight="bold" font-size="8.0" text-anchor="end" fill="#000" stroke="#000" stroke-width="0.25">1E-6</text>
<text transform="translate(437.00 129.45)" font-family="Liberation Sans" font-weight="bold" font-size="8.0" text-anchor="end" fill="#000" stroke="#000" stroke-width="0.25">1E-5</text>
<text transform="translate(437.00 111.74)" font-family="Liberation Sans" font-weight="bold" font-size="8.0" text-anchor="end" fill="#000" stroke="#000" stroke-width="0.25">1E-4</text>
<text transform="translate(437.00 94.02)" font-family="Liberation Sans" font-weight="bold" font-size="8.0" text-anchor="end" fill="#000" stroke="#000" stroke-width="0.25">0.001</text>
<text transform="translate(437.00 76.31)" font-family="Liberation Sans" font-weight="bold" font-size="8.0" text-anchor="end" fill="#000" stroke="#000" stroke-width="0.25">0.01</text>
<text transform="translate(437.00 58.59)" font-family="Liberation Sans" font-weight="bold" font-size="8.0" text-anchor="end" fill="#000" stroke="#000" stroke-width="0.25">0.1</text>
<text transform="translate(437.00 40.88)" font-family="Liberation Sans" font-weight="bold" font-size="8.0" text-anchor="end" fill="#000" stroke="#000" stroke-width="0.25">1</text>
<text transform="translate(437.00 23.16)" font-family="Liberation Sans" font-weight="bold" font-size="8.0" text-anchor="end" fill="#000" stroke="#000" stroke-width="0.25">10</text>
<text transform="translate(457.00 154.06)" font-family="Liberation Sans" font-weight="bold" font-size="8.0" text-anchor="middle" fill="#000" stroke="#000" stroke-width="0.25">0.1</text>
<text transform="translate(487.85 154.06)" font-family="Liberation Sans" font-weight="bold" font-size="8.0" text-anchor="middle" fill="#000" stroke="#000" stroke-width="0.25">0.5</text>
<text transform="translate(518.70 154.06)" font-family="Liberation Sans" font-weight="bold" font-size="8.0" text-anchor="middle" fill="#000" stroke="#000" stroke-width="0.25">1</text>
<text transform="translate(549.55 154.06)" font-family="Liberation Sans" font-weight="bold" font-size="8.0" text-anchor="middle" fill="#000" stroke="#000" stroke-width="0.25">5</text>
<text transform="translate(580.40 154.06)" font-family="Liberation Sans" font-weight="bold" font-size="8.0" text-anchor="middle" fill="#000" stroke="#000" stroke-width="0.25">10</text>
<path d="M438.50 144.30H441.00M439.70 138.97H441.00M439.70 135.85H441.00M439.70 133.63H441.00M439.70 131.92H441.00M439.70 130.52H441.00M439.70 129.33H441.00M439.70 128.30H441.00M439.70 127.40H441.00M438.50 126.59H441.00M439.70 121.25H441.00M439.70 118.13H441.00M439.70 115.92H441.00M439.70 114.20H441.00M439.70 112.80H441.00M439.70 111.62H441.00M439.70 110.59H441.00M439.70 109.68H441.00M438.50 108.87H441.00M439.70 103.54H441.00M439.70 100.42H441.00M439.70 98.21H441.00M439.70 96.49H441.00M439.70 95.09H441.00M439.70 93.90H441.00M439.70 92.87H441.00M439.70 91.97H441.00M438.50 91.16H441.00M439.70 85.82H441.00M439.70 82.71H441.00M439.70 80.49H441.00M439.70 78.78H441.00M439.70 77.37H441.00M439.70 76.19H441.00M439.70 75.16H441.00M439.70 74.25H441.00M438.50 73.44H441.00M439.70 68.11H441.00M439.70 64.99H441.00M439.70 62.78H441.00M439.70 61.06H441.00M439.70 59.66H441.00M439.70 58.47H441.00M439.70 57.45H441.00M439.70 56.54H441.00M438.50 55.73H441.00M439.70 50.40H441.00M439.70 47.28H441.00M439.70 45.06H441.00M439.70 43.35H441.00M439.70 41.94H441.00M439.70 40.76H441.00M439.70 39.73H441.00M439.70 38.82H441.00M438.50 38.01H441.00M439.70 32.68H441.00M439.70 29.56H441.00M439.70 27.35H441.00M439.70 25.63H441.00M439.70 24.23H441.00M439.70 23.04H441.00M439.70 22.02H441.00M439.70 21.11H441.00M438.50 20.30H441.00M457.00 144.30V146.80M472.43 144.30V145.80M441.57 144.30V145.80M487.85 144.30V146.80M503.28 144.30V145.80M518.70 144.30V146.80M534.12 144.30V145.80M549.55 144.30V146.80M564.97 144.30V145.80M580.40 144.30V146.80M595.83 144.30V145.80" stroke="#111" stroke-width="0.8"/>
<text transform="translate(415.80 77.30) rotate(-90)" font-family="Liberation Sans" font-weight="bold" font-size="10.56" text-anchor="middle" fill="#000" stroke="#000" stroke-width="0.25">Survival fraction</text>
<rect x="531.4" y="22.4" width="15.30" height="6.90" fill="#FA1C3E" stroke="#333" stroke-width="0.5"/>
<rect x="531.4" y="31" width="15.30" height="7.00" fill="#5CBEF2" stroke="#333" stroke-width="0.5"/>
<text transform="translate(548.60 28.39)" font-family="Liberation Sans" font-weight="bold" font-size="7.05" text-anchor="start" fill="#000" stroke="#000" stroke-width="0.25">Cur</text>
<text transform="translate(548.60 37.04)" font-family="Liberation Sans" font-weight="bold" font-size="7.05" text-anchor="start" fill="#000" stroke="#000" stroke-width="0.25">Cur-NRCQDs</text>
<path d="M648.50 20.80H803.40V145.30" fill="none" stroke="#6e6e6e" stroke-width="1.1"/>
<rect x="656.45" y="52.00" width="15.50" height="93.30" fill="#FA1C3E" stroke="#3a2a2a" stroke-width="0.4"/>
<path d="M664.20 51.50V52.50M662.70 51.50H665.70M662.70 52.50H665.70" stroke="#111" stroke-width="1"/>
<rect x="687.40" y="54.40" width="15.50" height="90.90" fill="#FA1C3E" stroke="#3a2a2a" stroke-width="0.4"/>
<path d="M695.15 52.40V56.40M693.65 52.40H696.65M693.65 56.40H696.65" stroke="#111" stroke-width="1"/>
<rect x="718.35" y="61.80" width="15.50" height="83.50" fill="#FA1C3E" stroke="#3a2a2a" stroke-width="0.4"/>
<path d="M726.10 59.40V65.50M724.60 59.40H727.60M724.60 65.50H727.60" stroke="#111" stroke-width="1"/>
<rect x="749.30" y="85.10" width="15.50" height="60.20" fill="#FA1C3E" stroke="#3a2a2a" stroke-width="0.4"/>
<path d="M757.05 80.10V98.10M755.55 80.10H758.55M755.55 98.10H758.55" stroke="#111" stroke-width="1"/>
<rect x="780.25" y="84.10" width="15.50" height="61.20" fill="#FA1C3E" stroke="#3a2a2a" stroke-width="0.4"/>
<path d="M788.00 82.50V85.10M786.50 82.50H789.50M786.50 85.10H789.50" stroke="#111" stroke-width="1"/>
<path d="M648.50 20.80V145.30H803.40" fill="none" stroke="#111" stroke-width="1.1"/>
<text transform="translate(644.50 148.13)" font-family="Liberation Sans" font-weight="bold" font-size="7.9" text-anchor="end" fill="#000" stroke="#000" stroke-width="0.25">1E-6</text>
<text transform="translate(644.50 130.34)" font-family="Liberation Sans" font-weight="bold" font-size="7.9" text-anchor="end" fill="#000" stroke="#000" stroke-width="0.25">1E-5</text>
<text transform="translate(644.50 112.56)" font-family="Liberation Sans" font-weight="bold" font-size="7.9" text-anchor="end" fill="#000" stroke="#000" stroke-width="0.25">1E-4</text>
<text transform="translate(644.50 94.77)" font-family="Liberation Sans" font-weight="bold" font-size="7.9" text-anchor="end" fill="#000" stroke="#000" stroke-width="0.25">0.001</text>
<text transform="translate(644.50 76.99)" font-family="Liberation Sans" font-weight="bold" font-size="7.9" text-anchor="end" fill="#000" stroke="#000" stroke-width="0.25">0.01</text>
<text transform="translate(644.50 59.20)" font-family="Liberation Sans" font-weight="bold" font-size="7.9" text-anchor="end" fill="#000" stroke="#000" stroke-width="0.25">0.1</text>
<text transform="translate(644.50 41.41)" font-family="Liberation Sans" font-weight="bold" font-size="7.9" text-anchor="end" fill="#000" stroke="#000" stroke-width="0.25">1</text>
<text transform="translate(644.50 23.63)" font-family="Liberation Sans" font-weight="bold" font-size="7.9" text-anchor="end" fill="#000" stroke="#000" stroke-width="0.25">10</text>
<text transform="translate(664.20 155.26)" font-family="Liberation Sans" font-weight="bold" font-size="8.0" text-anchor="middle" fill="#000" stroke="#000" stroke-width="0.25">0</text>
<text transform="translate(695.15 155.26)" font-family="Liberation Sans" font-weight="bold" font-size="8.0" text-anchor="middle" fill="#000" stroke="#000" stroke-width="0.25">1</text>
<text transform="translate(726.10 155.26)" font-family="Liberation Sans" font-weight="bold" font-size="8.0" text-anchor="middle" fill="#000" stroke="#000" stroke-width="0.25">5</text>
<text transform="translate(757.05 155.26)" font-family="Liberation Sans" font-weight="bold" font-size="8.0" text-anchor="middle" fill="#000" stroke="#000" stroke-width="0.25">10</text>
<text transform="translate(788.00 155.26)" font-family="Liberation Sans" font-weight="bold" font-size="8.0" text-anchor="middle" fill="#000" stroke="#000" stroke-width="0.25">15</text>
<path d="M646.00 145.30H648.50M647.20 139.95H648.50M647.20 136.81H648.50M647.20 134.59H648.50M647.20 132.87H648.50M647.20 131.46H648.50M647.20 130.27H648.50M647.20 129.24H648.50M647.20 128.33H648.50M646.00 127.51H648.50M647.20 122.16H648.50M647.20 119.03H648.50M647.20 116.81H648.50M647.20 115.08H648.50M647.20 113.67H648.50M647.20 112.48H648.50M647.20 111.45H648.50M647.20 110.54H648.50M646.00 109.73H648.50M647.20 104.37H648.50M647.20 101.24H648.50M647.20 99.02H648.50M647.20 97.30H648.50M647.20 95.89H648.50M647.20 94.70H648.50M647.20 93.67H648.50M647.20 92.76H648.50M646.00 91.94H648.50M647.20 86.59H648.50M647.20 83.46H648.50M647.20 81.23H648.50M647.20 79.51H648.50M647.20 78.10H648.50M647.20 76.91H648.50M647.20 75.88H648.50M647.20 74.97H648.50M646.00 74.16H648.50M647.20 68.80H648.50M647.20 65.67H648.50M647.20 63.45H648.50M647.20 61.73H648.50M647.20 60.32H648.50M647.20 59.13H648.50M647.20 58.10H648.50M647.20 57.19H648.50M646.00 56.37H648.50M647.20 51.02H648.50M647.20 47.89H648.50M647.20 45.66H648.50M647.20 43.94H648.50M647.20 42.53H648.50M647.20 41.34H648.50M647.20 40.31H648.50M647.20 39.40H648.50M646.00 38.59H648.50M647.20 33.23H648.50M647.20 30.10H648.50M647.20 27.88H648.50M647.20 26.15H648.50M647.20 24.75H648.50M647.20 23.56H648.50M647.20 22.52H648.50M647.20 21.61H648.50M646.00 20.80H648.50M664.20 145.30V147.80M679.68 145.30V146.80M648.73 145.30V146.80M695.15 145.30V147.80M710.63 145.30V146.80M726.10 145.30V147.80M741.58 145.30V146.80M757.05 145.30V147.80M772.53 145.30V146.80M788.00 145.30V147.80M803.48 145.30V146.80" stroke="#111" stroke-width="0.8"/>
<text transform="translate(622.80 78.00) rotate(-90)" font-family="Liberation Sans" font-weight="bold" font-size="10.4" text-anchor="middle" fill="#000" stroke="#000" stroke-width="0.25">Survival fraction</text>
<path d="M245.00 198.20H398.30V321.50" fill="none" stroke="#6e6e6e" stroke-width="1.1"/>
<rect x="247.60" y="216.10" width="10.20" height="105.40" fill="#FA1C3E" stroke="#3a2a2a" stroke-width="0.4"/>
<path d="M252.70 215.60V216.60M251.20 215.60H254.20M251.20 216.60H254.20" stroke="#111" stroke-width="1"/>
<rect x="257.80" y="216.10" width="10.20" height="105.40" fill="#5CBEF2" stroke="#3a2a2a" stroke-width="0.4"/>
<path d="M262.90 215.70V216.50M261.40 215.70H264.40M261.40 216.50H264.40" stroke="#111" stroke-width="1"/>
<rect x="273.16" y="217.10" width="10.20" height="104.40" fill="#FA1C3E" stroke="#3a2a2a" stroke-width="0.4"/>
<path d="M278.26 216.60V217.60M276.76 216.60H279.76M276.76 217.60H279.76" stroke="#111" stroke-width="1"/>
<rect x="283.36" y="217.30" width="10.20" height="104.20" fill="#5CBEF2" stroke="#3a2a2a" stroke-width="0.4"/>
<path d="M288.46 216.90V217.70M286.96 216.90H289.96M286.96 217.70H289.96" stroke="#111" stroke-width="1"/>
<rect x="298.72" y="217.90" width="10.20" height="103.60" fill="#FA1C3E" stroke="#3a2a2a" stroke-width="0.4"/>
<path d="M303.82 217.40V218.40M302.32 217.40H305.32M302.32 218.40H305.32" stroke="#111" stroke-width="1"/>
<rect x="308.92" y="219.10" width="10.20" height="102.40" fill="#5CBEF2" stroke="#3a2a2a" stroke-width="0.4"/>
<path d="M314.02 218.70V219.50M312.52 218.70H315.52M312.52 219.50H315.52" stroke="#111" stroke-width="1"/>
<rect x="324.28" y="218.70" width="10.20" height="102.80" fill="#FA1C3E" stroke="#3a2a2a" stroke-width="0.4"/>
<path d="M329.38 218.20V219.20M327.88 218.20H330.88M327.88 219.20H330.88" stroke="#111" stroke-width="1"/>
<rect x="334.48" y="230.60" width="10.20" height="90.90" fill="#5CBEF2" stroke="#3a2a2a" stroke-width="0.4"/>
<path d="M339.58 230.20V231.00M338.08 230.20H341.08M338.08 231.00H341.08" stroke="#111" stroke-width="1"/>
<rect x="349.84" y="219.10" width="10.20" height="102.40" fill="#FA1C3E" stroke="#3a2a2a" stroke-width="0.4"/>
<path d="M354.94 218.60V219.60M353.44 218.60H356.44M353.44 219.60H356.44" stroke="#111" stroke-width="1"/>
<rect x="360.04" y="251.00" width="10.20" height="70.50" fill="#5CBEF2" stroke="#3a2a2a" stroke-width="0.4"/>
<path d="M365.14 248.60V253.80M363.64 248.60H366.64M363.64 253.80H366.64" stroke="#111" stroke-width="1"/>
<rect x="375.40" y="218.30" width="10.20" height="103.20" fill="#FA1C3E" stroke="#3a2a2a" stroke-width="0.4"/>
<path d="M380.50 217.80V218.80M379.00 217.80H382.00M379.00 218.80H382.00" stroke="#111" stroke-width="1"/>
<rect x="385.60" y="254.20" width="10.20" height="67.30" fill="#5CBEF2" stroke="#3a2a2a" stroke-width="0.4"/>
<path d="M390.70 252.00V257.60M389.20 252.00H392.20M389.20 257.60H392.20" stroke="#111" stroke-width="1"/>
<path d="M245.00 198.20V321.50H398.30" fill="none" stroke="#111" stroke-width="1.1"/>
<text transform="translate(241.00 324.47)" font-family="Liberation Sans" font-weight="bold" font-size="8.3" text-anchor="end" fill="#000" stroke="#000" stroke-width="0.25">1E-6</text>
<text transform="translate(241.00 306.86)" font-family="Liberation Sans" font-weight="bold" font-size="8.3" text-anchor="end" fill="#000" stroke="#000" stroke-width="0.25">1E-5</text>
<text transform="translate(241.00 289.24)" font-family="Liberation Sans" font-weight="bold" font-size="8.3" text-anchor="end" fill="#000" stroke="#000" stroke-width="0.25">1E-4</text>
<text transform="translate(241.00 271.63)" font-family="Liberation Sans" font-weight="bold" font-size="8.3" text-anchor="end" fill="#000" stroke="#000" stroke-width="0.25">0.001</text>
<text transform="translate(241.00 254.01)" font-family="Liberation Sans" font-weight="bold" font-size="8.3" text-anchor="end" fill="#000" stroke="#000" stroke-width="0.25">0.01</text>
<text transform="translate(241.00 236.40)" font-family="Liberation Sans" font-weight="bold" font-size="8.3" text-anchor="end" fill="#000" stroke="#000" stroke-width="0.25">0.1</text>
<text transform="translate(241.00 218.79)" font-family="Liberation Sans" font-weight="bold" font-size="8.3" text-anchor="end" fill="#000" stroke="#000" stroke-width="0.25">1</text>
<text transform="translate(241.00 201.17)" font-family="Liberation Sans" font-weight="bold" font-size="8.3" text-anchor="end" fill="#000" stroke="#000" stroke-width="0.25">10</text>
<text transform="translate(257.80 333.01)" font-family="Liberation Sans" font-weight="bold" font-size="8.4" text-anchor="middle" fill="#000" stroke="#000" stroke-width="0.25">0.1</text>
<text transform="translate(283.36 333.01)" font-family="Liberation Sans" font-weight="bold" font-size="8.4" text-anchor="middle" fill="#000" stroke="#000" stroke-width="0.25">0.5</text>
<text transform="translate(308.92 333.01)" font-family="Liberation Sans" font-weight="bold" font-size="8.4" text-anchor="middle" fill="#000" stroke="#000" stroke-width="0.25">1</text>
<text transform="translate(334.48 333.01)" font-family="Liberation Sans" font-weight="bold" font-size="8.4" text-anchor="middle" fill="#000" stroke="#000" stroke-width="0.25">5</text>
<text transform="translate(360.04 333.01)" font-family="Liberation Sans" font-weight="bold" font-size="8.4" text-anchor="middle" fill="#000" stroke="#000" stroke-width="0.25">10</text>
<text transform="translate(385.60 333.01)" font-family="Liberation Sans" font-weight="bold" font-size="8.4" text-anchor="middle" fill="#000" stroke="#000" stroke-width="0.25">15</text>
<path d="M242.50 321.50H245.00M243.70 316.20H245.00M243.70 313.10H245.00M243.70 310.90H245.00M243.70 309.19H245.00M243.70 307.79H245.00M243.70 306.61H245.00M243.70 305.59H245.00M243.70 304.69H245.00M242.50 303.89H245.00M243.70 298.58H245.00M243.70 295.48H245.00M243.70 293.28H245.00M243.70 291.57H245.00M243.70 290.18H245.00M243.70 289.00H245.00M243.70 287.98H245.00M243.70 287.08H245.00M242.50 286.27H245.00M243.70 280.97H245.00M243.70 277.87H245.00M243.70 275.67H245.00M243.70 273.96H245.00M243.70 272.56H245.00M243.70 271.39H245.00M243.70 270.36H245.00M243.70 269.46H245.00M242.50 268.66H245.00M243.70 263.35H245.00M243.70 260.25H245.00M243.70 258.05H245.00M243.70 256.35H245.00M243.70 254.95H245.00M243.70 253.77H245.00M243.70 252.75H245.00M243.70 251.85H245.00M242.50 251.04H245.00M243.70 245.74H245.00M243.70 242.64H245.00M243.70 240.44H245.00M243.70 238.73H245.00M243.70 237.34H245.00M243.70 236.16H245.00M243.70 235.14H245.00M243.70 234.23H245.00M242.50 233.43H245.00M243.70 228.13H245.00M243.70 225.02H245.00M243.70 222.82H245.00M243.70 221.12H245.00M243.70 219.72H245.00M243.70 218.54H245.00M243.70 217.52H245.00M243.70 216.62H245.00M242.50 215.81H245.00M243.70 210.51H245.00M243.70 207.41H245.00M243.70 205.21H245.00M243.70 203.50H245.00M243.70 202.11H245.00M243.70 200.93H245.00M243.70 199.91H245.00M243.70 199.01H245.00M242.50 198.20H245.00M257.80 321.50V324.00M270.58 321.50V323.00M245.02 321.50V323.00M283.36 321.50V324.00M296.14 321.50V323.00M308.92 321.50V324.00M321.70 321.50V323.00M334.48 321.50V324.00M347.26 321.50V323.00M360.04 321.50V324.00M372.82 321.50V323.00M385.60 321.50V324.00M398.38 321.50V323.00" stroke="#111" stroke-width="0.8"/>
<text transform="translate(217.80 259.45) rotate(-90)" font-family="Liberation Sans" font-weight="bold" font-size="10.4" text-anchor="middle" fill="#000" stroke="#000" stroke-width="0.25">Survival fraction</text>
<text transform="translate(316.50 344.00)" font-family="Liberation Sans" font-weight="bold" font-size="10.4" text-anchor="middle" fill="#000" stroke="#000" stroke-width="0.25">Concentration (μM)</text>
<rect x="343.1" y="200.9" width="13.50" height="6.30" fill="#FA1C3E" stroke="#333" stroke-width="0.5"/>
<rect x="343.1" y="208.4" width="13.50" height="6.40" fill="#5CBEF2" stroke="#333" stroke-width="0.5"/>
<text transform="translate(358.10 206.25)" font-family="Liberation Sans" font-weight="bold" font-size="6.1" text-anchor="start" fill="#000" stroke="#000" stroke-width="0.25">Cur</text>
<text transform="translate(358.10 213.80)" font-family="Liberation Sans" font-weight="bold" font-size="6.1" text-anchor="start" fill="#000" stroke="#000" stroke-width="0.25">Cur-NRCQDs</text>
<path d="M451.50 199.40H605.10V323.40" fill="none" stroke="#6e6e6e" stroke-width="1.1"/>
<rect x="454.50" y="217.10" width="10.30" height="106.30" fill="#FA1C3E" stroke="#3a2a2a" stroke-width="0.4"/>
<path d="M459.65 216.10V218.10M458.15 216.10H461.15M458.15 218.10H461.15" stroke="#111" stroke-width="1"/>
<rect x="464.80" y="220.10" width="10.30" height="103.30" fill="#5CBEF2" stroke="#3a2a2a" stroke-width="0.4"/>
<path d="M469.95 219.70V220.50M468.45 219.70H471.45M468.45 220.50H471.45" stroke="#111" stroke-width="1"/>
<rect x="480.06" y="218.10" width="10.30" height="105.30" fill="#FA1C3E" stroke="#3a2a2a" stroke-width="0.4"/>
<path d="M485.21 217.50V218.70M483.71 217.50H486.71M483.71 218.70H486.71" stroke="#111" stroke-width="1"/>
<rect x="490.36" y="220.70" width="10.30" height="102.70" fill="#5CBEF2" stroke="#3a2a2a" stroke-width="0.4"/>
<path d="M495.51 220.30V221.10M494.01 220.30H497.01M494.01 221.10H497.01" stroke="#111" stroke-width="1"/>
<rect x="505.62" y="218.70" width="10.30" height="104.70" fill="#FA1C3E" stroke="#3a2a2a" stroke-width="0.4"/>
<path d="M510.77 218.10V219.30M509.27 218.10H512.27M509.27 219.30H512.27" stroke="#111" stroke-width="1"/>
<rect x="515.92" y="224.00" width="10.30" height="99.40" fill="#5CBEF2" stroke="#3a2a2a" stroke-width="0.4"/>
<path d="M521.07 223.60V224.40M519.57 223.60H522.57M519.57 224.40H522.57" stroke="#111" stroke-width="1"/>
<rect x="531.18" y="222.90" width="10.30" height="100.50" fill="#FA1C3E" stroke="#3a2a2a" stroke-width="0.4"/>
<path d="M536.33 222.30V223.50M534.83 222.30H537.83M534.83 223.50H537.83" stroke="#111" stroke-width="1"/>
<rect x="541.48" y="246.00" width="10.30" height="77.40" fill="#5CBEF2" stroke="#3a2a2a" stroke-width="0.4"/>
<path d="M546.63 243.30V249.60M545.13 243.30H548.13M545.13 249.60H548.13" stroke="#111" stroke-width="1"/>
<rect x="556.74" y="225.20" width="10.30" height="98.20" fill="#FA1C3E" stroke="#3a2a2a" stroke-width="0.4"/>
<path d="M561.89 224.70V225.70M560.39 224.70H563.39M560.39 225.70H563.39" stroke="#111" stroke-width="1"/>
<rect x="567.04" y="259.40" width="10.30" height="64.00" fill="#5CBEF2" stroke="#3a2a2a" stroke-width="0.4"/>
<path d="M572.19 257.90V260.80M570.69 257.90H573.69M570.69 260.80H573.69" stroke="#111" stroke-width="1"/>
<rect x="582.30" y="232.10" width="10.30" height="91.30" fill="#FA1C3E" stroke="#3a2a2a" stroke-width="0.4"/>
<path d="M587.45 231.60V232.60M585.95 231.60H588.95M585.95 232.60H588.95" stroke="#111" stroke-width="1"/>
<path d="M451.50 199.40V323.40H605.10" fill="none" stroke="#111" stroke-width="1.1"/>
<text transform="translate(447.50 326.37)" font-family="Liberation Sans" font-weight="bold" font-size="8.3" text-anchor="end" fill="#000" stroke="#000" stroke-width="0.25">1E-6</text>
<text transform="translate(447.50 308.66)" font-family="Liberation Sans" font-weight="bold" font-size="8.3" text-anchor="end" fill="#000" stroke="#000" stroke-width="0.25">1E-5</text>
<text transform="translate(447.50 290.94)" font-family="Liberation Sans" font-weight="bold" font-size="8.3" text-anchor="end" fill="#000" stroke="#000" stroke-width="0.25">1E-4</text>
<text transform="translate(447.50 273.23)" font-family="Liberation Sans" font-weight="bold" font-size="8.3" text-anchor="end" fill="#000" stroke="#000" stroke-width="0.25">0.001</text>
<text transform="translate(447.50 255.51)" font-family="Liberation Sans" font-weight="bold" font-size="8.3" text-anchor="end" fill="#000" stroke="#000" stroke-width="0.25">0.01</text>
<text transform="translate(447.50 237.80)" font-family="Liberation Sans" font-weight="bold" font-size="8.3" text-anchor="end" fill="#000" stroke="#000" stroke-width="0.25">0.1</text>
<text transform="translate(447.50 220.09)" font-family="Liberation Sans" font-weight="bold" font-size="8.3" text-anchor="end" fill="#000" stroke="#000" stroke-width="0.25">1</text>
<text transform="translate(447.50 202.37)" font-family="Liberation Sans" font-weight="bold" font-size="8.3" text-anchor="end" fill="#000" stroke="#000" stroke-width="0.25">10</text>
<text transform="translate(466.00 333.61)" font-family="Liberation Sans" font-weight="bold" font-size="8.4" text-anchor="middle" fill="#000" stroke="#000" stroke-width="0.25">0.1</text>
<text transform="translate(491.56 333.61)" font-family="Liberation Sans" font-weight="bold" font-size="8.4" text-anchor="middle" fill="#000" stroke="#000" stroke-width="0.25">0.5</text>
<text transform="translate(517.12 333.61)" font-family="Liberation Sans" font-weight="bold" font-size="8.4" text-anchor="middle" fill="#000" stroke="#000" stroke-width="0.25">1</text>
<text transform="translate(542.68 333.61)" font-family="Liberation Sans" font-weight="bold" font-size="8.4" text-anchor="middle" fill="#000" stroke="#000" stroke-width="0.25">5</text>
<text transform="translate(568.24 333.61)" font-family="Liberation Sans" font-weight="bold" font-size="8.4" text-anchor="middle" fill="#000" stroke="#000" stroke-width="0.25">10</text>
<text transform="translate(593.80 333.61)" font-family="Liberation Sans" font-weight="bold" font-size="8.4" text-anchor="middle" fill="#000" stroke="#000" stroke-width="0.25">15</text>
<path d="M449.00 323.40H451.50M450.20 318.07H451.50M450.20 314.95H451.50M450.20 312.73H451.50M450.20 311.02H451.50M450.20 309.62H451.50M450.20 308.43H451.50M450.20 307.40H451.50M450.20 306.50H451.50M449.00 305.69H451.50M450.20 300.35H451.50M450.20 297.23H451.50M450.20 295.02H451.50M450.20 293.30H451.50M450.20 291.90H451.50M450.20 290.72H451.50M450.20 289.69H451.50M450.20 288.78H451.50M449.00 287.97H451.50M450.20 282.64H451.50M450.20 279.52H451.50M450.20 277.31H451.50M450.20 275.59H451.50M450.20 274.19H451.50M450.20 273.00H451.50M450.20 271.97H451.50M450.20 271.07H451.50M449.00 270.26H451.50M450.20 264.92H451.50M450.20 261.81H451.50M450.20 259.59H451.50M450.20 257.88H451.50M450.20 256.47H451.50M450.20 255.29H451.50M450.20 254.26H451.50M450.20 253.35H451.50M449.00 252.54H451.50M450.20 247.21H451.50M450.20 244.09H451.50M450.20 241.88H451.50M450.20 240.16H451.50M450.20 238.76H451.50M450.20 237.57H451.50M450.20 236.55H451.50M450.20 235.64H451.50M449.00 234.83H451.50M450.20 229.50H451.50M450.20 226.38H451.50M450.20 224.16H451.50M450.20 222.45H451.50M450.20 221.04H451.50M450.20 219.86H451.50M450.20 218.83H451.50M450.20 217.92H451.50M449.00 217.11H451.50M450.20 211.78H451.50M450.20 208.66H451.50M450.20 206.45H451.50M450.20 204.73H451.50M450.20 203.33H451.50M450.20 202.14H451.50M450.20 201.12H451.50M450.20 200.21H451.50M449.00 199.40H451.50M464.80 323.40V325.90M477.58 323.40V324.90M452.02 323.40V324.90M490.36 323.40V325.90M503.14 323.40V324.90M515.92 323.40V325.90M528.70 323.40V324.90M541.48 323.40V325.90M554.26 323.40V324.90M567.04 323.40V325.90M579.82 323.40V324.90M592.60 323.40V325.90M605.38 323.40V324.90" stroke="#111" stroke-width="0.8"/>
<text transform="translate(423.60 260.90) rotate(-90)" font-family="Liberation Sans" font-weight="bold" font-size="10.4" text-anchor="middle" fill="#000" stroke="#000" stroke-width="0.25">Survival fraction</text>
<text transform="translate(523.85 344.70)" font-family="Liberation Sans" font-weight="bold" font-size="10.5" text-anchor="middle" fill="#000" stroke="#000" stroke-width="0.25">Concentration (μM)</text>
<rect x="541.5" y="202.5" width="15.20" height="7.30" fill="#FA1C3E" stroke="#333" stroke-width="0.5"/>
<rect x="541.5" y="211.4" width="15.20" height="7.70" fill="#5CBEF2" stroke="#333" stroke-width="0.5"/>
<text transform="translate(558.60 208.74)" font-family="Liberation Sans" font-weight="bold" font-size="7.2" text-anchor="start" fill="#000" stroke="#000" stroke-width="0.25">Cur</text>
<text transform="translate(558.60 217.84)" font-family="Liberation Sans" font-weight="bold" font-size="7.2" text-anchor="start" fill="#000" stroke="#000" stroke-width="0.25">Cur-NRCQDs</text>
<path d="M654.00 199.60H808.80V323.30" fill="none" stroke="#6e6e6e" stroke-width="1.1"/>
<rect x="660.80" y="231.70" width="12.80" height="91.60" fill="#FA1C3E" stroke="#3a2a2a" stroke-width="0.4"/>
<path d="M667.20 231.20V232.20M665.70 231.20H668.70M665.70 232.20H668.70" stroke="#111" stroke-width="1"/>
<rect x="686.40" y="231.00" width="12.80" height="92.30" fill="#FA1C3E" stroke="#3a2a2a" stroke-width="0.4"/>
<path d="M692.80 230.20V231.80M691.30 230.20H694.30M691.30 231.80H694.30" stroke="#111" stroke-width="1"/>
<rect x="712.00" y="231.90" width="12.80" height="91.40" fill="#FA1C3E" stroke="#3a2a2a" stroke-width="0.4"/>
<path d="M718.40 230.20V234.20M716.90 230.20H719.90M716.90 234.20H719.90" stroke="#111" stroke-width="1"/>
<rect x="737.60" y="259.20" width="12.80" height="64.10" fill="#FA1C3E" stroke="#3a2a2a" stroke-width="0.4"/>
<path d="M744.00 257.50V260.60M742.50 257.50H745.50M742.50 260.60H745.50" stroke="#111" stroke-width="1"/>
<rect x="763.20" y="266.30" width="12.80" height="57.00" fill="#FA1C3E" stroke="#3a2a2a" stroke-width="0.4"/>
<path d="M769.60 265.10V267.50M768.10 265.10H771.10M768.10 267.50H771.10" stroke="#111" stroke-width="1"/>
<rect x="788.80" y="253.90" width="12.80" height="69.40" fill="#FA1C3E" stroke="#3a2a2a" stroke-width="0.4"/>
<path d="M795.20 252.60V255.20M793.70 252.60H796.70M793.70 255.20H796.70" stroke="#111" stroke-width="1"/>
<path d="M654.00 199.60V323.30H808.80" fill="none" stroke="#111" stroke-width="1.1"/>
<text transform="translate(650.00 326.16)" font-family="Liberation Sans" font-weight="bold" font-size="8.0" text-anchor="end" fill="#000" stroke="#000" stroke-width="0.25">1E-6</text>
<text transform="translate(650.00 308.49)" font-family="Liberation Sans" font-weight="bold" font-size="8.0" text-anchor="end" fill="#000" stroke="#000" stroke-width="0.25">1E-5</text>
<text transform="translate(650.00 290.82)" font-family="Liberation Sans" font-weight="bold" font-size="8.0" text-anchor="end" fill="#000" stroke="#000" stroke-width="0.25">1E-4</text>
<text transform="translate(650.00 273.15)" font-family="Liberation Sans" font-weight="bold" font-size="8.0" text-anchor="end" fill="#000" stroke="#000" stroke-width="0.25">0.001</text>
<text transform="translate(650.00 255.48)" font-family="Liberation Sans" font-weight="bold" font-size="8.0" text-anchor="end" fill="#000" stroke="#000" stroke-width="0.25">0.01</text>
<text transform="translate(650.00 237.81)" font-family="Liberation Sans" font-weight="bold" font-size="8.0" text-anchor="end" fill="#000" stroke="#000" stroke-width="0.25">0.1</text>
<text transform="translate(650.00 220.14)" font-family="Liberation Sans" font-weight="bold" font-size="8.0" text-anchor="end" fill="#000" stroke="#000" stroke-width="0.25">1</text>
<text transform="translate(650.00 202.46)" font-family="Liberation Sans" font-weight="bold" font-size="8.0" text-anchor="end" fill="#000" stroke="#000" stroke-width="0.25">10</text>
<text transform="translate(667.20 333.84)" font-family="Liberation Sans" font-weight="bold" font-size="8.2" text-anchor="middle" fill="#000" stroke="#000" stroke-width="0.25">0</text>
<text transform="translate(692.80 333.84)" font-family="Liberation Sans" font-weight="bold" font-size="8.2" text-anchor="middle" fill="#000" stroke="#000" stroke-width="0.25">1</text>
<text transform="translate(718.40 333.84)" font-family="Liberation Sans" font-weight="bold" font-size="8.2" text-anchor="middle" fill="#000" stroke="#000" stroke-width="0.25">5</text>
<text transform="translate(744.00 333.84)" font-family="Liberation Sans" font-weight="bold" font-size="8.2" text-anchor="middle" fill="#000" stroke="#000" stroke-width="0.25">10</text>
<text transform="translate(769.60 333.84)" font-family="Liberation Sans" font-weight="bold" font-size="8.2" text-anchor="middle" fill="#000" stroke="#000" stroke-width="0.25">15</text>
<text transform="translate(795.20 333.84)" font-family="Liberation Sans" font-weight="bold" font-size="8.2" text-anchor="middle" fill="#000" stroke="#000" stroke-width="0.25">20</text>
<path d="M651.50 323.30H654.00M652.70 317.98H654.00M652.70 314.87H654.00M652.70 312.66H654.00M652.70 310.95H654.00M652.70 309.55H654.00M652.70 308.37H654.00M652.70 307.34H654.00M652.70 306.44H654.00M651.50 305.63H654.00M652.70 300.31H654.00M652.70 297.20H654.00M652.70 294.99H654.00M652.70 293.28H654.00M652.70 291.88H654.00M652.70 290.69H654.00M652.70 289.67H654.00M652.70 288.77H654.00M651.50 287.96H654.00M652.70 282.64H654.00M652.70 279.53H654.00M652.70 277.32H654.00M652.70 275.61H654.00M652.70 274.21H654.00M652.70 273.02H654.00M652.70 272.00H654.00M652.70 271.09H654.00M651.50 270.29H654.00M652.70 264.97H654.00M652.70 261.85H654.00M652.70 259.65H654.00M652.70 257.93H654.00M652.70 256.53H654.00M652.70 255.35H654.00M652.70 254.33H654.00M652.70 253.42H654.00M651.50 252.61H654.00M652.70 247.29H654.00M652.70 244.18H654.00M652.70 241.98H654.00M652.70 240.26H654.00M652.70 238.86H654.00M652.70 237.68H654.00M652.70 236.66H654.00M652.70 235.75H654.00M651.50 234.94H654.00M652.70 229.62H654.00M652.70 226.51H654.00M652.70 224.30H654.00M652.70 222.59H654.00M652.70 221.19H654.00M652.70 220.01H654.00M652.70 218.98H654.00M652.70 218.08H654.00M651.50 217.27H654.00M652.70 211.95H654.00M652.70 208.84H654.00M652.70 206.63H654.00M652.70 204.92H654.00M652.70 203.52H654.00M652.70 202.34H654.00M652.70 201.31H654.00M652.70 200.41H654.00M651.50 199.60H654.00M667.20 323.30V325.80M680.00 323.30V324.80M654.40 323.30V324.80M692.80 323.30V325.80M705.60 323.30V324.80M718.40 323.30V325.80M731.20 323.30V324.80M744.00 323.30V325.80M756.80 323.30V324.80M769.60 323.30V325.80M782.40 323.30V324.80M795.20 323.30V325.80M808.00 323.30V324.80" stroke="#111" stroke-width="0.8"/>
<text transform="translate(627.20 260.45) rotate(-90)" font-family="Liberation Sans" font-weight="bold" font-size="10.5" text-anchor="middle" fill="#000" stroke="#000" stroke-width="0.25">Survival fraction</text>
<text transform="translate(726.00 344.60)" font-family="Liberation Sans" font-weight="bold" font-size="10.4" text-anchor="middle" fill="#000" stroke="#000" stroke-width="0.25">Time (min)</text>
</svg></body></html>
